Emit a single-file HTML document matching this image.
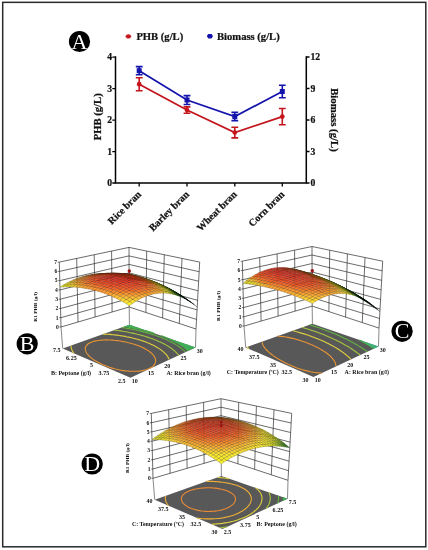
<!DOCTYPE html>
<html><head><meta charset="utf-8"><title>Figure</title>
<style>html,body{margin:0;padding:0;background:#fff}svg{display:block}
text{font-family:"Liberation Serif",serif;font-weight:bold;fill:#111}.a text{stroke:#111;stroke-width:.22px}</style></head>
<body><svg width="428" height="550" viewBox="0 0 428 550">
<rect x="0" y="0" width="428" height="550" fill="#fff"/>
<rect x="2.7" y="2.35" width="423.1" height="544.45" fill="none" stroke="#2a2a2a" stroke-width="1.5"/>
<g class="a"><g stroke="#000" stroke-width="1.5" fill="none" stroke-linecap="square">
<path d="M115.5,57 V183 H306.3 V57"/>
<path d="M115.5,183.0 h-3.2 M306.3,183.0 h3.2 M115.5,151.6 h-3.2 M306.3,151.5 h3.2 M115.5,120.1 h-3.2 M306.3,120.0 h3.2 M115.5,88.7 h-3.2 M306.3,88.5 h3.2 M115.5,57.2 h-3.2 M306.3,57.0 h3.2 M139.2,183 v3.4 M187.0,183 v3.4 M234.8,183 v3.4 M282.3,183 v3.4" stroke-width="1.3" stroke-linecap="butt"/>
</g>
<g stroke="#c4141c" fill="#c4141c" stroke-width="1.75">
<polyline points="139.2,84.2 187.0,110.0 234.8,132.5 282.3,116.6" fill="none"/>
<path d="M139.2,77.8 V90.7 M135.8,77.8 h6.8 M135.8,90.7 h6.8 M187.0,106.9 V113.2 M183.6,106.9 h6.8 M183.6,113.2 h6.8 M234.8,127.2 V137.9 M231.4,127.2 h6.8 M231.4,137.9 h6.8 M282.3,108.5 V124.8 M278.9,108.5 h6.8 M278.9,124.8 h6.8" stroke-width="1.6" fill="none"/>
<circle cx="139.2" cy="84.2" r="2.35" stroke="none"/>
<circle cx="187.0" cy="110.0" r="2.35" stroke="none"/>
<circle cx="234.8" cy="132.5" r="2.35" stroke="none"/>
<circle cx="282.3" cy="116.6" r="2.35" stroke="none"/>
</g>
<g stroke="#1414ac" fill="#1414ac" stroke-width="1.75">
<polyline points="139.2,70.7 187.0,100.0 234.8,116.5 282.3,91.5" fill="none"/>
<path d="M139.2,66.6 V74.7 M135.8,66.6 h6.8 M135.8,74.7 h6.8 M187.0,95.6 V104.5 M183.6,95.6 h6.8 M183.6,104.5 h6.8 M234.8,112.4 V120.6 M231.4,112.4 h6.8 M231.4,120.6 h6.8 M282.3,85.3 V97.7 M278.9,85.3 h6.8 M278.9,97.7 h6.8" stroke-width="1.6" fill="none"/>
<rect x="136.7" y="68.2" width="5" height="5" stroke="none"/>
<rect x="184.5" y="97.5" width="5" height="5" stroke="none"/>
<rect x="232.3" y="114.0" width="5" height="5" stroke="none"/>
<rect x="279.8" y="89.0" width="5" height="5" stroke="none"/>
</g>
<text x="112.2" y="186.2" font-size="9.7" text-anchor="end">0</text>
<text x="310.4" y="186.2" font-size="9.7" text-anchor="start">0</text>
<text x="112.2" y="154.8" font-size="9.7" text-anchor="end">1</text>
<text x="310.4" y="154.7" font-size="9.7" text-anchor="start">3</text>
<text x="112.2" y="123.3" font-size="9.7" text-anchor="end">2</text>
<text x="310.4" y="123.2" font-size="9.7" text-anchor="start">6</text>
<text x="112.2" y="91.9" font-size="9.7" text-anchor="end">3</text>
<text x="310.4" y="91.7" font-size="9.7" text-anchor="start">9</text>
<text x="112.2" y="60.4" font-size="9.7" text-anchor="end">4</text>
<text x="310.4" y="60.2" font-size="9.7" text-anchor="start">12</text>
<text transform="translate(141.8,195.0) rotate(-45)" font-size="10.1" text-anchor="end">Rice bran</text>
<text transform="translate(189.6,195.0) rotate(-45)" font-size="10.1" text-anchor="end">Barley bran</text>
<text transform="translate(237.4,195.0) rotate(-45)" font-size="10.1" text-anchor="end">Wheat bran</text>
<text transform="translate(284.9,195.0) rotate(-45)" font-size="10.1" text-anchor="end">Corn bran</text>
<text transform="translate(100.6,116.8) rotate(-90)" font-size="9.6" text-anchor="middle" textLength="47" lengthAdjust="spacingAndGlyphs">PHB (g/L)</text>
<text transform="translate(330.8,120) rotate(90)" font-size="9.6" text-anchor="middle" textLength="63.6" lengthAdjust="spacingAndGlyphs">Biomass (g/L)</text>
<ellipse cx="128.4" cy="36.4" rx="2.4" ry="2.2" fill="#c4141c"/><path d="M125.6,36.4 h5.6" stroke="#c4141c" stroke-width="1.6"/>
<text x="136.4" y="40.0" font-size="9.6" textLength="46.8" lengthAdjust="spacingAndGlyphs">PHB (g/L)</text>
<rect x="207.7" y="34.0" width="4.4" height="4.4" rx="0.8" fill="#1414ac"/><path d="M207.1,36.2 h5.6" stroke="#1414ac" stroke-width="1.8"/>
<text x="217" y="40.0" font-size="9.6" textLength="62.7" lengthAdjust="spacingAndGlyphs">Biomass (g/L)</text></g>
<g stroke="#2c2c2c" stroke-width="0.7" fill="none">
<path d="M61.0,327.0 L129.2,307.0 L196.0,329.0 M60.8,317.7 L129.2,298.5 L196.5,319.4 M60.5,308.5 L129.1,290.0 L197.1,309.9 M60.3,299.2 L129.1,281.5 L197.6,300.3 M60.0,289.9 L129.1,272.9 L198.1,290.8 M59.8,280.6 L129.1,264.4 L198.6,281.2 M59.5,271.4 L129.0,255.9 L199.2,271.7 M59.3,262.1 L129.0,247.4 L199.7,262.1 M61.0,327.0 L59.3,262.1 M196.0,329.0 L199.7,262.1 M78.0,322.0 L76.7,258.4 M179.3,323.5 L182.0,258.4 M95.1,317.0 L94.2,254.8 M162.6,318.0 L164.3,254.8 M112.1,312.0 L111.6,251.1 M145.9,312.5 L146.7,251.1 M129.2,307.0 L129.0,247.4"/>
<path d="M61.0,327.0 L62.7,348.4 M129.2,307.0 L129.4,324.7 M196.0,329.0 L195.5,347.4" stroke="#555"/>
</g>
<polygon points="130.5,377.8 195.5,347.4 129.4,324.7 62.7,348.4" fill="#585858"/>
<path d="M187.7,350.4 L187.2,349.9 L187.1,349.8 L186.7,349.5 L186.2,349.0 L185.7,348.6 L185.7,348.6 L185.2,348.2 L184.6,347.7 L184.2,347.4 L184.1,347.3 L183.5,346.9 L182.9,346.5 L182.4,346.1 L182.4,346.1 L181.8,345.7 L181.2,345.3 L180.6,344.9 L180.3,344.8 L180.0,344.5 L179.4,344.2 L178.7,343.8 L178.1,343.4 L177.9,343.3 L177.5,343.0 L176.8,342.7 L176.2,342.3 L175.5,342.0 L174.8,341.6 L174.7,341.5 L174.2,341.2 L173.5,340.9 L172.8,340.6 L172.1,340.2 L171.4,339.9 L170.7,339.5 L170.4,339.4 L170.0,339.2 L169.2,338.9 L168.5,338.6 L167.8,338.2 L167.0,337.9 L166.3,337.6 L165.5,337.3 L164.7,337.0 L164.0,336.7 L163.2,336.4 L162.4,336.1 L161.6,335.8 L161.2,335.6 L161.6,335.8 L162.4,336.0 L163.3,336.3 L164.1,336.6 L164.9,336.9 L165.8,337.2 L166.6,337.5 L167.4,337.8 L168.2,338.0 L169.1,338.3 L169.9,338.6 L170.7,338.9 L171.5,339.2 L172.4,339.5 L173.2,339.7 L174.0,340.0 L174.8,340.3 L175.7,340.6 L176.5,340.9 L177.3,341.2 L178.1,341.4 L179.0,341.7 L179.8,342.0 L180.6,342.3 L181.5,342.6 L182.3,342.9 L183.1,343.1 L183.9,343.4 L184.8,343.7 L185.6,344.0 L186.4,344.3 L187.2,344.6 L188.1,344.8 L188.9,345.1 L189.7,345.4 L190.5,345.7 L191.4,346.0 L192.2,346.3 L193.0,346.5 L193.8,346.8 L194.7,347.1 L195.5,347.4 L194.7,347.8 L193.9,348.2 L193.1,348.5 L192.2,348.9 L191.4,349.3 L190.6,349.7 L189.8,350.1 L189.0,350.4 L188.2,350.8 L187.7,350.4 Z" fill="#3fae58" stroke="none"/>
<path d="M126.8,326.8 L125.7,326.6 L124.6,326.4 L125.2,326.2 L126.1,325.9 L126.9,325.6 L127.7,325.3 L128.6,325.0 L129.4,324.7 L130.2,325.0 L131.1,325.3 L131.9,325.6 L132.7,325.8 L133.5,326.1 L134.4,326.4 L135.2,326.7 L136.0,327.0 L136.8,327.3 L137.7,327.5 L138.5,327.8 L139.3,328.1 L140.1,328.4 L141.0,328.7 L141.8,329.0 L142.6,329.2 L143.4,329.5 L144.3,329.8 L145.1,330.1 L145.9,330.4 L146.8,330.7 L147.6,330.9 L148.4,331.2 L149.2,331.5 L150.1,331.8 L150.9,332.1 L151.7,332.4 L152.5,332.6 L153.4,332.9 L154.2,333.2 L155.0,333.5 L155.3,333.6 L155.0,333.5 L154.1,333.2 L153.3,333.0 L152.4,332.7 L151.5,332.4 L150.6,332.2 L149.7,331.9 L148.8,331.7 L147.9,331.4 L147.0,331.2 L146.1,330.9 L145.2,330.7 L144.7,330.5 L144.2,330.4 L143.3,330.2 L142.3,330.0 L141.3,329.7 L140.4,329.5 L139.4,329.3 L139.0,329.2 L138.4,329.0 L137.4,328.8 L136.4,328.6 L135.4,328.4 L134.4,328.2 L134.3,328.2 L133.3,328.0 L132.2,327.8 L131.2,327.6 L130.5,327.4 L130.1,327.4 L129.0,327.2 L127.9,327.0 L127.1,326.8 L126.8,326.8 Z" fill="#3fae58" stroke="none"/>
<path d="M124.6,326.4 L126.8,326.8 L127.9,327.0 L130.1,327.4 L131.2,327.6 L133.3,328.0 L134.4,328.2 L136.4,328.6 L138.4,329.0 L139.4,329.3 L141.3,329.7 L143.3,330.2 L144.7,330.5 L146.1,330.9 L147.9,331.4 L149.7,331.9 L151.5,332.4 L153.3,333.0 L155.0,333.5" stroke="#46b04a" fill="none" stroke-width="1.1"/>
<path d="M161.2,335.6 L162.4,336.1 L164.0,336.7 L165.5,337.3 L167.0,337.9 L168.5,338.6 L170.0,339.2 L170.7,339.5 L172.1,340.2 L173.5,340.9 L174.7,341.5 L175.5,342.0 L176.8,342.7 L177.9,343.3 L178.7,343.8 L180.0,344.5 L180.6,344.9 L181.8,345.7 L182.4,346.1 L183.5,346.9 L184.2,347.4 L185.2,348.2 L185.7,348.6 L186.7,349.5 L187.2,349.9 L188.2,350.8" stroke="#46b04a" fill="none" stroke-width="1.1"/>
<path d="M121.7,327.4 L122.9,327.6 L125.1,328.0 L126.2,328.2 L128.4,328.6 L129.5,328.8 L131.7,329.2 L132.7,329.4 L134.8,329.8 L136.8,330.2 L137.8,330.5 L139.8,330.9 L141.7,331.4 L142.7,331.6 L144.5,332.1 L146.4,332.6 L148.2,333.1 L150.0,333.7 L151.3,334.1 L152.6,334.5 L154.3,335.0 L156.0,335.6 L157.6,336.2 L159.2,336.7 L160.8,337.3 L161.6,337.7 L163.1,338.3 L164.6,338.9 L166.1,339.6 L167.6,340.2 L168.5,340.7 L169.7,341.2 L171.1,341.9 L172.4,342.6 L173.1,343.0 L174.4,343.7 L175.5,344.4 L176.3,344.9 L177.5,345.6 L178.1,346.0 L179.3,346.8 L179.9,347.2 L181.0,348.1 L181.5,348.5 L182.6,349.4 L183.1,349.8 L184.1,350.7 L184.6,351.1 L185.3,351.8" stroke="#62b440" fill="none" stroke-width="1.1"/>
<path d="M114.2,330.1 L115.4,330.3 L117.3,330.5 L119.1,330.7 L120.3,330.9 L122.6,331.3 L123.8,331.5 L126.0,331.8 L127.1,332.0 L129.2,332.5 L130.3,332.7 L132.4,333.1 L133.9,333.4 L135.4,333.8 L137.4,334.3 L139.2,334.7 L140.3,335.0 L142.1,335.5 L144.0,336.0 L145.7,336.6 L147.5,337.1 L149.2,337.7 L150.9,338.3 L152.5,338.8 L154.2,339.5 L155.7,340.1 L157.3,340.7 L158.8,341.4 L160.3,342.0 L161.7,342.7 L162.4,343.1 L163.8,343.8 L165.2,344.5 L165.8,344.9 L167.1,345.6 L168.4,346.4 L169.0,346.8 L170.2,347.6 L170.8,348.0 L171.9,348.8 L172.5,349.2 L173.6,350.1 L174.1,350.5 L175.1,351.4 L175.6,351.9 L176.4,352.6 L177.0,353.3 L177.5,353.8 L178.2,354.6 L178.7,355.3" stroke="#a6c83e" fill="none" stroke-width="1.1"/>
<path d="M130.5,377.8 L130.4,377.8" stroke="#e2d23e" fill="none" stroke-width="1.1"/>
<path d="M73.9,353.3 L73.4,352.6 L73.1,352.1 L72.7,351.4 L72.2,350.5 L71.9,349.8 L71.6,349.2 L71.4,348.6 L71.3,348.0 L71.1,347.4 L71.1,346.7 L71.0,346.1 L71.0,345.4" stroke="#e2d23e" fill="none" stroke-width="1.1"/>
<path d="M103.0,334.1 L104.6,334.1 L106.1,334.2 L107.9,334.3 L109.9,334.4 L111.8,334.6 L113.2,334.7 L114.5,334.9 L116.6,335.1 L118.2,335.3 L119.4,335.5 L121.8,335.9 L122.9,336.0 L125.2,336.4 L126.3,336.7 L128.4,337.1 L129.4,337.3 L131.5,337.8 L133.5,338.3 L134.5,338.5 L136.4,339.0 L138.2,339.5 L140.0,340.1 L141.8,340.7 L142.7,340.9 L144.4,341.5 L146.0,342.1 L147.6,342.8 L148.4,343.1 L150.0,343.8 L151.5,344.4 L152.9,345.1 L154.4,345.8 L155.1,346.2 L156.4,346.9 L157.7,347.7 L158.3,348.1 L159.6,348.9 L160.3,349.4 L161.3,350.1 L162.0,350.7 L163.0,351.4 L163.5,351.9 L164.5,352.8 L165.0,353.3 L165.7,354.0 L166.3,354.7 L166.7,355.2 L167.3,356.0 L167.8,356.8 L168.1,357.4 L168.4,357.9 L168.8,358.6 L169.1,359.4" stroke="#e2d23e" fill="none" stroke-width="1.1"/>
<path d="M109.2,367.2 L107.4,366.5 L105.6,365.8 L103.8,365.1 L102.1,364.4 L100.5,363.6 L98.9,362.8 L97.8,362.2 L96.7,361.6 L95.3,360.8 L94.0,359.9 L93.3,359.5 L92.1,358.6 L91.5,358.1 L90.4,357.1 L89.8,356.7 L88.8,355.7 L88.3,355.2 L87.8,354.5 L87.1,353.6 L86.7,353.0 L86.4,352.5 L86.0,351.8 L85.7,351.0 L85.5,350.2 L85.4,349.5 L85.3,348.9 L85.3,348.2 L85.4,347.6 L85.6,347.0 L85.9,346.4 L86.2,345.9 L86.9,345.0 L87.4,344.5 L88.2,343.8 L89.1,343.2 L90.5,342.5 L92.1,341.9 L93.9,341.3 L95.9,340.9 L96.9,340.7 L99.3,340.3 L100.5,340.2 L102.0,340.1 L104.0,340.0 L105.8,339.9 L107.5,339.9 L109.1,340.0 L110.6,340.0 L112.1,340.1 L113.7,340.2 L115.9,340.5 L117.5,340.6 L118.7,340.8 L121.1,341.2 L122.2,341.4 L124.3,341.7 L125.5,342.0 L127.6,342.5 L128.6,342.7 L130.6,343.2 L132.5,343.8 L134.3,344.3 L135.5,344.7 L137.0,345.2 L138.6,345.8 L140.2,346.5 L141.0,346.8 L142.5,347.5 L144.0,348.2 L145.4,349.0 L146.1,349.4 L147.4,350.1 L148.6,351.0 L149.2,351.4 L150.3,352.2 L150.9,352.7 L151.8,353.5 L152.4,354.1 L152.8,354.6 L153.6,355.5 L154.0,356.1 L154.4,356.7 L154.7,357.3 L155.1,358.2 L155.4,358.9 L155.5,359.6 L155.6,360.3 L155.6,361.0 L155.5,361.8 L155.4,362.4 L155.2,363.0 L154.9,363.6 L154.5,364.4 L153.8,365.3 L153.4,365.8 L152.2,366.8 L151.6,367.2 L150.2,368.0 L148.6,368.8 L146.8,369.5 L145.8,369.8 L143.6,370.3 L142.5,370.6 L140.5,370.9 L138.6,371.1 L137.1,371.2 L135.6,371.3 L134.0,371.3 L132.3,371.3 L130.4,371.3 L128.6,371.1 L127.2,371.0 L125.9,370.9 L124.0,370.6 L122.1,370.4 L120.9,370.2 L118.6,369.7 L117.5,369.5 L115.3,369.0 L114.2,368.7 L112.2,368.1 L110.2,367.5 L109.2,367.2 Z" stroke="#ea9434" fill="none" stroke-width="1.1"/>
<path d="M61.0,327.0 h-1.6" stroke="#222" stroke-width="0.6"/>
<text x="57.4" y="328.8" font-size="5.6" text-anchor="middle" >0</text>
<path d="M60.8,317.7 h-1.6" stroke="#222" stroke-width="0.6"/>
<text x="57.2" y="319.5" font-size="5.6" text-anchor="middle" >1</text>
<path d="M60.5,308.5 h-1.6" stroke="#222" stroke-width="0.6"/>
<text x="56.9" y="310.3" font-size="5.6" text-anchor="middle" >2</text>
<path d="M60.3,299.2 h-1.6" stroke="#222" stroke-width="0.6"/>
<text x="56.7" y="301.0" font-size="5.6" text-anchor="middle" >3</text>
<path d="M60.0,289.9 h-1.6" stroke="#222" stroke-width="0.6"/>
<text x="56.4" y="291.7" font-size="5.6" text-anchor="middle" >4</text>
<path d="M59.8,280.6 h-1.6" stroke="#222" stroke-width="0.6"/>
<text x="56.2" y="282.4" font-size="5.6" text-anchor="middle" >5</text>
<path d="M59.5,271.4 h-1.6" stroke="#222" stroke-width="0.6"/>
<text x="55.9" y="273.2" font-size="5.6" text-anchor="middle" >6</text>
<path d="M59.3,262.1 h-1.6" stroke="#222" stroke-width="0.6"/>
<text x="55.7" y="263.9" font-size="5.6" text-anchor="middle" >7</text>
<g stroke-opacity="0.7" stroke-width="0.32" stroke-linejoin="round">
<polygon points="129.1,278.5 132.2,280.3 129.1,280.0 126.0,278.8" fill="#062a0d" stroke="#010a03"/>
<polygon points="126.0,277.4 129.1,278.5 126.0,278.8 122.8,277.7" fill="#114c16" stroke="#041205"/>
<polygon points="132.2,278.8 135.3,280.6 132.2,280.3 129.1,278.5" fill="#05260c" stroke="#010903"/>
<polygon points="122.8,276.5 126.0,277.4 122.8,277.7 119.7,276.8" fill="#23691b" stroke="#081907"/>
<polygon points="129.1,277.3 132.2,278.8 129.1,278.5 126.0,277.4" fill="#114b15" stroke="#041205"/>
<polygon points="135.4,279.2 138.5,281.0 135.3,280.6 132.2,278.8" fill="#05260c" stroke="#010903"/>
<polygon points="119.7,275.6 122.8,276.5 119.7,276.8 116.5,276.0" fill="#468c1f" stroke="#112207"/>
<polygon points="125.9,276.3 129.1,277.3 126.0,277.4 122.8,276.5" fill="#367b1d" stroke="#0d1e07"/>
<polygon points="132.2,277.6 135.4,279.2 132.2,278.8 129.1,277.3" fill="#0e3f12" stroke="#030f04"/>
<polygon points="138.5,279.7 141.6,281.5 138.5,281.0 135.4,279.2" fill="#05250c" stroke="#010903"/>
<polygon points="122.8,275.4 125.9,276.3 122.8,276.5 119.7,275.6" fill="#6aa221" stroke="#1a2708"/>
<polygon points="135.4,278.1 138.5,279.7 135.4,279.2 132.2,277.6" fill="#0e4013" stroke="#030f04"/>
<polygon points="116.5,275.0 119.7,275.6 116.5,276.0 113.4,275.3" fill="#85b023" stroke="#202a08"/>
<polygon points="129.1,276.2 132.2,277.6 129.1,277.3 125.9,276.3" fill="#36791c" stroke="#0d1d07"/>
<polygon points="141.6,280.3 144.7,282.1 141.6,281.5 138.5,279.7" fill="#05250c" stroke="#010903"/>
<polygon points="113.4,274.4 116.5,275.0 113.4,275.3 110.2,274.8" fill="#c1ce27" stroke="#2e3109"/>
<polygon points="119.7,274.7 122.8,275.4 119.7,275.6 116.5,275.0" fill="#b4c726" stroke="#2b3009"/>
<polygon points="126.0,275.3 129.1,276.2 125.9,276.3 122.8,275.4" fill="#92b523" stroke="#232b08"/>
<polygon points="132.2,276.6 135.4,278.1 132.2,277.6 129.1,276.2" fill="#29681a" stroke="#0a1906"/>
<polygon points="138.5,278.6 141.6,280.3 138.5,279.7 135.4,278.1" fill="#0f4113" stroke="#031004"/>
<polygon points="144.8,280.9 147.8,282.8 144.7,282.1 141.6,280.3" fill="#05240b" stroke="#010903"/>
<polygon points="110.2,274.0 113.4,274.4 110.2,274.8 107.1,274.4" fill="#e4de2a" stroke="#37350a"/>
<polygon points="116.5,274.2 119.7,274.7 116.5,275.0 113.4,274.4" fill="#e1dd29" stroke="#36350a"/>
<polygon points="129.1,275.4 132.2,276.6 129.1,276.2 126.0,275.3" fill="#90b122" stroke="#232a08"/>
<polygon points="141.6,279.2 144.8,280.9 141.6,280.3 138.5,278.6" fill="#0f4013" stroke="#030f04"/>
<polygon points="147.9,281.6 151.0,283.5 147.8,282.8 144.8,280.9" fill="#05240b" stroke="#010903"/>
<polygon points="122.8,274.6 126.0,275.3 122.8,275.4 119.7,274.7" fill="#cfd428" stroke="#323309"/>
<polygon points="135.4,277.1 138.5,278.6 135.4,278.1 132.2,276.6" fill="#2b691a" stroke="#0a1906"/>
<polygon points="113.4,273.8 116.5,274.2 113.4,274.4 110.2,274.0" fill="#ede02b" stroke="#39360a"/>
<polygon points="144.8,279.9 147.9,281.6 144.8,280.9 141.6,279.2" fill="#0e3f12" stroke="#030f04"/>
<polygon points="107.1,273.8 110.2,274.0 107.1,274.4 103.9,274.2" fill="#eee12b" stroke="#39360a"/>
<polygon points="119.7,274.1 122.8,274.6 119.7,274.7 116.5,274.2" fill="#e8de2a" stroke="#38350a"/>
<polygon points="126.0,274.6 129.1,275.4 126.0,275.3 122.8,274.6" fill="#e0db29" stroke="#36350a"/>
<polygon points="132.3,275.9 135.4,277.1 132.2,276.6 129.1,275.4" fill="#729d1f" stroke="#1b2608"/>
<polygon points="138.5,277.7 141.6,279.2 138.5,278.6 135.4,277.1" fill="#2b6919" stroke="#0a1906"/>
<polygon points="151.0,282.5 154.1,284.4 151.0,283.5 147.9,281.6" fill="#05230b" stroke="#010803"/>
<polygon points="103.9,273.7 107.1,273.8 103.9,274.2 100.8,274.1" fill="#f7e02e" stroke="#3b360b"/>
<polygon points="110.2,273.5 113.4,273.8 110.2,274.0 107.1,273.8" fill="#f7db2e" stroke="#3b350b"/>
<polygon points="116.5,273.6 119.7,274.1 116.5,274.2 113.4,273.8" fill="#f5df2d" stroke="#3b360b"/>
<polygon points="122.8,274.1 126.0,274.6 122.8,274.6 119.7,274.1" fill="#eedf2b" stroke="#39360a"/>
<polygon points="129.1,274.8 132.3,275.9 129.1,275.4 126.0,274.6" fill="#dbd528" stroke="#34330a"/>
<polygon points="135.4,276.4 138.5,277.7 135.4,277.1 132.3,275.9" fill="#749d1f" stroke="#1c2608"/>
<polygon points="141.7,278.4 144.8,279.9 141.6,279.2 138.5,277.7" fill="#2b6819" stroke="#0a1906"/>
<polygon points="147.9,280.8 151.0,282.5 147.9,281.6 144.8,279.9" fill="#0e3d12" stroke="#030f04"/>
<polygon points="154.1,283.4 157.2,285.3 154.1,284.4 151.0,282.5" fill="#05230b" stroke="#010803"/>
<polygon points="100.7,273.8 103.9,273.7 100.8,274.1 97.6,274.1" fill="#fecb34" stroke="#3d310d"/>
<polygon points="107.1,273.4 110.2,273.5 107.1,273.8 103.9,273.7" fill="#ffc336" stroke="#3d2f0d"/>
<polygon points="113.4,273.4 116.5,273.6 113.4,273.8 110.2,273.5" fill="#ffc135" stroke="#3d2e0d"/>
<polygon points="119.7,273.6 122.8,274.1 119.7,274.1 116.5,273.6" fill="#fbca33" stroke="#3c300c"/>
<polygon points="126.0,274.2 129.1,274.8 126.0,274.6 122.8,274.1" fill="#f3da2d" stroke="#3a340b"/>
<polygon points="132.3,275.3 135.4,276.4 132.3,275.9 129.1,274.8" fill="#c9c925" stroke="#303009"/>
<polygon points="138.6,277.1 141.7,278.4 138.5,277.7 135.4,276.4" fill="#739c1f" stroke="#1c2507"/>
<polygon points="144.8,279.2 147.9,280.8 144.8,279.9 141.7,278.4" fill="#296519" stroke="#0a1806"/>
<polygon points="151.1,281.7 154.1,283.4 151.0,282.5 147.9,280.8" fill="#0d3a11" stroke="#030e04"/>
<polygon points="157.3,284.4 160.3,286.4 157.2,285.3 154.1,283.4" fill="#05220b" stroke="#010803"/>
<polygon points="97.6,274.0 100.7,273.8 97.6,274.1 94.4,274.4" fill="#ffbe35" stroke="#3d2e0d"/>
<polygon points="103.9,273.5 107.1,273.4 103.9,273.7 100.7,273.8" fill="#ffb232" stroke="#3d2b0c"/>
<polygon points="110.2,273.3 113.4,273.4 110.2,273.5 107.1,273.4" fill="#ffad31" stroke="#3d290c"/>
<polygon points="116.5,273.3 119.7,273.6 116.5,273.6 113.4,273.4" fill="#ffad31" stroke="#3d2a0c"/>
<polygon points="122.8,273.7 126.0,274.2 122.8,274.1 119.7,273.6" fill="#ffb533" stroke="#3d2b0c"/>
<polygon points="129.2,274.4 132.3,275.3 129.1,274.8 126.0,274.2" fill="#eed62c" stroke="#39330b"/>
<polygon points="135.4,276.0 138.6,277.1 135.4,276.4 132.3,275.3" fill="#c8c825" stroke="#303009"/>
<polygon points="141.7,277.9 144.8,279.2 141.7,278.4 138.6,277.1" fill="#6f991f" stroke="#1b2507"/>
<polygon points="148.0,280.1 151.1,281.7 147.9,280.8 144.8,279.2" fill="#256118" stroke="#091706"/>
<polygon points="154.2,282.7 157.3,284.4 154.1,283.4 151.1,281.7" fill="#0c3710" stroke="#030d04"/>
<polygon points="160.4,285.6 163.4,287.5 160.3,286.4 157.3,284.4" fill="#05210a" stroke="#010802"/>
<polygon points="94.4,274.4 97.6,274.0 94.4,274.4 91.3,274.7" fill="#ffb433" stroke="#3d2b0c"/>
<polygon points="100.7,273.7 103.9,273.5 100.7,273.8 97.6,274.0" fill="#ffa530" stroke="#3d280b"/>
<polygon points="107.1,273.3 110.2,273.3 107.1,273.4 103.9,273.5" fill="#ff9c2e" stroke="#3d250b"/>
<polygon points="113.4,273.2 116.5,273.3 113.4,273.4 110.2,273.3" fill="#ff992d" stroke="#3d250b"/>
<polygon points="119.7,273.4 122.8,273.7 119.7,273.6 116.5,273.3" fill="#ff9d2e" stroke="#3d260b"/>
<polygon points="126.0,273.9 129.2,274.4 126.0,274.2 122.8,273.7" fill="#ffa730" stroke="#3d280c"/>
<polygon points="132.3,275.0 135.4,276.0 132.3,275.3 129.2,274.4" fill="#e2d329" stroke="#36330a"/>
<polygon points="138.6,276.7 141.7,277.9 138.6,277.1 135.4,276.0" fill="#c5c625" stroke="#2f2f09"/>
<polygon points="144.9,278.7 148.0,280.1 144.8,279.2 141.7,277.9" fill="#68941e" stroke="#192407"/>
<polygon points="151.1,281.1 154.2,282.7 151.1,281.7 148.0,280.1" fill="#215c18" stroke="#081606"/>
<polygon points="157.3,283.7 160.4,285.6 157.3,284.4 154.2,282.7" fill="#0a330f" stroke="#020c04"/>
<polygon points="163.5,286.8 166.6,288.8 163.4,287.5 160.4,285.6" fill="#05200a" stroke="#010802"/>
<polygon points="91.3,274.9 94.4,274.4 91.3,274.7 88.1,275.2" fill="#ffae31" stroke="#3d2a0c"/>
<polygon points="97.6,274.1 100.7,273.7 97.6,274.0 94.4,274.4" fill="#ff9b2e" stroke="#3d250b"/>
<polygon points="103.9,273.5 107.1,273.3 103.9,273.5 100.7,273.7" fill="#ff8e2b" stroke="#3d220a"/>
<polygon points="110.2,273.3 113.4,273.2 110.2,273.3 107.1,273.3" fill="#fe872b" stroke="#3d200a"/>
<polygon points="116.5,273.3 119.7,273.4 116.5,273.3 113.4,273.2" fill="#fe872b" stroke="#3d200a"/>
<polygon points="122.9,273.6 126.0,273.9 122.8,273.7 119.7,273.4" fill="#ff8e2b" stroke="#3d220a"/>
<polygon points="129.2,274.3 132.3,275.0 129.2,274.4 126.0,273.9" fill="#fe9f2e" stroke="#3d260b"/>
<polygon points="135.5,275.7 138.6,276.7 135.4,276.0 132.3,275.0" fill="#e0d128" stroke="#36320a"/>
<polygon points="141.8,277.5 144.9,278.7 141.7,277.9 138.6,276.7" fill="#c0c224" stroke="#2e2f09"/>
<polygon points="148.0,279.7 151.1,281.1 148.0,280.1 144.9,278.7" fill="#5e8e1d" stroke="#172207"/>
<polygon points="154.3,282.1 157.3,283.7 154.2,282.7 151.1,281.1" fill="#1b5617" stroke="#061505"/>
<polygon points="160.5,284.9 163.5,286.8 160.4,285.6 157.3,283.7" fill="#092e0e" stroke="#020b03"/>
<polygon points="166.6,288.1 169.7,290.1 166.6,288.8 163.5,286.8" fill="#041f0a" stroke="#010702"/>
<polygon points="88.1,275.6 91.3,274.9 88.1,275.2 85.0,275.9" fill="#ffab31" stroke="#3d290c"/>
<polygon points="94.4,274.6 97.6,274.1 94.4,274.4 91.3,274.9" fill="#ff952c" stroke="#3d240b"/>
<polygon points="100.7,273.9 103.9,273.5 100.7,273.7 97.6,274.1" fill="#fe832a" stroke="#3d200a"/>
<polygon points="107.1,273.5 110.2,273.3 107.1,273.3 103.9,273.5" fill="#fd7829" stroke="#3d1d0a"/>
<polygon points="119.7,273.5 122.9,273.6 119.7,273.4 116.5,273.3" fill="#fd7729" stroke="#3d1d0a"/>
<polygon points="126.0,273.9 129.2,274.3 126.0,273.9 122.9,273.6" fill="#fe822a" stroke="#3d1f0a"/>
<polygon points="132.3,275.0 135.5,275.7 132.3,275.0 129.2,274.3" fill="#f3ac30" stroke="#3a290c"/>
<polygon points="138.6,276.5 141.8,277.5 138.6,276.7 135.5,275.7" fill="#ded028" stroke="#35320a"/>
<polygon points="151.2,280.7 154.3,282.1 151.1,281.1 148.0,279.7" fill="#51871c" stroke="#132007"/>
<polygon points="157.4,283.3 160.5,284.9 157.3,283.7 154.3,282.1" fill="#144e16" stroke="#051305"/>
<polygon points="163.6,286.2 166.6,288.1 163.5,286.8 160.5,284.9" fill="#07290c" stroke="#020a03"/>
<polygon points="169.7,289.5 172.8,291.6 169.7,290.1 166.6,288.1" fill="#041e09" stroke="#010702"/>
<polygon points="113.4,273.3 116.5,273.3 113.4,273.2 110.2,273.3" fill="#fd7428" stroke="#3d1c0a"/>
<polygon points="144.9,278.5 148.0,279.7 144.9,278.7 141.8,277.5" fill="#b8be24" stroke="#2c2e09"/>
<polygon points="91.3,275.3 94.4,274.6 91.3,274.9 88.1,275.6" fill="#ff922c" stroke="#3d230b"/>
<polygon points="103.9,273.9 107.1,273.5 103.9,273.5 100.7,273.9" fill="#fd6d28" stroke="#3d1a0a"/>
<polygon points="122.9,273.8 126.0,273.9 122.9,273.6 119.7,273.5" fill="#fd6a27" stroke="#3d1909"/>
<polygon points="135.5,275.7 138.6,276.5 135.5,275.7 132.3,275.0" fill="#f1ad31" stroke="#3a2a0c"/>
<polygon points="154.3,281.9 157.4,283.3 154.3,282.1 151.2,280.7" fill="#427f1b" stroke="#101e07"/>
<polygon points="166.7,287.6 169.7,289.5 166.6,288.1 163.6,286.2" fill="#05230b" stroke="#010803"/>
<polygon points="85.0,276.4 88.1,275.6 85.0,275.9 81.9,276.7" fill="#ffab31" stroke="#3d290c"/>
<polygon points="97.6,274.5 100.7,273.9 97.6,274.1 94.4,274.6" fill="#fe7c29" stroke="#3d1e0a"/>
<polygon points="110.2,273.5 113.4,273.3 110.2,273.3 107.1,273.5" fill="#fc6527" stroke="#3d1809"/>
<polygon points="116.6,273.5 119.7,273.5 116.5,273.3 113.4,273.3" fill="#fc6427" stroke="#3d1809"/>
<polygon points="129.2,274.4 132.3,275.0 129.2,274.3 126.0,273.9" fill="#fe7929" stroke="#3d1d0a"/>
<polygon points="141.8,277.4 144.9,278.5 141.8,277.5 138.6,276.5" fill="#dbce28" stroke="#35320a"/>
<polygon points="148.1,279.5 151.2,280.7 148.0,279.7 144.9,278.5" fill="#afb923" stroke="#2a2c08"/>
<polygon points="160.5,284.6 163.6,286.2 160.5,284.9 157.4,283.3" fill="#114814" stroke="#041105"/>
<polygon points="172.8,291.0 175.8,293.1 172.8,291.6 169.7,289.5" fill="#041d09" stroke="#010702"/>
<polygon points="81.8,277.4 85.0,276.4 81.9,276.7 78.7,277.7" fill="#ffaf32" stroke="#3d2a0c"/>
<polygon points="88.1,276.2 91.3,275.3 88.1,275.6 85.0,276.4" fill="#ff932c" stroke="#3d230b"/>
<polygon points="94.4,275.2 97.6,274.5 94.4,274.6 91.3,275.3" fill="#fe7929" stroke="#3d1d0a"/>
<polygon points="100.8,274.4 103.9,273.9 100.7,273.9 97.6,274.5" fill="#fc6727" stroke="#3d1909"/>
<polygon points="107.1,273.9 110.2,273.5 107.1,273.5 103.9,273.9" fill="#fb5c26" stroke="#3c1609"/>
<polygon points="113.4,273.7 116.6,273.5 113.4,273.3 110.2,273.5" fill="#fb5826" stroke="#3c1509"/>
<polygon points="119.7,273.8 122.9,273.8 119.7,273.5 116.6,273.5" fill="#fb5926" stroke="#3c1509"/>
<polygon points="126.1,274.2 129.2,274.4 126.0,273.9 122.9,273.8" fill="#fc6026" stroke="#3d1709"/>
<polygon points="132.4,275.1 135.5,275.7 132.3,275.0 129.2,274.4" fill="#fd7729" stroke="#3d1c0a"/>
<polygon points="138.7,276.6 141.8,277.4 138.6,276.5 135.5,275.7" fill="#efb231" stroke="#392b0c"/>
<polygon points="145.0,278.4 148.1,279.5 144.9,278.5 141.8,277.4" fill="#d8cd27" stroke="#343109"/>
<polygon points="151.2,280.6 154.3,281.9 151.2,280.7 148.1,279.5" fill="#a3b322" stroke="#272b08"/>
<polygon points="157.5,283.1 160.5,284.6 157.4,283.3 154.3,281.9" fill="#39751a" stroke="#0e1c06"/>
<polygon points="163.7,285.9 166.7,287.6 163.6,286.2 160.5,284.6" fill="#0f4113" stroke="#041004"/>
<polygon points="169.8,289.1 172.8,291.0 169.7,289.5 166.7,287.6" fill="#05220b" stroke="#010803"/>
<polygon points="175.9,292.7 178.9,294.8 175.8,293.1 172.8,291.0" fill="#041b09" stroke="#010702"/>
<polygon points="78.7,278.6 81.8,277.4 78.7,277.7 75.6,278.9" fill="#ffb633" stroke="#3d2c0c"/>
<polygon points="85.0,277.2 88.1,276.2 85.0,276.4 81.8,277.4" fill="#ff972d" stroke="#3d240b"/>
<polygon points="91.3,276.0 94.4,275.2 91.3,275.3 88.1,276.2" fill="#fe7a29" stroke="#3d1d0a"/>
<polygon points="97.6,275.1 100.8,274.4 97.6,274.5 94.4,275.2" fill="#fc6427" stroke="#3d1809"/>
<polygon points="103.9,274.5 107.1,273.9 103.9,273.9 100.8,274.4" fill="#fa5726" stroke="#3c1509"/>
<polygon points="110.2,274.1 113.4,273.7 110.2,273.5 107.1,273.9" fill="#f95225" stroke="#3c1409"/>
<polygon points="116.6,274.0 119.7,273.8 116.6,273.5 113.4,273.7" fill="#f95025" stroke="#3c1309"/>
<polygon points="129.2,274.8 132.4,275.1 129.2,274.4 126.1,274.2" fill="#fb5c26" stroke="#3c1609"/>
<polygon points="141.9,277.6 145.0,278.4 141.8,277.4 138.7,276.6" fill="#ecb831" stroke="#392c0c"/>
<polygon points="148.1,279.5 151.2,280.6 148.1,279.5 145.0,278.4" fill="#d4cb26" stroke="#333109"/>
<polygon points="154.4,281.8 157.5,283.1 154.3,281.9 151.2,280.6" fill="#93aa21" stroke="#232908"/>
<polygon points="160.6,284.4 163.7,285.9 160.5,284.6 157.5,283.1" fill="#2f6a19" stroke="#0b1a06"/>
<polygon points="166.8,287.4 169.8,289.1 166.7,287.6 163.7,285.9" fill="#0d3a11" stroke="#030e04"/>
<polygon points="172.9,290.7 175.9,292.7 172.8,291.0 169.8,289.1" fill="#05210a" stroke="#010802"/>
<polygon points="179.0,294.4 182.0,296.6 178.9,294.8 175.9,292.7" fill="#041a08" stroke="#010602"/>
<polygon points="122.9,274.2 126.1,274.2 122.9,273.8 119.7,273.8" fill="#f95325" stroke="#3c1409"/>
<polygon points="135.6,276.0 138.7,276.6 135.5,275.7 132.4,275.1" fill="#fd7829" stroke="#3d1d0a"/>
<polygon points="75.6,279.9 78.7,278.6 75.6,278.9 72.4,280.2" fill="#ffc035" stroke="#3d2e0d"/>
<polygon points="81.9,278.4 85.0,277.2 81.8,277.4 78.7,278.6" fill="#ff9e2e" stroke="#3d260b"/>
<polygon points="94.5,276.0 97.6,275.1 94.4,275.2 91.3,276.0" fill="#fc6527" stroke="#3d1809"/>
<polygon points="107.1,274.6 110.2,274.1 107.1,273.9 103.9,274.5" fill="#f84d25" stroke="#3b1309"/>
<polygon points="113.4,274.4 116.6,274.0 113.4,273.7 110.2,274.1" fill="#f74925" stroke="#3b1209"/>
<polygon points="145.0,278.7 148.1,279.5 145.0,278.4 141.9,277.6" fill="#e9bf2f" stroke="#382e0b"/>
<polygon points="151.3,280.7 154.4,281.8 151.2,280.6 148.1,279.5" fill="#cfc926" stroke="#323009"/>
<polygon points="163.7,285.9 166.8,287.4 163.7,285.9 160.6,284.4" fill="#245f18" stroke="#091706"/>
<polygon points="176.0,292.4 179.0,294.4 175.9,292.7 172.9,290.7" fill="#041f0a" stroke="#010802"/>
<polygon points="182.1,296.3 185.1,298.4 182.0,296.6 179.0,294.4" fill="#041908" stroke="#010602"/>
<polygon points="88.1,277.1 91.3,276.0 88.1,276.2 85.0,277.2" fill="#fe7f2a" stroke="#3d1f0a"/>
<polygon points="100.8,275.2 103.9,274.5 100.8,274.4 97.6,275.1" fill="#fa5626" stroke="#3c1509"/>
<polygon points="119.8,274.4 122.9,274.2 119.7,273.8 116.6,274.0" fill="#f74a25" stroke="#3b1209"/>
<polygon points="126.1,274.7 129.2,274.8 126.1,274.2 122.9,274.2" fill="#f84f25" stroke="#3c1309"/>
<polygon points="132.4,275.6 135.6,276.0 132.4,275.1 129.2,274.8" fill="#fb5b26" stroke="#3c1609"/>
<polygon points="138.7,277.0 141.9,277.6 138.7,276.6 135.6,276.0" fill="#fe7b29" stroke="#3d1d0a"/>
<polygon points="157.5,283.1 160.6,284.4 157.5,283.1 154.4,281.8" fill="#7c9e1f" stroke="#1e2607"/>
<polygon points="169.9,289.0 172.9,290.7 169.8,289.1 166.8,287.4" fill="#0a320f" stroke="#020c04"/>
<polygon points="78.7,279.7 81.9,278.4 78.7,278.6 75.6,279.9" fill="#ffa930" stroke="#3d290c"/>
<polygon points="110.3,274.9 113.4,274.4 110.2,274.1 107.1,274.6" fill="#f64525" stroke="#3b1109"/>
<polygon points="148.2,279.9 151.3,280.7 148.1,279.5 145.0,278.7" fill="#e5c82c" stroke="#37300a"/>
<polygon points="179.1,294.3 182.1,296.3 179.0,294.4 176.0,292.4" fill="#041e09" stroke="#010702"/>
<polygon points="72.4,281.4 75.6,279.9 72.4,280.2 69.3,281.7" fill="#ffcd34" stroke="#3d310d"/>
<polygon points="85.0,278.3 88.1,277.1 85.0,277.2 81.9,278.4" fill="#fe882b" stroke="#3d210a"/>
<polygon points="91.3,277.0 94.5,276.0 91.3,276.0 88.1,277.1" fill="#fd6a27" stroke="#3d1909"/>
<polygon points="97.6,276.0 100.8,275.2 97.6,275.1 94.5,276.0" fill="#fa5626" stroke="#3c1509"/>
<polygon points="103.9,275.3 107.1,274.6 103.9,274.5 100.8,275.2" fill="#f74b25" stroke="#3b1209"/>
<polygon points="116.6,274.7 119.8,274.4 116.6,274.0 113.4,274.4" fill="#f54325" stroke="#3b1009"/>
<polygon points="122.9,274.9 126.1,274.7 122.9,274.2 119.8,274.4" fill="#f64525" stroke="#3b1109"/>
<polygon points="129.3,275.4 132.4,275.6 129.2,274.8 126.1,274.7" fill="#f84d25" stroke="#3b1209"/>
<polygon points="135.6,276.5 138.7,277.0 135.6,276.0 132.4,275.6" fill="#fc5d26" stroke="#3c1609"/>
<polygon points="141.9,278.0 145.0,278.7 141.9,277.6 138.7,277.0" fill="#fb862a" stroke="#3c200a"/>
<polygon points="154.4,282.0 157.5,283.1 154.4,281.8 151.3,280.7" fill="#cbc725" stroke="#313009"/>
<polygon points="160.7,284.6 163.7,285.9 160.6,284.4 157.5,283.1" fill="#63911e" stroke="#182307"/>
<polygon points="166.9,287.5 169.9,289.0 166.8,287.4 163.7,285.9" fill="#185316" stroke="#061405"/>
<polygon points="173.0,290.7 176.0,292.4 172.9,290.7 169.9,289.0" fill="#072a0d" stroke="#020a03"/>
<polygon points="185.2,298.2 188.1,300.4 185.1,298.4 182.1,296.3" fill="#041808" stroke="#010602"/>
<polygon points="69.3,283.1 72.4,281.4 69.3,281.7 66.2,283.3" fill="#f8e22e" stroke="#3c360b"/>
<polygon points="75.6,281.3 78.7,279.7 75.6,279.9 72.4,281.4" fill="#ffb833" stroke="#3d2c0c"/>
<polygon points="81.9,279.6 85.0,278.3 81.9,278.4 78.7,279.7" fill="#ff942c" stroke="#3d240b"/>
<polygon points="88.2,278.3 91.3,277.0 88.1,277.1 85.0,278.3" fill="#fd7328" stroke="#3d1c0a"/>
<polygon points="94.5,277.1 97.6,276.0 94.5,276.0 91.3,277.0" fill="#fb5a26" stroke="#3c1509"/>
<polygon points="100.8,276.2 103.9,275.3 100.8,275.2 97.6,276.0" fill="#f84c25" stroke="#3b1209"/>
<polygon points="107.1,275.6 110.3,274.9 107.1,274.6 103.9,275.3" fill="#f54325" stroke="#3b1009"/>
<polygon points="113.4,275.3 116.6,274.7 113.4,274.4 110.3,274.9" fill="#f43e24" stroke="#3b0f09"/>
<polygon points="119.8,275.2 122.9,274.9 119.8,274.4 116.6,274.7" fill="#f43e24" stroke="#3b0f09"/>
<polygon points="126.1,275.5 129.3,275.4 126.1,274.7 122.9,274.9" fill="#f54225" stroke="#3b1009"/>
<polygon points="132.4,276.3 135.6,276.5 132.4,275.6 129.3,275.4" fill="#f84d25" stroke="#3b1309"/>
<polygon points="138.8,277.6 141.9,278.0 138.7,277.0 135.6,276.5" fill="#fc6126" stroke="#3d1709"/>
<polygon points="145.1,279.2 148.2,279.9 145.0,278.7 141.9,278.0" fill="#f8952c" stroke="#3c240b"/>
<polygon points="151.3,281.2 154.4,282.0 151.3,280.7 148.2,279.9" fill="#e0d028" stroke="#36320a"/>
<polygon points="157.6,283.5 160.7,284.6 157.5,283.1 154.4,282.0" fill="#babf24" stroke="#2d2e09"/>
<polygon points="163.8,286.1 166.9,287.5 163.7,285.9 160.7,284.6" fill="#49831c" stroke="#111f07"/>
<polygon points="170.0,289.1 173.0,290.7 169.9,289.0 166.9,287.5" fill="#124814" stroke="#041105"/>
<polygon points="176.1,292.5 179.1,294.3 176.0,292.4 173.0,290.7" fill="#05230b" stroke="#010803"/>
<polygon points="182.2,296.2 185.2,298.2 182.1,296.3 179.1,294.3" fill="#041c09" stroke="#010702"/>
<polygon points="188.2,300.3 191.2,302.5 188.1,300.4 185.2,298.2" fill="#041808" stroke="#010602"/>
<polygon points="66.2,285.0 69.3,283.1 66.2,283.3 63.1,285.1" fill="#efe32b" stroke="#39360a"/>
<polygon points="72.5,283.0 75.6,281.3 72.4,281.4 69.3,283.1" fill="#ffc935" stroke="#3d300d"/>
<polygon points="78.7,281.2 81.9,279.6 78.7,279.7 75.6,281.3" fill="#ffa32f" stroke="#3d270b"/>
<polygon points="85.0,279.7 88.2,278.3 85.0,278.3 81.9,279.6" fill="#fe802a" stroke="#3d1f0a"/>
<polygon points="91.3,278.3 94.5,277.1 91.3,277.0 88.2,278.3" fill="#fc6026" stroke="#3d1709"/>
<polygon points="97.6,277.3 100.8,276.2 97.6,276.0 94.5,277.1" fill="#f84f25" stroke="#3c1309"/>
<polygon points="104.0,276.5 107.1,275.6 103.9,275.3 100.8,276.2" fill="#f54425" stroke="#3b1009"/>
<polygon points="110.3,276.0 113.4,275.3 110.3,274.9 107.1,275.6" fill="#f43c24" stroke="#3a0e09"/>
<polygon points="116.6,275.8 119.8,275.2 116.6,274.7 113.4,275.3" fill="#f33924" stroke="#3a0e09"/>
<polygon points="123.0,275.9 126.1,275.5 122.9,274.9 119.8,275.2" fill="#f33a24" stroke="#3a0e09"/>
<polygon points="129.3,276.3 132.4,276.3 129.3,275.4 126.1,275.5" fill="#f54125" stroke="#3b1009"/>
<polygon points="135.6,277.3 138.8,277.6 135.6,276.5 132.4,276.3" fill="#f95025" stroke="#3c1309"/>
<polygon points="141.9,278.7 145.1,279.2 141.9,278.0 138.8,277.6" fill="#fd6927" stroke="#3d1909"/>
<polygon points="148.2,280.5 151.3,281.2 148.2,279.9 145.1,279.2" fill="#f4a42f" stroke="#3a270b"/>
<polygon points="154.5,282.5 157.6,283.5 154.4,282.0 151.3,281.2" fill="#dbce28" stroke="#35320a"/>
<polygon points="160.7,285.0 163.8,286.1 160.7,284.6 157.6,283.5" fill="#a6b522" stroke="#282b08"/>
<polygon points="166.9,287.7 170.0,289.1 166.9,287.5 163.8,286.1" fill="#37741a" stroke="#0d1c06"/>
<polygon points="173.1,290.9 176.1,292.5 173.0,290.7 170.0,289.1" fill="#0e3e12" stroke="#030f04"/>
<polygon points="179.2,294.4 182.2,296.2 179.1,294.3 176.1,292.5" fill="#05220b" stroke="#010803"/>
<polygon points="185.3,298.2 188.2,300.3 185.2,298.2 182.2,296.2" fill="#041b08" stroke="#010602"/>
<polygon points="191.3,302.4 194.2,304.7 191.2,302.5 188.2,300.3" fill="#041808" stroke="#010602"/>
<polygon points="63.1,287.0 66.2,285.0 63.1,285.1 60.0,287.1" fill="#e5e02a" stroke="#37360a"/>
<polygon points="69.3,284.9 72.5,283.0 69.3,283.1 66.2,285.0" fill="#f6e32d" stroke="#3b360b"/>
<polygon points="75.6,282.9 78.7,281.2 75.6,281.3 72.5,283.0" fill="#ffb533" stroke="#3d2c0c"/>
<polygon points="81.9,281.2 85.0,279.7 81.9,279.6 78.7,281.2" fill="#ff902c" stroke="#3d230a"/>
<polygon points="88.2,279.8 91.3,278.3 88.2,278.3 85.0,279.7" fill="#fd6d28" stroke="#3d1a0a"/>
<polygon points="94.5,278.5 97.6,277.3 94.5,277.1 91.3,278.3" fill="#fa5526" stroke="#3c1409"/>
<polygon points="100.8,277.6 104.0,276.5 100.8,276.2 97.6,277.3" fill="#f64725" stroke="#3b1109"/>
<polygon points="107.1,276.9 110.3,276.0 107.1,275.6 104.0,276.5" fill="#f43d24" stroke="#3a0f09"/>
<polygon points="113.5,276.5 116.6,275.8 113.4,275.3 110.3,276.0" fill="#f23724" stroke="#3a0d09"/>
<polygon points="119.8,276.4 123.0,275.9 119.8,275.2 116.6,275.8" fill="#f23624" stroke="#3a0d09"/>
<polygon points="126.1,276.6 129.3,276.3 126.1,275.5 123.0,275.9" fill="#f33924" stroke="#3a0e09"/>
<polygon points="132.5,277.3 135.6,277.3 132.4,276.3 129.3,276.3" fill="#f54325" stroke="#3b1009"/>
<polygon points="138.8,278.5 141.9,278.7 138.8,277.6 135.6,277.3" fill="#fa5426" stroke="#3c1409"/>
<polygon points="145.1,280.0 148.2,280.5 145.1,279.2 141.9,278.7" fill="#fd7228" stroke="#3d1b0a"/>
<polygon points="151.4,281.8 154.5,282.5 151.3,281.2 148.2,280.5" fill="#efb532" stroke="#392b0c"/>
<polygon points="157.6,284.0 160.7,285.0 157.6,283.5 154.5,282.5" fill="#d5cd27" stroke="#333109"/>
<polygon points="163.9,286.6 166.9,287.7 163.8,286.1 160.7,285.0" fill="#8ba720" stroke="#212808"/>
<polygon points="170.1,289.5 173.1,290.9 170.0,289.1 166.9,287.7" fill="#286419" stroke="#0a1806"/>
<polygon points="176.2,292.8 179.2,294.4 176.1,292.5 173.1,290.9" fill="#0b340f" stroke="#030d04"/>
<polygon points="182.3,296.4 185.3,298.2 182.2,296.2 179.2,294.4" fill="#05200a" stroke="#010802"/>
<polygon points="188.3,300.4 191.3,302.4 188.2,300.3 185.3,298.2" fill="#041908" stroke="#010602"/>
<polygon points="194.3,304.7 197.2,307.0 194.2,304.7 191.3,302.4" fill="#041808" stroke="#010602"/>
<polygon points="66.2,286.9 69.3,284.9 66.2,285.0 63.1,287.0" fill="#ebe12b" stroke="#38360a"/>
<polygon points="78.7,283.0 81.9,281.2 78.7,281.2 75.6,282.9" fill="#ffa32f" stroke="#3d270b"/>
<polygon points="91.3,280.0 94.5,278.5 91.3,278.3 88.2,279.8" fill="#fc5e26" stroke="#3c1609"/>
<polygon points="97.6,278.8 100.8,277.6 97.6,277.3 94.5,278.5" fill="#f84d25" stroke="#3b1209"/>
<polygon points="110.3,277.4 113.5,276.5 110.3,276.0 107.1,276.9" fill="#f23824" stroke="#3a0d09"/>
<polygon points="123.0,277.1 126.1,276.6 123.0,275.9 119.8,276.4" fill="#f23624" stroke="#3a0d09"/>
<polygon points="129.3,277.5 132.5,277.3 129.3,276.3 126.1,276.6" fill="#f33a24" stroke="#3a0e09"/>
<polygon points="135.6,278.4 138.8,278.5 135.6,277.3 132.5,277.3" fill="#f64725" stroke="#3b1109"/>
<polygon points="148.3,281.3 151.4,281.8 148.2,280.5 145.1,280.0" fill="#fe7e2a" stroke="#3d1e0a"/>
<polygon points="160.8,285.6 163.9,286.6 160.7,285.0 157.6,284.0" fill="#cfcb26" stroke="#323109"/>
<polygon points="167.0,288.3 170.1,289.5 166.9,287.7 163.9,286.6" fill="#69951e" stroke="#192407"/>
<polygon points="179.3,294.8 182.3,296.4 179.2,294.4 176.2,292.8" fill="#072a0d" stroke="#020a03"/>
<polygon points="191.4,302.6 194.3,304.7 191.3,302.4 188.3,300.4" fill="#041808" stroke="#010602"/>
<polygon points="72.5,284.8 75.6,282.9 72.5,283.0 69.3,284.9" fill="#fccd33" stroke="#3c310c"/>
<polygon points="85.0,281.3 88.2,279.8 85.0,279.7 81.9,281.2" fill="#fe7e2a" stroke="#3d1e0a"/>
<polygon points="104.0,278.0 107.1,276.9 104.0,276.5 100.8,277.6" fill="#f54025" stroke="#3b0f09"/>
<polygon points="116.6,277.1 119.8,276.4 116.6,275.8 113.5,276.5" fill="#f23624" stroke="#3a0d09"/>
<polygon points="142.0,279.7 145.1,280.0 141.9,278.7 138.8,278.5" fill="#fb5a26" stroke="#3c1609"/>
<polygon points="154.5,283.3 157.6,284.0 154.5,282.5 151.4,281.8" fill="#eac42e" stroke="#382f0b"/>
<polygon points="173.2,291.3 176.2,292.8 173.1,290.9 170.1,289.5" fill="#195517" stroke="#061406"/>
<polygon points="185.4,298.5 188.3,300.4 185.3,298.2 182.3,296.4" fill="#041f0a" stroke="#010702"/>
<polygon points="94.5,280.3 97.6,278.8 94.5,278.5 91.3,280.0" fill="#fa5526" stroke="#3c1409"/>
<polygon points="126.2,278.0 129.3,277.5 126.1,276.6 123.0,277.1" fill="#f23624" stroke="#3a0d09"/>
<polygon points="132.5,278.6 135.6,278.4 132.5,277.3 129.3,277.5" fill="#f43d24" stroke="#3b0f09"/>
<polygon points="163.9,287.3 167.0,288.3 163.9,286.6 160.8,285.6" fill="#bcc124" stroke="#2d2e09"/>
<polygon points="69.4,286.9 72.5,284.8 69.3,284.9 66.2,286.9" fill="#f1e12c" stroke="#3a360a"/>
<polygon points="75.6,284.9 78.7,283.0 75.6,282.9 72.5,284.8" fill="#ffba34" stroke="#3d2d0c"/>
<polygon points="81.9,283.1 85.0,281.3 81.9,281.2 78.7,283.0" fill="#ff942c" stroke="#3d230b"/>
<polygon points="88.2,281.6 91.3,280.0 88.2,279.8 85.0,281.3" fill="#fd6f28" stroke="#3d1b0a"/>
<polygon points="100.8,279.2 104.0,278.0 100.8,277.6 97.6,278.8" fill="#f64625" stroke="#3b1109"/>
<polygon points="107.1,278.4 110.3,277.4 107.1,276.9 104.0,278.0" fill="#f33b24" stroke="#3a0e09"/>
<polygon points="119.8,277.8 123.0,277.1 119.8,276.4 116.6,277.1" fill="#f23624" stroke="#3a0d09"/>
<polygon points="138.8,279.6 142.0,279.7 138.8,278.5 135.6,278.4" fill="#f84d25" stroke="#3b1209"/>
<polygon points="151.4,282.8 154.5,283.3 151.4,281.8 148.3,281.3" fill="#fc912b" stroke="#3d230a"/>
<polygon points="157.7,284.9 160.8,285.6 157.6,284.0 154.5,283.3" fill="#e4d329" stroke="#37330a"/>
<polygon points="170.1,290.1 173.2,291.3 170.1,289.5 167.0,288.3" fill="#45831c" stroke="#111f07"/>
<polygon points="176.3,293.3 179.3,294.8 176.2,292.8 173.2,291.3" fill="#114714" stroke="#041105"/>
<polygon points="182.4,296.9 185.4,298.5 182.3,296.4 179.3,294.8" fill="#05240b" stroke="#010903"/>
<polygon points="188.4,300.8 191.4,302.6 188.3,300.4 185.4,298.5" fill="#041d09" stroke="#010702"/>
<polygon points="113.5,278.0 116.6,277.1 113.5,276.5 110.3,277.4" fill="#f23624" stroke="#3a0d09"/>
<polygon points="145.1,281.0 148.3,281.3 145.1,280.0 142.0,279.7" fill="#fc6327" stroke="#3d1809"/>
<polygon points="72.5,287.0 75.6,284.9 72.5,284.8 69.4,286.9" fill="#f6da2e" stroke="#3b340b"/>
<polygon points="85.1,283.4 88.2,281.6 85.0,281.3 81.9,283.1" fill="#fe842a" stroke="#3d200a"/>
<polygon points="91.4,281.9 94.5,280.3 91.3,280.0 88.2,281.6" fill="#fc6226" stroke="#3d1709"/>
<polygon points="104.0,279.7 107.1,278.4 104.0,278.0 100.8,279.2" fill="#f54125" stroke="#3b1009"/>
<polygon points="123.0,278.6 126.2,278.0 123.0,277.1 119.8,277.8" fill="#f23624" stroke="#3a0d09"/>
<polygon points="129.3,278.9 132.5,278.6 129.3,277.5 126.2,278.0" fill="#f23624" stroke="#3a0d09"/>
<polygon points="135.7,279.8 138.8,279.6 135.6,278.4 132.5,278.6" fill="#f54225" stroke="#3b1009"/>
<polygon points="154.6,284.3 157.7,284.9 154.5,283.3 151.4,282.8" fill="#f7a830" stroke="#3b280b"/>
<polygon points="167.1,289.1 170.1,290.1 167.0,288.3 163.9,287.3" fill="#a2b522" stroke="#272b08"/>
<polygon points="173.2,292.1 176.3,293.3 173.2,291.3 170.1,290.1" fill="#32701a" stroke="#0c1b06"/>
<polygon points="185.5,299.1 188.4,300.8 185.4,298.5 182.4,296.9" fill="#05220b" stroke="#010803"/>
<polygon points="78.8,285.1 81.9,283.1 78.7,283.0 75.6,284.9" fill="#ffaa31" stroke="#3d290c"/>
<polygon points="97.7,280.7 100.8,279.2 97.6,278.8 94.5,280.3" fill="#f84f25" stroke="#3c1309"/>
<polygon points="110.3,279.1 113.5,278.0 110.3,277.4 107.1,278.4" fill="#f23724" stroke="#3a0d09"/>
<polygon points="116.7,278.7 119.8,277.8 116.6,277.1 113.5,278.0" fill="#f23624" stroke="#3a0d09"/>
<polygon points="142.0,280.9 145.1,281.0 142.0,279.7 138.8,279.6" fill="#f95325" stroke="#3c1409"/>
<polygon points="148.3,282.4 151.4,282.8 148.3,281.3 145.1,281.0" fill="#fd7028" stroke="#3d1b0a"/>
<polygon points="160.8,286.6 163.9,287.3 160.8,285.6 157.7,284.9" fill="#ddd228" stroke="#35320a"/>
<polygon points="179.4,295.4 182.4,296.9 179.3,294.8 176.3,293.3" fill="#0d3b11" stroke="#030e04"/>
<polygon points="88.2,283.7 91.4,281.9 88.2,281.6 85.1,283.4" fill="#fd7729" stroke="#3d1d0a"/>
<polygon points="170.2,291.1 173.2,292.1 170.1,290.1 167.1,289.1" fill="#7aa020" stroke="#1d2608"/>
<polygon points="75.7,287.2 78.8,285.1 75.6,284.9 72.5,287.0" fill="#fac933" stroke="#3c300c"/>
<polygon points="81.9,285.3 85.1,283.4 81.9,283.1 78.8,285.1" fill="#ff9d2e" stroke="#3d260b"/>
<polygon points="94.5,282.3 97.7,280.7 94.5,280.3 91.4,281.9" fill="#fb5a26" stroke="#3c1609"/>
<polygon points="100.8,281.2 104.0,279.7 100.8,279.2 97.7,280.7" fill="#f74925" stroke="#3b1209"/>
<polygon points="107.2,280.3 110.3,279.1 107.1,278.4 104.0,279.7" fill="#f43d24" stroke="#3b0f09"/>
<polygon points="113.5,279.8 116.7,278.7 113.5,278.0 110.3,279.1" fill="#f23624" stroke="#3a0d09"/>
<polygon points="119.8,279.5 123.0,278.6 119.8,277.8 116.7,278.7" fill="#f23624" stroke="#3a0d09"/>
<polygon points="126.2,279.6 129.3,278.9 126.2,278.0 123.0,278.6" fill="#f23624" stroke="#3a0d09"/>
<polygon points="132.5,280.1 135.7,279.8 132.5,278.6 129.3,278.9" fill="#f33b24" stroke="#3a0e09"/>
<polygon points="138.8,281.0 142.0,280.9 138.8,279.6 135.7,279.8" fill="#f74925" stroke="#3b1109"/>
<polygon points="145.2,282.3 148.3,282.4 145.1,281.0 142.0,280.9" fill="#fb5b26" stroke="#3c1609"/>
<polygon points="151.5,284.0 154.6,284.3 151.4,282.8 148.3,282.4" fill="#fe802a" stroke="#3d1f0a"/>
<polygon points="157.7,286.0 160.8,286.6 157.7,284.9 154.6,284.3" fill="#f1bf32" stroke="#3a2e0c"/>
<polygon points="164.0,288.3 167.1,289.1 163.9,287.3 160.8,286.6" fill="#d6d027" stroke="#333209"/>
<polygon points="176.3,294.1 179.4,295.4 176.3,293.3 173.2,292.1" fill="#205d18" stroke="#081606"/>
<polygon points="182.5,297.6 185.5,299.1 182.4,296.9 179.4,295.4" fill="#092f0e" stroke="#020b03"/>
<polygon points="78.8,287.5 81.9,285.3 78.8,285.1 75.7,287.2" fill="#feb834" stroke="#3d2c0c"/>
<polygon points="85.1,285.7 88.2,283.7 85.1,283.4 81.9,285.3" fill="#ff912c" stroke="#3d230a"/>
<polygon points="91.4,284.1 94.5,282.3 91.4,281.9 88.2,283.7" fill="#fd6d28" stroke="#3d1a0a"/>
<polygon points="97.7,282.8 100.8,281.2 97.7,280.7 94.5,282.3" fill="#fa5426" stroke="#3c1409"/>
<polygon points="104.0,281.8 107.2,280.3 104.0,279.7 100.8,281.2" fill="#f64625" stroke="#3b1109"/>
<polygon points="110.3,281.0 113.5,279.8 110.3,279.1 107.2,280.3" fill="#f33b24" stroke="#3a0e09"/>
<polygon points="116.7,280.6 119.8,279.5 116.7,278.7 113.5,279.8" fill="#f23624" stroke="#3a0d09"/>
<polygon points="123.0,280.5 126.2,279.6 123.0,278.6 119.8,279.5" fill="#f23624" stroke="#3a0d09"/>
<polygon points="129.4,280.7 132.5,280.1 129.3,278.9 126.2,279.6" fill="#f23724" stroke="#3a0d09"/>
<polygon points="135.7,281.4 138.8,281.0 135.7,279.8 132.5,280.1" fill="#f54125" stroke="#3b1009"/>
<polygon points="142.0,282.4 145.2,282.3 142.0,280.9 138.8,281.0" fill="#f95125" stroke="#3c1309"/>
<polygon points="148.3,283.9 151.5,284.0 148.3,282.4 145.2,282.3" fill="#fd6927" stroke="#3d1909"/>
<polygon points="154.6,285.6 157.7,286.0 154.6,284.3 151.5,284.0" fill="#ff922c" stroke="#3d230b"/>
<polygon points="160.9,287.8 164.0,288.3 160.8,286.6 157.7,286.0" fill="#ead42b" stroke="#38330a"/>
<polygon points="167.1,290.2 170.2,291.1 167.1,289.1 164.0,288.3" fill="#c7c925" stroke="#303009"/>
<polygon points="173.3,293.1 176.3,294.1 173.2,292.1 170.2,291.1" fill="#4f8b1d" stroke="#132107"/>
<polygon points="179.4,296.3 182.5,297.6 179.4,295.4 176.3,294.1" fill="#124c16" stroke="#041205"/>
<polygon points="82.0,287.9 85.1,285.7 81.9,285.3 78.8,287.5" fill="#ffac31" stroke="#3d290c"/>
<polygon points="94.6,284.7 97.7,282.8 94.5,282.3 91.4,284.1" fill="#fc6527" stroke="#3d1809"/>
<polygon points="107.2,282.5 110.3,281.0 107.2,280.3 104.0,281.8" fill="#f54425" stroke="#3b1009"/>
<polygon points="113.5,281.9 116.7,280.6 113.5,279.8 110.3,281.0" fill="#f33b24" stroke="#3a0e09"/>
<polygon points="119.9,281.5 123.0,280.5 119.8,279.5 116.7,280.6" fill="#f23624" stroke="#3a0d09"/>
<polygon points="126.2,281.5 129.4,280.7 126.2,279.6 123.0,280.5" fill="#f23724" stroke="#3a0d09"/>
<polygon points="132.5,281.9 135.7,281.4 132.5,280.1 129.4,280.7" fill="#f43d24" stroke="#3a0f09"/>
<polygon points="138.9,282.8 142.0,282.4 138.8,281.0 135.7,281.4" fill="#f74925" stroke="#3b1109"/>
<polygon points="145.2,284.0 148.3,283.9 145.2,282.3 142.0,282.4" fill="#fb5a26" stroke="#3c1609"/>
<polygon points="151.5,285.5 154.6,285.6 151.5,284.0 148.3,283.9" fill="#fe7b29" stroke="#3d1e0a"/>
<polygon points="164.0,289.6 167.1,290.2 164.0,288.3 160.9,287.8" fill="#e3d629" stroke="#36330a"/>
<polygon points="176.4,295.2 179.4,296.3 176.3,294.1 173.3,293.1" fill="#35751b" stroke="#0d1c07"/>
<polygon points="88.2,286.2 91.4,284.1 88.2,283.7 85.1,285.7" fill="#fe872b" stroke="#3d200a"/>
<polygon points="100.9,283.4 104.0,281.8 100.8,281.2 97.7,282.8" fill="#f95125" stroke="#3c1309"/>
<polygon points="157.8,287.4 160.9,287.8 157.7,286.0 154.6,285.6" fill="#fca930" stroke="#3d290c"/>
<polygon points="170.2,292.3 173.3,293.1 170.2,291.1 167.1,290.2" fill="#a8ba23" stroke="#282d08"/>
<polygon points="110.4,283.3 113.5,281.9 110.3,281.0 107.2,282.5" fill="#f54325" stroke="#3b1009"/>
<polygon points="116.7,282.8 119.9,281.5 116.7,280.6 113.5,281.9" fill="#f33c24" stroke="#3a0e09"/>
<polygon points="142.0,284.3 145.2,284.0 142.0,282.4 138.9,282.8" fill="#f95225" stroke="#3c1409"/>
<polygon points="148.3,285.6 151.5,285.5 148.3,283.9 145.2,284.0" fill="#fd6927" stroke="#3d1909"/>
<polygon points="85.1,288.4 88.2,286.2 85.1,285.7 82.0,287.9" fill="#ffa42f" stroke="#3d270b"/>
<polygon points="91.4,286.7 94.6,284.7 91.4,284.1 88.2,286.2" fill="#fe7f2a" stroke="#3d1f0a"/>
<polygon points="97.7,285.3 100.9,283.4 97.7,282.8 94.6,284.7" fill="#fc5f26" stroke="#3c1709"/>
<polygon points="104.0,284.2 107.2,282.5 104.0,281.8 100.9,283.4" fill="#f84f25" stroke="#3c1309"/>
<polygon points="123.0,282.6 126.2,281.5 123.0,280.5 119.9,281.5" fill="#f33924" stroke="#3a0e09"/>
<polygon points="129.4,282.7 132.5,281.9 129.4,280.7 126.2,281.5" fill="#f33b24" stroke="#3a0e09"/>
<polygon points="135.7,283.3 138.9,282.8 135.7,281.4 132.5,281.9" fill="#f64425" stroke="#3b1009"/>
<polygon points="154.6,287.2 157.8,287.4 154.6,285.6 151.5,285.5" fill="#ff8f2b" stroke="#3d220a"/>
<polygon points="160.9,289.3 164.0,289.6 160.9,287.8 157.8,287.4" fill="#f5c532" stroke="#3b2f0c"/>
<polygon points="167.1,291.6 170.2,292.3 167.1,290.2 164.0,289.6" fill="#dbd428" stroke="#35330a"/>
<polygon points="173.3,294.4 176.4,295.2 173.3,293.1 170.2,292.3" fill="#7aa321" stroke="#1d2708"/>
<polygon points="88.3,289.0 91.4,286.7 88.2,286.2 85.1,288.4" fill="#ff9d2e" stroke="#3d260b"/>
<polygon points="100.9,286.0 104.0,284.2 100.9,283.4 97.7,285.3" fill="#fc5d26" stroke="#3c1609"/>
<polygon points="107.2,285.0 110.4,283.3 107.2,282.5 104.0,284.2" fill="#f84e25" stroke="#3c1309"/>
<polygon points="113.5,284.3 116.7,282.8 113.5,281.9 110.4,283.3" fill="#f64425" stroke="#3b1009"/>
<polygon points="119.9,283.9 123.0,282.6 119.9,281.5 116.7,282.8" fill="#f43f24" stroke="#3b0f09"/>
<polygon points="138.9,284.8 142.0,284.3 138.9,282.8 135.7,283.3" fill="#f84d25" stroke="#3b1209"/>
<polygon points="145.2,285.9 148.3,285.6 145.2,284.0 142.0,284.3" fill="#fc5c26" stroke="#3c1609"/>
<polygon points="151.5,287.3 154.6,287.2 151.5,285.5 148.3,285.6" fill="#fe7c29" stroke="#3d1e0a"/>
<polygon points="157.8,289.1 160.9,289.3 157.8,287.4 154.6,287.2" fill="#ffa32f" stroke="#3d270b"/>
<polygon points="170.3,293.8 173.3,294.4 170.2,292.3 167.1,291.6" fill="#c5cb26" stroke="#2f3109"/>
<polygon points="94.6,287.4 97.7,285.3 94.6,284.7 91.4,286.7" fill="#fe7a29" stroke="#3d1d0a"/>
<polygon points="126.2,283.8 129.4,282.7 126.2,281.5 123.0,282.6" fill="#f43e24" stroke="#3b0f09"/>
<polygon points="132.6,284.1 135.7,283.3 132.5,281.9 129.4,282.7" fill="#f54225" stroke="#3b1009"/>
<polygon points="164.0,291.2 167.1,291.6 164.0,289.6 160.9,289.3" fill="#eedc2b" stroke="#39350a"/>
<polygon points="104.1,286.9 107.2,285.0 104.0,284.2 100.9,286.0" fill="#fc5c26" stroke="#3c1609"/>
<polygon points="154.7,289.1 157.8,289.1 154.6,287.2 151.5,287.3" fill="#ff922c" stroke="#3d230b"/>
<polygon points="91.4,289.6 94.6,287.4 91.4,286.7 88.3,289.0" fill="#ff982d" stroke="#3d250b"/>
<polygon points="97.8,288.1 100.9,286.0 97.7,285.3 94.6,287.4" fill="#fd7729" stroke="#3d1c0a"/>
<polygon points="110.4,286.0 113.5,284.3 110.4,283.3 107.2,285.0" fill="#f84f25" stroke="#3c1309"/>
<polygon points="116.7,285.3 119.9,283.9 116.7,282.8 113.5,284.3" fill="#f64725" stroke="#3b1109"/>
<polygon points="123.1,285.0 126.2,283.8 123.0,282.6 119.9,283.9" fill="#f54325" stroke="#3b1009"/>
<polygon points="129.4,285.1 132.6,284.1 129.4,282.7 126.2,283.8" fill="#f54425" stroke="#3b1009"/>
<polygon points="135.7,285.5 138.9,284.8 135.7,283.3 132.6,284.1" fill="#f74b25" stroke="#3b1209"/>
<polygon points="142.1,286.4 145.2,285.9 142.0,284.3 138.9,284.8" fill="#fa5726" stroke="#3c1509"/>
<polygon points="148.4,287.6 151.5,287.3 148.3,285.6 145.2,285.9" fill="#fd6e28" stroke="#3d1a0a"/>
<polygon points="160.9,291.0 164.0,291.2 160.9,289.3 157.8,289.1" fill="#feba34" stroke="#3d2d0c"/>
<polygon points="167.2,293.3 170.3,293.8 167.1,291.6 164.0,291.2" fill="#e5db2a" stroke="#37340a"/>
<polygon points="94.6,290.4 97.8,288.1 94.6,287.4 91.4,289.6" fill="#ff952c" stroke="#3d240b"/>
<polygon points="100.9,289.0 104.1,286.9 100.9,286.0 97.8,288.1" fill="#fd7629" stroke="#3d1c0a"/>
<polygon points="107.2,287.8 110.4,286.0 107.2,285.0 104.1,286.9" fill="#fc5d26" stroke="#3c1609"/>
<polygon points="113.6,287.0 116.7,285.3 113.5,284.3 110.4,286.0" fill="#f95225" stroke="#3c1409"/>
<polygon points="119.9,286.5 123.1,285.0 119.9,283.9 116.7,285.3" fill="#f74b25" stroke="#3b1209"/>
<polygon points="126.2,286.3 129.4,285.1 126.2,283.8 123.1,285.0" fill="#f74925" stroke="#3b1109"/>
<polygon points="132.6,286.5 135.7,285.5 132.6,284.1 129.4,285.1" fill="#f74c25" stroke="#3b1209"/>
<polygon points="138.9,287.1 142.1,286.4 138.9,284.8 135.7,285.5" fill="#fa5526" stroke="#3c1409"/>
<polygon points="145.2,288.1 148.4,287.6 145.2,285.9 142.1,286.4" fill="#fc6527" stroke="#3d1809"/>
<polygon points="151.5,289.4 154.7,289.1 151.5,287.3 148.4,287.6" fill="#fe842a" stroke="#3d200a"/>
<polygon points="157.8,291.1 160.9,291.0 157.8,289.1 154.7,289.1" fill="#ffa830" stroke="#3d280c"/>
<polygon points="164.1,293.1 167.2,293.3 164.0,291.2 160.9,291.0" fill="#f7d72f" stroke="#3b340b"/>
<polygon points="97.8,291.3 100.9,289.0 97.8,288.1 94.6,290.4" fill="#ff952c" stroke="#3d240b"/>
<polygon points="104.1,289.9 107.2,287.8 104.1,286.9 100.9,289.0" fill="#fd7729" stroke="#3d1d0a"/>
<polygon points="110.4,288.9 113.6,287.0 110.4,286.0 107.2,287.8" fill="#fc6026" stroke="#3d1709"/>
<polygon points="129.4,287.7 132.6,286.5 129.4,285.1 126.2,286.3" fill="#f95025" stroke="#3c1309"/>
<polygon points="148.4,289.9 151.5,289.4 148.4,287.6 145.2,288.1" fill="#fe7a29" stroke="#3d1d0a"/>
<polygon points="154.7,291.3 157.8,291.1 154.7,289.1 151.5,289.4" fill="#ff9b2d" stroke="#3d250b"/>
<polygon points="160.9,293.1 164.1,293.1 160.9,291.0 157.8,291.1" fill="#ffbf35" stroke="#3d2e0d"/>
<polygon points="116.7,288.2 119.9,286.5 116.7,285.3 113.6,287.0" fill="#fa5626" stroke="#3c1509"/>
<polygon points="123.1,287.8 126.2,286.3 123.1,285.0 119.9,286.5" fill="#f95025" stroke="#3c1309"/>
<polygon points="135.7,288.1 138.9,287.1 135.7,285.5 132.6,286.5" fill="#fa5626" stroke="#3c1509"/>
<polygon points="142.1,288.8 145.2,288.1 142.1,286.4 138.9,287.1" fill="#fc6126" stroke="#3d1709"/>
<polygon points="101.0,292.2 104.1,289.9 100.9,289.0 97.8,291.3" fill="#ff962c" stroke="#3d240b"/>
<polygon points="107.3,291.0 110.4,288.9 107.2,287.8 104.1,289.9" fill="#fe7b29" stroke="#3d1e0a"/>
<polygon points="126.2,289.2 129.4,287.7 126.2,286.3 123.1,287.8" fill="#fa5826" stroke="#3c1509"/>
<polygon points="132.6,289.3 135.7,288.1 132.6,286.5 129.4,287.7" fill="#fb5926" stroke="#3c1509"/>
<polygon points="151.5,291.8 154.7,291.3 151.5,289.4 148.4,289.9" fill="#ff922c" stroke="#3d230a"/>
<polygon points="157.8,293.4 160.9,293.1 157.8,291.1 154.7,291.3" fill="#ffb232" stroke="#3d2b0c"/>
<polygon points="113.6,290.1 116.7,288.2 113.6,287.0 110.4,288.9" fill="#fc6727" stroke="#3d1909"/>
<polygon points="119.9,289.4 123.1,287.8 119.9,286.5 116.7,288.2" fill="#fb5b26" stroke="#3c1609"/>
<polygon points="138.9,289.7 142.1,288.8 138.9,287.1 135.7,288.1" fill="#fc6226" stroke="#3d1809"/>
<polygon points="145.2,290.6 148.4,289.9 145.2,288.1 142.1,288.8" fill="#fd7629" stroke="#3d1c0a"/>
<polygon points="104.1,293.3 107.3,291.0 104.1,289.9 101.0,292.2" fill="#ff9a2d" stroke="#3d250b"/>
<polygon points="110.4,292.2 113.6,290.1 110.4,288.9 107.3,291.0" fill="#fe812a" stroke="#3d1f0a"/>
<polygon points="116.8,291.3 119.9,289.4 116.7,288.2 113.6,290.1" fill="#fd6f28" stroke="#3d1b0a"/>
<polygon points="123.1,290.8 126.2,289.2 123.1,287.8 119.9,289.4" fill="#fc6527" stroke="#3d1809"/>
<polygon points="129.4,290.7 132.6,289.3 129.4,287.7 126.2,289.2" fill="#fc6226" stroke="#3d1809"/>
<polygon points="135.8,290.9 138.9,289.7 135.7,288.1 132.6,289.3" fill="#fd6827" stroke="#3d1909"/>
<polygon points="142.1,291.5 145.2,290.6 142.1,288.8 138.9,289.7" fill="#fd7629" stroke="#3d1c0a"/>
<polygon points="148.4,292.5 151.5,291.8 148.4,289.9 145.2,290.6" fill="#ff8d2b" stroke="#3d220a"/>
<polygon points="154.7,293.8 157.8,293.4 154.7,291.3 151.5,291.8" fill="#ffa930" stroke="#3d280c"/>
<polygon points="119.9,292.7 123.1,290.8 119.9,289.4 116.8,291.3" fill="#fe7a29" stroke="#3d1d0a"/>
<polygon points="138.9,292.7 142.1,291.5 138.9,289.7 135.8,290.9" fill="#fe7c29" stroke="#3d1e0a"/>
<polygon points="107.3,294.5 110.4,292.2 107.3,291.0 104.1,293.3" fill="#ff9f2e" stroke="#3d260b"/>
<polygon points="113.6,293.4 116.8,291.3 113.6,290.1 110.4,292.2" fill="#fe8a2b" stroke="#3d210a"/>
<polygon points="126.3,292.3 129.4,290.7 126.2,289.2 123.1,290.8" fill="#fd7228" stroke="#3d1b0a"/>
<polygon points="132.6,292.3 135.8,290.9 132.6,289.3 129.4,290.7" fill="#fd7328" stroke="#3d1c0a"/>
<polygon points="145.2,293.4 148.4,292.5 145.2,290.6 142.1,291.5" fill="#ff8d2b" stroke="#3d220a"/>
<polygon points="151.5,294.5 154.7,293.8 151.5,291.8 148.4,292.5" fill="#ffa42f" stroke="#3d270b"/>
<polygon points="116.8,294.8 119.9,292.7 116.8,291.3 113.6,293.4" fill="#ff942c" stroke="#3d240b"/>
<polygon points="142.1,294.6 145.2,293.4 142.1,291.5 138.9,292.7" fill="#ff922c" stroke="#3d230b"/>
<polygon points="110.5,295.8 113.6,293.4 110.4,292.2 107.3,294.5" fill="#ffa630" stroke="#3d280b"/>
<polygon points="123.1,294.2 126.3,292.3 123.1,290.8 119.9,292.7" fill="#fe882b" stroke="#3d210a"/>
<polygon points="129.4,294.0 132.6,292.3 129.4,290.7 126.3,292.3" fill="#fe832a" stroke="#3d1f0a"/>
<polygon points="135.8,294.1 138.9,292.7 135.8,290.9 132.6,292.3" fill="#fe862a" stroke="#3d200a"/>
<polygon points="148.4,295.4 151.5,294.5 148.4,292.5 145.2,293.4" fill="#ffa42f" stroke="#3d270b"/>
<polygon points="113.6,297.2 116.8,294.8 113.6,293.4 110.5,295.8" fill="#ffb032" stroke="#3d2a0c"/>
<polygon points="120.0,296.3 123.1,294.2 119.9,292.7 116.8,294.8" fill="#ffa02f" stroke="#3d260b"/>
<polygon points="138.9,295.9 142.1,294.6 138.9,292.7 135.8,294.1" fill="#ff9b2d" stroke="#3d250b"/>
<polygon points="145.2,296.5 148.4,295.4 145.2,293.4 142.1,294.6" fill="#ffa830" stroke="#3d280c"/>
<polygon points="126.3,295.8 129.4,294.0 126.3,292.3 123.1,294.2" fill="#ff972d" stroke="#3d240b"/>
<polygon points="132.6,295.7 135.8,294.1 132.6,292.3 129.4,294.0" fill="#ff952c" stroke="#3d240b"/>
<polygon points="116.8,298.7 120.0,296.3 116.8,294.8 113.6,297.2" fill="#ffbc34" stroke="#3d2d0d"/>
<polygon points="123.1,297.9 126.3,295.8 123.1,294.2 120.0,296.3" fill="#ffae31" stroke="#3d2a0c"/>
<polygon points="129.5,297.6 132.6,295.7 129.4,294.0 126.3,295.8" fill="#ffa730" stroke="#3d280c"/>
<polygon points="135.8,297.6 138.9,295.9 135.8,294.1 132.6,295.7" fill="#ffa830" stroke="#3d280c"/>
<polygon points="142.1,297.9 145.2,296.5 142.1,294.6 138.9,295.9" fill="#ffb032" stroke="#3d2a0c"/>
<polygon points="120.0,300.3 123.1,297.9 120.0,296.3 116.8,298.7" fill="#ffc835" stroke="#3d300d"/>
<polygon points="126.3,299.7 129.5,297.6 126.3,295.8 123.1,297.9" fill="#ffbe35" stroke="#3d2e0d"/>
<polygon points="132.6,299.4 135.8,297.6 132.6,295.7 129.5,297.6" fill="#ffba34" stroke="#3d2d0c"/>
<polygon points="138.9,299.5 142.1,297.9 138.9,295.9 135.8,297.6" fill="#ffbd35" stroke="#3d2d0d"/>
<polygon points="123.2,302.0 126.3,299.7 123.1,297.9 120.0,300.3" fill="#ffd533" stroke="#3d330c"/>
<polygon points="129.5,301.5 132.6,299.4 129.5,297.6 126.3,299.7" fill="#ffce34" stroke="#3d310c"/>
<polygon points="135.8,301.4 138.9,299.5 135.8,297.6 132.6,299.4" fill="#ffcd34" stroke="#3d310d"/>
<polygon points="126.3,303.8 129.5,301.5 126.3,299.7 123.2,302.0" fill="#ffe430" stroke="#3d370b"/>
<polygon points="132.6,303.4 135.8,301.4 132.6,299.4 129.5,301.5" fill="#ffdf31" stroke="#3d350c"/>
<polygon points="129.5,305.8 132.6,303.4 129.5,301.5 126.3,303.8" fill="#ffed2e" stroke="#3d390b"/>
</g>
<path d="M129.3,271.0 V274.2" stroke="#8c1010" stroke-width="0.9"/>
<circle cx="129.3" cy="271.0" r="1.70" fill="#9a1212"/>
<text x="60.4" y="351.9" font-size="5.2" text-anchor="end" textLength="7.5" lengthAdjust="spacingAndGlyphs">7.5</text>
<text x="76.7" y="359.6" font-size="5.2" text-anchor="end" textLength="10.6" lengthAdjust="spacingAndGlyphs">6.25</text>
<text x="92.9" y="367.4" font-size="5.2" text-anchor="end" textLength="3.0" lengthAdjust="spacingAndGlyphs">5</text>
<text x="109.2" y="375.1" font-size="5.2" text-anchor="end" textLength="10.6" lengthAdjust="spacingAndGlyphs">3.75</text>
<text x="125.4" y="382.8" font-size="5.2" text-anchor="end" textLength="7.5" lengthAdjust="spacingAndGlyphs">2.5</text>
<text x="131.8" y="382.8" font-size="5.2" text-anchor="start" textLength="6.0" lengthAdjust="spacingAndGlyphs">10</text>
<text x="148.1" y="375.3" font-size="5.2" text-anchor="start" textLength="6.0" lengthAdjust="spacingAndGlyphs">15</text>
<text x="164.3" y="367.8" font-size="5.2" text-anchor="start" textLength="6.0" lengthAdjust="spacingAndGlyphs">20</text>
<text x="180.6" y="360.2" font-size="5.2" text-anchor="start" textLength="6.0" lengthAdjust="spacingAndGlyphs">25</text>
<text x="196.8" y="352.7" font-size="5.2" text-anchor="start" textLength="6.0" lengthAdjust="spacingAndGlyphs">30</text>
<text x="71.0" y="374.8" font-size="5.2" text-anchor="middle" textLength="40.2" lengthAdjust="spacingAndGlyphs">B: Peptone (g/l)</text>
<text x="188.6" y="374.8" font-size="5.2" text-anchor="middle" textLength="44.4" lengthAdjust="spacingAndGlyphs">A: Rice bran (g/l)</text>
<text transform="translate(37.0,306.8) rotate(-90)" font-size="4.9" text-anchor="middle" textLength="30" lengthAdjust="spacingAndGlyphs">R1 PHB (g/l)</text>
<g stroke="#2c2c2c" stroke-width="0.7" fill="none">
<path d="M244.0,326.1 L312.2,306.1 L379.0,328.1 M243.8,316.8 L312.2,297.6 L379.5,318.5 M243.5,307.6 L312.1,289.1 L380.1,309.0 M243.3,298.3 L312.1,280.6 L380.6,299.4 M243.0,289.0 L312.1,272.0 L381.1,289.9 M242.8,279.7 L312.1,263.5 L381.6,280.3 M242.5,270.5 L312.0,255.0 L382.2,270.8 M242.3,261.2 L312.0,246.5 L382.7,261.2 M244.0,326.1 L242.3,261.2 M379.0,328.1 L382.7,261.2 M261.1,321.1 L259.7,257.5 M362.3,322.6 L365.0,257.5 M278.1,316.1 L277.1,253.9 M345.6,317.1 L347.4,253.9 M295.1,311.1 L294.6,250.2 M328.9,311.6 L329.7,250.2 M312.2,306.1 L312.0,246.5"/>
<path d="M244.0,326.1 L245.7,347.5 M312.2,306.1 L312.4,323.8 M379.0,328.1 L378.5,346.5" stroke="#555"/>
</g>
<polygon points="313.5,376.9 378.5,346.5 312.4,323.8 245.7,347.5" fill="#585858"/>
<path d="M373.3,348.3 L372.7,347.9 L372.5,347.7 L372.1,347.5 L371.5,347.1 L370.9,346.7 L370.3,346.3 L370.3,346.3 L369.7,345.9 L369.1,345.5 L368.4,345.1 L367.9,344.8 L367.8,344.8 L367.2,344.4 L366.6,344.0 L365.9,343.6 L365.3,343.3 L365.3,343.3 L364.7,342.9 L364.0,342.5 L363.4,342.2 L362.7,341.8 L362.4,341.6 L362.1,341.4 L361.4,341.1 L360.8,340.7 L360.1,340.4 L359.4,340.0 L359.2,339.9 L359.5,340.0 L360.3,340.3 L361.1,340.5 L362.0,340.8 L362.8,341.1 L363.6,341.4 L364.5,341.7 L365.3,342.0 L366.1,342.2 L366.9,342.5 L367.8,342.8 L368.6,343.1 L369.4,343.4 L370.2,343.7 L371.1,343.9 L371.9,344.2 L372.7,344.5 L373.5,344.8 L374.4,345.1 L375.2,345.4 L376.0,345.6 L376.8,345.9 L377.7,346.2 L378.5,346.5 L377.7,346.9 L376.9,347.3 L376.1,347.6 L375.2,348.0 L374.4,348.4 L373.9,348.7 L373.3,348.3 Z" fill="#3db37c" stroke="none"/>
<path d="M359.2,339.9 L360.1,340.4 L361.4,341.1 L362.4,341.6 L363.4,342.2 L364.7,342.9 L365.3,343.3 L366.6,344.0 L367.8,344.8 L368.4,345.1 L369.7,345.9 L370.3,346.3 L371.5,347.1 L372.5,347.7 L373.3,348.3" stroke="#46b04a" fill="none" stroke-width="1.1"/>
<path d="M309.6,324.8 L311.4,325.3 L313.1,325.9 L314.8,326.4 L316.5,327.0 L318.2,327.6 L319.8,328.1 L321.5,328.7 L323.1,329.3 L324.7,329.9 L326.3,330.5 L327.9,331.1 L329.4,331.7 L331.0,332.3 L332.5,332.9 L334.0,333.6 L335.4,334.1 L336.3,334.5 L337.8,335.2 L339.2,335.8 L340.7,336.5 L341.8,337.0 L342.8,337.5 L344.2,338.2 L345.7,338.8 L346.6,339.3 L347.7,339.9 L349.1,340.6 L350.5,341.3 L351.1,341.7 L352.5,342.4 L353.8,343.1 L354.4,343.5 L355.7,344.2 L356.8,344.8 L357.7,345.4 L358.9,346.1 L359.5,346.5 L360.8,347.3 L361.7,347.9 L362.6,348.5 L363.8,349.3 L364.4,349.7 L365.6,350.5 L366.2,350.9 L367.3,351.7" stroke="#62b440" fill="none" stroke-width="1.1"/>
<path d="M302.3,327.4 L303.4,327.7 L305.0,328.2 L306.8,328.7 L308.5,329.3 L310.3,329.9 L312.0,330.4 L313.7,331.0 L315.4,331.6 L317.0,332.2 L318.7,332.8 L320.3,333.4 L321.9,334.0 L323.5,334.6 L325.0,335.3 L326.6,335.9 L328.0,336.5 L328.9,336.9 L330.4,337.5 L331.8,338.2 L333.3,338.9 L334.8,339.5 L335.5,339.9 L336.9,340.6 L338.3,341.3 L339.7,341.9 L340.4,342.3 L341.8,343.1 L343.1,343.8 L343.8,344.2 L345.1,344.9 L346.4,345.7 L347.1,346.0 L348.4,346.8 L349.3,347.4 L350.3,348.0 L351.5,348.8 L352.1,349.2 L353.3,350.0 L353.9,350.4 L355.1,351.2 L355.8,351.7 L356.8,352.5 L357.6,353.1 L358.5,353.8 L359.2,354.3 L360.1,355.1" stroke="#a6c83e" fill="none" stroke-width="1.1"/>
<path d="M248.9,348.9 L248.5,348.5 L248.0,348.0 L247.8,347.7 L247.5,347.5 L247.1,347.0" stroke="#e2d23e" fill="none" stroke-width="1.1"/>
<path d="M292.9,330.7 L294.9,331.2 L295.8,331.5 L297.7,332.0 L299.6,332.6 L301.5,333.1 L302.4,333.4 L304.2,333.9 L306.0,334.5 L307.7,335.1 L309.4,335.7 L311.1,336.3 L312.8,336.9 L314.4,337.5 L316.0,338.2 L317.6,338.8 L319.2,339.5 L320.7,340.1 L321.5,340.4 L323.0,341.1 L324.5,341.8 L326.0,342.5 L327.4,343.2 L328.2,343.6 L329.6,344.3 L331.0,345.0 L332.2,345.7 L333.0,346.1 L334.3,346.9 L335.5,347.6 L336.3,348.0 L337.6,348.8 L338.3,349.3 L339.5,350.0 L340.6,350.8 L341.3,351.3 L342.5,352.1 L343.1,352.5 L344.2,353.4 L344.8,353.8 L345.9,354.7 L346.4,355.2 L347.5,356.1 L348.0,356.5 L348.8,357.2 L349.5,357.9 L350.0,358.4 L350.9,359.4" stroke="#e2d23e" fill="none" stroke-width="1.1"/>
<path d="M321.8,373.0 L320.3,373.0 L318.8,372.9 L317.5,372.8 L315.1,372.5 L313.6,372.3 L312.4,372.1 L310.1,371.7 L309.0,371.4 L306.8,370.9 L305.6,370.6 L303.7,370.1 L301.7,369.5 L300.2,369.0 L298.9,368.5 L297.0,367.9 L295.2,367.2 L293.4,366.5 L291.7,365.8 L290.0,365.1 L288.3,364.3 L286.7,363.5 L285.2,362.8 L283.6,362.0 L282.4,361.3 L281.4,360.8 L279.9,359.9 L278.5,359.1 L277.7,358.6 L276.4,357.8 L275.1,356.9 L274.5,356.5 L273.2,355.6 L272.3,354.9 L271.4,354.2 L270.4,353.5 L269.7,352.8 L268.8,352.1 L268.0,351.4 L267.5,350.9 L266.6,350.0 L266.1,349.5 L265.4,348.7 L264.8,347.9 L264.4,347.4 L263.9,346.8 L263.4,345.9 L263.1,345.2 L262.8,344.7 L262.6,344.1 L262.4,343.5 L262.3,342.8 L262.2,342.1" stroke="#ea9434" fill="none" stroke-width="1.1"/>
<path d="M277.7,336.1 L279.2,336.2 L280.9,336.4 L283.2,336.6 L284.5,336.8 L285.8,337.0 L288.0,337.4 L289.1,337.6 L291.3,338.1 L292.7,338.4 L294.4,338.8 L296.4,339.4 L297.9,339.8 L299.2,340.2 L301.1,340.8 L302.9,341.4 L304.6,342.0 L306.4,342.6 L308.0,343.2 L309.7,343.9 L311.3,344.6 L312.8,345.2 L314.3,345.9 L315.8,346.7 L316.6,347.0 L318.0,347.8 L319.4,348.5 L320.4,349.1 L321.4,349.7 L322.7,350.5 L323.4,350.9 L324.6,351.7 L325.8,352.5 L326.4,353.0 L327.6,353.8 L328.1,354.3 L329.2,355.2 L329.8,355.7 L330.5,356.3 L331.3,357.1 L331.7,357.6 L332.6,358.5 L333.0,359.1 L333.4,359.6 L334.0,360.5 L334.5,361.3 L334.8,361.9 L335.1,362.5 L335.3,363.1 L335.6,363.9 L335.7,364.6 L335.8,365.4 L335.8,366.1" stroke="#ea9434" fill="none" stroke-width="1.1"/>
<path d="M244.0,326.1 h-1.6" stroke="#222" stroke-width="0.6"/>
<text x="240.4" y="327.9" font-size="5.6" text-anchor="middle" >0</text>
<path d="M243.8,316.8 h-1.6" stroke="#222" stroke-width="0.6"/>
<text x="240.2" y="318.6" font-size="5.6" text-anchor="middle" >1</text>
<path d="M243.5,307.6 h-1.6" stroke="#222" stroke-width="0.6"/>
<text x="239.9" y="309.4" font-size="5.6" text-anchor="middle" >2</text>
<path d="M243.3,298.3 h-1.6" stroke="#222" stroke-width="0.6"/>
<text x="239.7" y="300.1" font-size="5.6" text-anchor="middle" >3</text>
<path d="M243.0,289.0 h-1.6" stroke="#222" stroke-width="0.6"/>
<text x="239.4" y="290.8" font-size="5.6" text-anchor="middle" >4</text>
<path d="M242.8,279.7 h-1.6" stroke="#222" stroke-width="0.6"/>
<text x="239.2" y="281.5" font-size="5.6" text-anchor="middle" >5</text>
<path d="M242.5,270.5 h-1.6" stroke="#222" stroke-width="0.6"/>
<text x="238.9" y="272.3" font-size="5.6" text-anchor="middle" >6</text>
<path d="M242.3,261.2 h-1.6" stroke="#222" stroke-width="0.6"/>
<text x="238.7" y="263.0" font-size="5.6" text-anchor="middle" >7</text>
<g stroke-opacity="0.7" stroke-width="0.32" stroke-linejoin="round">
<polygon points="312.1,276.1 315.2,278.0 312.1,277.0 309.0,275.2" fill="#05250c" stroke="#010903"/>
<polygon points="308.9,274.5 312.1,276.1 309.0,275.2 305.8,273.6" fill="#0f4313" stroke="#041005"/>
<polygon points="315.2,277.1 318.3,279.0 315.2,278.0 312.1,276.1" fill="#05240b" stroke="#010903"/>
<polygon points="305.8,273.0 308.9,274.5 305.8,273.6 302.7,272.1" fill="#31701a" stroke="#0c1b06"/>
<polygon points="312.1,275.4 315.2,277.1 312.1,276.1 308.9,274.5" fill="#0e3f12" stroke="#030f04"/>
<polygon points="318.4,278.2 321.5,280.1 318.3,279.0 315.2,277.1" fill="#05230b" stroke="#010803"/>
<polygon points="302.6,271.7 305.8,273.0 302.7,272.1 299.5,270.9" fill="#84a721" stroke="#202808"/>
<polygon points="308.9,273.9 312.1,275.4 308.9,274.5 305.8,273.0" fill="#2b691a" stroke="#0a1906"/>
<polygon points="315.2,276.4 318.4,278.2 315.2,277.1 312.1,275.4" fill="#0c3a11" stroke="#030e04"/>
<polygon points="321.5,279.3 324.6,281.2 321.5,280.1 318.4,278.2" fill="#05220b" stroke="#010803"/>
<polygon points="305.8,272.6 308.9,273.9 305.8,273.0 302.6,271.7" fill="#779f20" stroke="#1d2608"/>
<polygon points="318.4,277.5 321.5,279.3 318.4,278.2 315.2,276.4" fill="#0b3510" stroke="#030d04"/>
<polygon points="299.5,270.6 302.6,271.7 299.5,270.9 296.3,269.8" fill="#d5d127" stroke="#333209"/>
<polygon points="312.1,274.9 315.2,276.4 312.1,275.4 308.9,273.9" fill="#246219" stroke="#091706"/>
<polygon points="324.6,280.4 327.7,282.4 324.6,281.2 321.5,279.3" fill="#05210a" stroke="#010802"/>
<polygon points="296.3,269.7 299.5,270.6 296.3,269.8 293.2,269.0" fill="#ebd82b" stroke="#39340a"/>
<polygon points="302.7,271.5 305.8,272.6 302.6,271.7 299.5,270.6" fill="#cfcd26" stroke="#323109"/>
<polygon points="309.0,273.6 312.1,274.9 308.9,273.9 305.8,272.6" fill="#69971f" stroke="#192407"/>
<polygon points="315.2,275.9 318.4,277.5 315.2,276.4 312.1,274.9" fill="#1d5a18" stroke="#071606"/>
<polygon points="321.5,278.6 324.6,280.4 321.5,279.3 318.4,277.5" fill="#09300e" stroke="#020b03"/>
<polygon points="327.7,281.6 330.8,283.7 327.7,282.4 324.6,280.4" fill="#05200a" stroke="#010802"/>
<polygon points="293.2,269.1 296.3,269.7 293.2,269.0 290.0,268.3" fill="#ffa42f" stroke="#3d270b"/>
<polygon points="299.5,270.6 302.7,271.5 299.5,270.6 296.3,269.7" fill="#e8d72a" stroke="#38340a"/>
<polygon points="312.1,274.6 315.2,275.9 312.1,274.9 309.0,273.6" fill="#5a8e1e" stroke="#162207"/>
<polygon points="324.6,279.8 327.7,281.6 324.6,280.4 321.5,278.6" fill="#072b0d" stroke="#020a03"/>
<polygon points="330.9,282.9 333.9,285.0 330.8,283.7 327.7,281.6" fill="#041e0a" stroke="#010702"/>
<polygon points="305.8,272.4 309.0,273.6 305.8,272.6 302.7,271.5" fill="#c5c725" stroke="#2f3009"/>
<polygon points="318.4,277.0 321.5,278.6 318.4,277.5 315.2,275.9" fill="#165217" stroke="#051405"/>
<polygon points="296.3,269.8 299.5,270.6 296.3,269.7 293.2,269.1" fill="#fca930" stroke="#3c290c"/>
<polygon points="327.8,281.0 330.9,282.9 327.7,281.6 324.6,279.8" fill="#06250c" stroke="#010903"/>
<polygon points="290.0,268.6 293.2,269.1 290.0,268.3 286.8,267.8" fill="#fe862a" stroke="#3d200a"/>
<polygon points="302.7,271.5 305.8,272.4 302.7,271.5 299.5,270.6" fill="#e4d529" stroke="#37330a"/>
<polygon points="309.0,273.4 312.1,274.6 309.0,273.6 305.8,272.4" fill="#b9c124" stroke="#2d2e09"/>
<polygon points="315.3,275.6 318.4,277.0 315.2,275.9 312.1,274.6" fill="#4a851c" stroke="#122007"/>
<polygon points="321.5,278.2 324.6,279.8 321.5,278.6 318.4,277.0" fill="#124b15" stroke="#041205"/>
<polygon points="334.0,284.2 337.0,286.3 333.9,285.0 330.9,282.9" fill="#041d09" stroke="#010702"/>
<polygon points="286.9,268.3 290.0,268.6 286.8,267.8 283.7,267.6" fill="#fd6a27" stroke="#3d1a09"/>
<polygon points="293.2,269.3 296.3,269.8 293.2,269.1 290.0,268.6" fill="#fe852a" stroke="#3d200a"/>
<polygon points="299.5,270.7 302.7,271.5 299.5,270.6 296.3,269.8" fill="#f8af31" stroke="#3c2a0c"/>
<polygon points="305.8,272.4 309.0,273.4 305.8,272.4 302.7,271.5" fill="#e0d329" stroke="#36330a"/>
<polygon points="312.1,274.4 315.3,275.6 312.1,274.6 309.0,273.4" fill="#adba23" stroke="#2a2d08"/>
<polygon points="318.4,276.7 321.5,278.2 318.4,277.0 315.3,275.6" fill="#3f7c1b" stroke="#0f1e07"/>
<polygon points="324.7,279.3 327.8,281.0 324.6,279.8 321.5,278.2" fill="#104514" stroke="#041105"/>
<polygon points="330.9,282.3 334.0,284.2 330.9,282.9 327.8,281.0" fill="#05230b" stroke="#010803"/>
<polygon points="337.1,285.6 340.1,287.7 337.0,286.3 334.0,284.2" fill="#041c09" stroke="#010702"/>
<polygon points="283.7,268.2 286.9,268.3 283.7,267.6 280.5,267.5" fill="#fa5826" stroke="#3c1509"/>
<polygon points="290.0,269.0 293.2,269.3 290.0,268.6 286.9,268.3" fill="#fd6927" stroke="#3d1909"/>
<polygon points="296.4,270.1 299.5,270.7 296.3,269.8 293.2,269.3" fill="#fe852a" stroke="#3d200a"/>
<polygon points="302.7,271.6 305.8,272.4 302.7,271.5 299.5,270.7" fill="#f5b633" stroke="#3b2c0c"/>
<polygon points="309.0,273.4 312.1,274.4 309.0,273.4 305.8,272.4" fill="#dbd128" stroke="#35320a"/>
<polygon points="315.3,275.5 318.4,276.7 315.3,275.6 312.1,274.4" fill="#a1b322" stroke="#272b08"/>
<polygon points="321.6,277.9 324.7,279.3 321.5,278.2 318.4,276.7" fill="#35721a" stroke="#0d1b06"/>
<polygon points="327.8,280.6 330.9,282.3 327.8,281.0 324.7,279.3" fill="#0e3e12" stroke="#030f04"/>
<polygon points="334.0,283.6 337.1,285.6 334.0,284.2 330.9,282.3" fill="#05220b" stroke="#010803"/>
<polygon points="340.2,287.0 343.2,289.2 340.1,287.7 337.1,285.6" fill="#041b08" stroke="#010602"/>
<polygon points="280.5,268.3 283.7,268.2 280.5,267.5 277.4,267.6" fill="#f84d25" stroke="#3b1309"/>
<polygon points="286.9,268.9 290.0,269.0 286.9,268.3 283.7,268.2" fill="#fa5626" stroke="#3c1509"/>
<polygon points="293.2,269.8 296.4,270.1 293.2,269.3 290.0,269.0" fill="#fd6827" stroke="#3d1909"/>
<polygon points="299.5,271.0 302.7,271.6 299.5,270.7 296.4,270.1" fill="#fe862a" stroke="#3d200a"/>
<polygon points="305.8,272.5 309.0,273.4 305.8,272.4 302.7,271.6" fill="#f1be32" stroke="#3a2e0c"/>
<polygon points="312.1,274.4 315.3,275.5 312.1,274.4 309.0,273.4" fill="#d7cf27" stroke="#343209"/>
<polygon points="318.4,276.6 321.6,277.9 318.4,276.7 315.3,275.5" fill="#8fa921" stroke="#222908"/>
<polygon points="324.7,279.1 327.8,280.6 324.7,279.3 321.6,277.9" fill="#2c6819" stroke="#0b1906"/>
<polygon points="330.9,281.9 334.0,283.6 330.9,282.3 327.8,280.6" fill="#0c3810" stroke="#030d04"/>
<polygon points="337.1,285.0 340.2,287.0 337.1,285.6 334.0,283.6" fill="#05200a" stroke="#010802"/>
<polygon points="343.3,288.5 346.3,290.7 343.2,289.2 340.2,287.0" fill="#041a08" stroke="#010602"/>
<polygon points="277.4,268.6 280.5,268.3 277.4,267.6 274.2,268.0" fill="#f64625" stroke="#3b1109"/>
<polygon points="283.7,268.9 286.9,268.9 283.7,268.2 280.5,268.3" fill="#f74b25" stroke="#3b1209"/>
<polygon points="290.0,269.6 293.2,269.8 290.0,269.0 286.9,268.9" fill="#fa5626" stroke="#3c1509"/>
<polygon points="296.4,270.6 299.5,271.0 296.4,270.1 293.2,269.8" fill="#fd6927" stroke="#3d1909"/>
<polygon points="302.7,271.9 305.8,272.5 302.7,271.6 299.5,271.0" fill="#fe892b" stroke="#3d210a"/>
<polygon points="309.0,273.5 312.1,274.4 309.0,273.4 305.8,272.5" fill="#edc52f" stroke="#392f0b"/>
<polygon points="315.3,275.5 318.4,276.6 315.3,275.5 312.1,274.4" fill="#d2cc26" stroke="#333109"/>
<polygon points="321.6,277.7 324.7,279.1 321.6,277.9 318.4,276.6" fill="#7a9e1f" stroke="#1d2608"/>
<polygon points="327.8,280.3 330.9,281.9 327.8,280.6 324.7,279.1" fill="#225e18" stroke="#081706"/>
<polygon points="334.1,283.2 337.1,285.0 334.0,283.6 330.9,281.9" fill="#0a310f" stroke="#020c04"/>
<polygon points="340.3,286.5 343.3,288.5 340.2,287.0 337.1,285.0" fill="#041f0a" stroke="#010702"/>
<polygon points="346.4,290.0 349.4,292.3 346.3,290.7 343.3,288.5" fill="#041808" stroke="#010602"/>
<polygon points="274.2,269.1 277.4,268.6 274.2,268.0 271.0,268.5" fill="#f54225" stroke="#3b1009"/>
<polygon points="280.5,269.2 283.7,268.9 280.5,268.3 277.4,268.6" fill="#f54325" stroke="#3b1009"/>
<polygon points="286.9,269.7 290.0,269.6 286.9,268.9 283.7,268.9" fill="#f74a25" stroke="#3b1209"/>
<polygon points="293.2,270.4 296.4,270.6 293.2,269.8 290.0,269.6" fill="#fa5626" stroke="#3c1509"/>
<polygon points="299.5,271.5 302.7,271.9 299.5,271.0 296.4,270.6" fill="#fd6b27" stroke="#3d1a09"/>
<polygon points="305.9,272.9 309.0,273.5 305.8,272.5 302.7,271.9" fill="#ff8d2b" stroke="#3d220a"/>
<polygon points="312.2,274.6 315.3,275.5 312.1,274.4 309.0,273.5" fill="#e9cc2c" stroke="#38310b"/>
<polygon points="318.5,276.6 321.6,277.7 318.4,276.6 315.3,275.5" fill="#ceca26" stroke="#313109"/>
<polygon points="324.7,279.0 327.8,280.3 324.7,279.1 321.6,277.7" fill="#64921e" stroke="#182307"/>
<polygon points="331.0,281.6 334.1,283.2 330.9,281.9 327.8,280.3" fill="#195417" stroke="#061405"/>
<polygon points="337.2,284.7 340.3,286.5 337.1,285.0 334.1,283.2" fill="#072a0d" stroke="#020a03"/>
<polygon points="343.4,288.0 346.4,290.0 343.3,288.5 340.3,286.5" fill="#041e09" stroke="#010702"/>
<polygon points="349.5,291.7 352.5,293.9 349.4,292.3 346.4,290.0" fill="#041808" stroke="#010602"/>
<polygon points="271.1,269.9 274.2,269.1 271.0,268.5 267.9,269.3" fill="#f54025" stroke="#3b0f09"/>
<polygon points="277.4,269.7 280.5,269.2 277.4,268.6 274.2,269.1" fill="#f43f24" stroke="#3b0f09"/>
<polygon points="283.7,269.9 286.9,269.7 283.7,268.9 280.5,269.2" fill="#f54225" stroke="#3b1009"/>
<polygon points="290.1,270.5 293.2,270.4 290.0,269.6 286.9,269.7" fill="#f74a25" stroke="#3b1209"/>
<polygon points="302.7,272.4 305.9,272.9 302.7,271.9 299.5,271.5" fill="#fd6e28" stroke="#3d1a0a"/>
<polygon points="309.0,273.9 312.2,274.6 309.0,273.5 305.9,272.9" fill="#fd962c" stroke="#3d240b"/>
<polygon points="315.3,275.7 318.5,276.6 315.3,275.5 312.2,274.6" fill="#e4d429" stroke="#37330a"/>
<polygon points="321.6,277.8 324.7,279.0 321.6,277.7 318.5,276.6" fill="#bfc324" stroke="#2e2f09"/>
<polygon points="334.1,283.0 337.2,284.7 334.1,283.2 331.0,281.6" fill="#124b15" stroke="#041205"/>
<polygon points="340.3,286.1 343.4,288.0 340.3,286.5 337.2,284.7" fill="#05240b" stroke="#010903"/>
<polygon points="346.5,289.6 349.5,291.7 346.4,290.0 343.4,288.0" fill="#041d09" stroke="#010702"/>
<polygon points="352.6,293.3 355.6,295.7 352.5,293.9 349.5,291.7" fill="#041808" stroke="#010602"/>
<polygon points="296.4,271.3 299.5,271.5 296.4,270.6 293.2,270.4" fill="#fa5626" stroke="#3c1509"/>
<polygon points="327.9,280.3 331.0,281.6 327.8,280.3 324.7,279.0" fill="#4e871c" stroke="#132007"/>
<polygon points="274.2,270.5 277.4,269.7 274.2,269.1 271.1,269.9" fill="#f43d24" stroke="#3b0f09"/>
<polygon points="286.9,270.7 290.1,270.5 286.9,269.7 283.7,269.9" fill="#f54125" stroke="#3b1009"/>
<polygon points="305.9,273.4 309.0,273.9 305.9,272.9 302.7,272.4" fill="#fd7228" stroke="#3d1b0a"/>
<polygon points="318.5,276.9 321.6,277.8 318.5,276.6 315.3,275.7" fill="#e0d228" stroke="#36320a"/>
<polygon points="337.2,284.5 340.3,286.1 337.2,284.7 334.1,283.0" fill="#104313" stroke="#041005"/>
<polygon points="349.6,291.2 352.6,293.3 349.5,291.7 346.5,289.6" fill="#041b09" stroke="#010702"/>
<polygon points="267.9,270.8 271.1,269.9 267.9,269.3 264.7,270.3" fill="#f54225" stroke="#3b1009"/>
<polygon points="280.6,270.4 283.7,269.9 280.5,269.2 277.4,269.7" fill="#f43d24" stroke="#3a0f09"/>
<polygon points="293.2,271.3 296.4,271.3 293.2,270.4 290.1,270.5" fill="#f74a25" stroke="#3b1209"/>
<polygon points="299.6,272.2 302.7,272.4 299.5,271.5 296.4,271.3" fill="#fa5826" stroke="#3c1509"/>
<polygon points="312.2,275.0 315.3,275.7 312.2,274.6 309.0,273.9" fill="#f9a22f" stroke="#3c270b"/>
<polygon points="324.8,279.1 327.9,280.3 324.7,279.0 321.6,277.8" fill="#afba23" stroke="#2a2d08"/>
<polygon points="331.0,281.6 334.1,283.0 331.0,281.6 327.9,280.3" fill="#3e7b1b" stroke="#0f1d06"/>
<polygon points="343.4,287.7 346.5,289.6 343.4,288.0 340.3,286.1" fill="#05220b" stroke="#010803"/>
<polygon points="355.7,295.0 358.6,297.4 355.6,295.7 352.6,293.3" fill="#041808" stroke="#010602"/>
<polygon points="264.8,272.0 267.9,270.8 264.7,270.3 261.6,271.5" fill="#f64825" stroke="#3b1109"/>
<polygon points="271.1,271.4 274.2,270.5 271.1,269.9 267.9,270.8" fill="#f43f24" stroke="#3b0f09"/>
<polygon points="277.4,271.1 280.6,270.4 277.4,269.7 274.2,270.5" fill="#f33b24" stroke="#3a0e09"/>
<polygon points="283.7,271.1 286.9,270.7 283.7,269.9 280.6,270.4" fill="#f33b24" stroke="#3a0e09"/>
<polygon points="290.1,271.5 293.2,271.3 290.1,270.5 286.9,270.7" fill="#f54125" stroke="#3b1009"/>
<polygon points="296.4,272.2 299.6,272.2 296.4,271.3 293.2,271.3" fill="#f74b25" stroke="#3b1209"/>
<polygon points="302.7,273.2 305.9,273.4 302.7,272.4 299.6,272.2" fill="#fb5a26" stroke="#3c1609"/>
<polygon points="309.1,274.5 312.2,275.0 309.0,273.9 305.9,273.4" fill="#fd7829" stroke="#3d1d0a"/>
<polygon points="315.4,276.1 318.5,276.9 315.3,275.7 312.2,275.0" fill="#f4af31" stroke="#3b2a0c"/>
<polygon points="321.7,278.1 324.8,279.1 321.6,277.8 318.5,276.9" fill="#dbd028" stroke="#34320a"/>
<polygon points="327.9,280.4 331.0,281.6 327.9,280.3 324.8,279.1" fill="#9eb222" stroke="#262b08"/>
<polygon points="334.2,283.0 337.2,284.5 334.1,283.0 331.0,281.6" fill="#326e1a" stroke="#0c1a06"/>
<polygon points="340.4,286.0 343.4,287.7 340.3,286.1 337.2,284.5" fill="#0d3b11" stroke="#030e04"/>
<polygon points="346.5,289.2 349.6,291.2 346.5,289.6 343.4,287.7" fill="#05210a" stroke="#010802"/>
<polygon points="352.7,292.9 355.7,295.0 352.6,293.3 349.6,291.2" fill="#041a08" stroke="#010602"/>
<polygon points="358.7,296.8 361.7,299.2 358.6,297.4 355.7,295.0" fill="#041808" stroke="#010602"/>
<polygon points="261.6,273.4 264.8,272.0 261.6,271.5 258.5,272.9" fill="#f95025" stroke="#3c1309"/>
<polygon points="267.9,272.5 271.1,271.4 267.9,270.8 264.8,272.0" fill="#f54425" stroke="#3b1009"/>
<polygon points="274.3,272.0 277.4,271.1 274.2,270.5 271.1,271.4" fill="#f33c24" stroke="#3a0e09"/>
<polygon points="280.6,271.8 283.7,271.1 280.6,270.4 277.4,271.1" fill="#f33924" stroke="#3a0e09"/>
<polygon points="286.9,271.9 290.1,271.5 286.9,270.7 283.7,271.1" fill="#f33b24" stroke="#3a0e09"/>
<polygon points="293.2,272.3 296.4,272.2 293.2,271.3 290.1,271.5" fill="#f54225" stroke="#3b1009"/>
<polygon points="299.6,273.1 302.7,273.2 299.6,272.2 296.4,272.2" fill="#f84d25" stroke="#3b1209"/>
<polygon points="312.2,275.6 315.4,276.1 312.2,275.0 309.1,274.5" fill="#fe7f2a" stroke="#3d1e0a"/>
<polygon points="324.8,279.4 327.9,280.4 324.8,279.1 321.7,278.1" fill="#d5ce27" stroke="#333109"/>
<polygon points="331.1,281.7 334.2,283.0 331.0,281.6 327.9,280.4" fill="#85a420" stroke="#202708"/>
<polygon points="337.3,284.5 340.4,286.0 337.2,284.5 334.2,283.0" fill="#266218" stroke="#091806"/>
<polygon points="343.5,287.5 346.5,289.2 343.4,287.7 340.4,286.0" fill="#0a330f" stroke="#020c04"/>
<polygon points="349.7,290.9 352.7,292.9 349.6,291.2 346.5,289.2" fill="#05200a" stroke="#010802"/>
<polygon points="355.8,294.6 358.7,296.8 355.7,295.0 352.7,292.9" fill="#041908" stroke="#010602"/>
<polygon points="361.8,298.7 364.8,301.1 361.7,299.2 358.7,296.8" fill="#041808" stroke="#010602"/>
<polygon points="305.9,274.2 309.1,274.5 305.9,273.4 302.7,273.2" fill="#fc5d26" stroke="#3c1609"/>
<polygon points="318.5,277.3 321.7,278.1 318.5,276.9 315.4,276.1" fill="#f0bc32" stroke="#3a2d0c"/>
<polygon points="258.5,275.0 261.6,273.4 258.5,272.9 255.3,274.5" fill="#fb5c26" stroke="#3c1609"/>
<polygon points="264.8,273.9 267.9,272.5 264.8,272.0 261.6,273.4" fill="#f74c25" stroke="#3b1209"/>
<polygon points="277.4,272.7 280.6,271.8 277.4,271.1 274.3,272.0" fill="#f33a24" stroke="#3a0e09"/>
<polygon points="290.1,272.7 293.2,272.3 290.1,271.5 286.9,271.9" fill="#f33b24" stroke="#3a0e09"/>
<polygon points="296.4,273.2 299.6,273.1 296.4,272.2 293.2,272.3" fill="#f54325" stroke="#3b1009"/>
<polygon points="328.0,280.7 331.1,281.7 327.9,280.4 324.8,279.4" fill="#d0cc26" stroke="#323109"/>
<polygon points="334.2,283.2 337.3,284.5 334.2,283.0 331.1,281.7" fill="#6a961e" stroke="#192407"/>
<polygon points="346.6,289.1 349.7,290.9 346.5,289.2 343.5,287.5" fill="#082b0d" stroke="#020a03"/>
<polygon points="358.8,296.4 361.8,298.7 358.7,296.8 355.8,294.6" fill="#041808" stroke="#010602"/>
<polygon points="364.9,300.6 367.8,303.1 364.8,301.1 361.8,298.7" fill="#041808" stroke="#010602"/>
<polygon points="271.1,273.1 274.3,272.0 271.1,271.4 267.9,272.5" fill="#f54025" stroke="#3b0f09"/>
<polygon points="283.8,272.5 286.9,271.9 283.7,271.1 280.6,271.8" fill="#f33824" stroke="#3a0d09"/>
<polygon points="302.8,274.1 305.9,274.2 302.7,273.2 299.6,273.1" fill="#f85025" stroke="#3c1309"/>
<polygon points="309.1,275.2 312.2,275.6 309.1,274.5 305.9,274.2" fill="#fc6327" stroke="#3d1809"/>
<polygon points="315.4,276.7 318.5,277.3 315.4,276.1 312.2,275.6" fill="#fe872b" stroke="#3d200a"/>
<polygon points="321.7,278.5 324.8,279.4 321.7,278.1 318.5,277.3" fill="#ebc72e" stroke="#38300b"/>
<polygon points="340.4,286.0 343.5,287.5 340.4,286.0 337.3,284.5" fill="#1a5617" stroke="#061506"/>
<polygon points="352.8,292.6 355.8,294.6 352.7,292.9 349.7,290.9" fill="#041e0a" stroke="#010702"/>
<polygon points="261.7,275.5 264.8,273.9 261.6,273.4 258.5,275.0" fill="#fa5726" stroke="#3c1509"/>
<polygon points="293.3,273.6 296.4,273.2 293.2,272.3 290.1,272.7" fill="#f43c24" stroke="#3a0e09"/>
<polygon points="331.1,282.1 334.2,283.2 331.1,281.7 328.0,280.7" fill="#c2c525" stroke="#2f2f09"/>
<polygon points="361.9,298.3 364.9,300.6 361.8,298.7 358.8,296.4" fill="#041808" stroke="#010602"/>
<polygon points="255.4,276.8 258.5,275.0 255.3,274.5 252.2,276.4" fill="#fd7228" stroke="#3d1b0a"/>
<polygon points="268.0,274.5 271.1,273.1 267.9,272.5 264.8,273.9" fill="#f64825" stroke="#3b1109"/>
<polygon points="274.3,273.8 277.4,272.7 274.3,272.0 271.1,273.1" fill="#f43e24" stroke="#3b0f09"/>
<polygon points="280.6,273.4 283.8,272.5 280.6,271.8 277.4,272.7" fill="#f33824" stroke="#3a0e09"/>
<polygon points="286.9,273.3 290.1,272.7 286.9,271.9 283.8,272.5" fill="#f23824" stroke="#3a0d09"/>
<polygon points="299.6,274.2 302.8,274.1 299.6,273.1 296.4,273.2" fill="#f64525" stroke="#3b1109"/>
<polygon points="305.9,275.1 309.1,275.2 305.9,274.2 302.8,274.1" fill="#f95325" stroke="#3c1409"/>
<polygon points="312.3,276.4 315.4,276.7 312.2,275.6 309.1,275.2" fill="#fd6b27" stroke="#3d1a09"/>
<polygon points="318.6,277.9 321.7,278.5 318.5,277.3 315.4,276.7" fill="#ff912c" stroke="#3d230a"/>
<polygon points="324.9,279.8 328.0,280.7 324.8,279.4 321.7,278.5" fill="#e7d32a" stroke="#37330a"/>
<polygon points="337.4,284.6 340.4,286.0 337.3,284.5 334.2,283.2" fill="#4f881d" stroke="#132107"/>
<polygon points="343.6,287.5 346.6,289.1 343.5,287.5 340.4,286.0" fill="#124b15" stroke="#041205"/>
<polygon points="349.7,290.8 352.8,292.6 349.7,290.9 346.6,289.1" fill="#05240b" stroke="#010903"/>
<polygon points="355.9,294.4 358.8,296.4 355.8,294.6 352.8,292.6" fill="#041d09" stroke="#010702"/>
<polygon points="367.9,302.6 370.9,305.1 367.8,303.1 364.9,300.6" fill="#041808" stroke="#010602"/>
<polygon points="252.2,278.9 255.4,276.8 252.2,276.4 249.1,278.5" fill="#ff8f2b" stroke="#3d220a"/>
<polygon points="258.5,277.3 261.7,275.5 258.5,275.0 255.4,276.8" fill="#fd6927" stroke="#3d1909"/>
<polygon points="264.8,276.1 268.0,274.5 264.8,273.9 261.7,275.5" fill="#f95225" stroke="#3c1409"/>
<polygon points="271.1,275.1 274.3,273.8 271.1,273.1 268.0,274.5" fill="#f64525" stroke="#3b1109"/>
<polygon points="277.4,274.5 280.6,273.4 277.4,272.7 274.3,273.8" fill="#f33c24" stroke="#3a0e09"/>
<polygon points="283.8,274.2 286.9,273.3 283.8,272.5 280.6,273.4" fill="#f23824" stroke="#3a0d09"/>
<polygon points="290.1,274.2 293.3,273.6 290.1,272.7 286.9,273.3" fill="#f33824" stroke="#3a0e09"/>
<polygon points="296.4,274.5 299.6,274.2 296.4,273.2 293.3,273.6" fill="#f43e24" stroke="#3b0f09"/>
<polygon points="302.8,275.2 305.9,275.1 302.8,274.1 299.6,274.2" fill="#f74825" stroke="#3b1109"/>
<polygon points="309.1,276.2 312.3,276.4 309.1,275.2 305.9,275.1" fill="#fa5726" stroke="#3c1509"/>
<polygon points="315.4,277.5 318.6,277.9 315.4,276.7 312.3,276.4" fill="#fd7328" stroke="#3d1c0a"/>
<polygon points="321.7,279.2 324.9,279.8 321.7,278.5 318.6,277.9" fill="#fba12e" stroke="#3c270b"/>
<polygon points="328.0,281.2 331.1,282.1 328.0,280.7 324.9,279.8" fill="#e1d329" stroke="#36330a"/>
<polygon points="334.3,283.5 337.4,284.6 334.2,283.2 331.1,282.1" fill="#afbb23" stroke="#2a2d08"/>
<polygon points="340.5,286.2 343.6,287.5 340.4,286.0 337.4,284.6" fill="#3c7a1b" stroke="#0e1d07"/>
<polygon points="346.7,289.2 349.7,290.8 346.6,289.1 343.6,287.5" fill="#0f4213" stroke="#041005"/>
<polygon points="352.8,292.5 355.9,294.4 352.8,292.6 349.7,290.8" fill="#05230b" stroke="#010803"/>
<polygon points="358.9,296.2 361.9,298.3 358.8,296.4 355.9,294.4" fill="#041c09" stroke="#010702"/>
<polygon points="365.0,300.2 367.9,302.6 364.9,300.6 361.9,298.3" fill="#041808" stroke="#010602"/>
<polygon points="371.0,304.6 373.9,307.2 370.9,305.1 367.9,302.6" fill="#041808" stroke="#010602"/>
<polygon points="249.1,281.2 252.2,278.9 249.1,278.5 246.0,280.8" fill="#eec330" stroke="#392f0c"/>
<polygon points="255.4,279.4 258.5,277.3 255.4,276.8 252.2,278.9" fill="#fe852a" stroke="#3d200a"/>
<polygon points="261.7,277.8 264.8,276.1 261.7,275.5 258.5,277.3" fill="#fc6226" stroke="#3d1709"/>
<polygon points="268.0,276.7 271.1,275.1 268.0,274.5 264.8,276.1" fill="#f84f25" stroke="#3c1309"/>
<polygon points="274.3,275.8 277.4,274.5 274.3,273.8 271.1,275.1" fill="#f54225" stroke="#3b1009"/>
<polygon points="280.6,275.2 283.8,274.2 280.6,273.4 277.4,274.5" fill="#f33b24" stroke="#3a0e09"/>
<polygon points="287.0,275.0 290.1,274.2 286.9,273.3 283.8,274.2" fill="#f23824" stroke="#3a0d09"/>
<polygon points="293.3,275.1 296.4,274.5 293.3,273.6 290.1,274.2" fill="#f33a24" stroke="#3a0e09"/>
<polygon points="299.6,275.5 302.8,275.2 299.6,274.2 296.4,274.5" fill="#f54025" stroke="#3b0f09"/>
<polygon points="306.0,276.3 309.1,276.2 305.9,275.1 302.8,275.2" fill="#f74c25" stroke="#3b1209"/>
<polygon points="312.3,277.4 315.4,277.5 312.3,276.4 309.1,276.2" fill="#fc5c26" stroke="#3c1609"/>
<polygon points="318.6,278.8 321.7,279.2 318.6,277.9 315.4,277.5" fill="#fe7d29" stroke="#3d1e0a"/>
<polygon points="324.9,280.5 328.0,281.2 324.9,279.8 321.7,279.2" fill="#f6b232" stroke="#3b2b0c"/>
<polygon points="331.2,282.6 334.3,283.5 331.1,282.1 328.0,281.2" fill="#dcd228" stroke="#35320a"/>
<polygon points="337.4,285.0 340.5,286.2 337.4,284.6 334.3,283.5" fill="#99b022" stroke="#252a08"/>
<polygon points="343.6,287.8 346.7,289.2 343.6,287.5 340.5,286.2" fill="#2e6c1a" stroke="#0b1a06"/>
<polygon points="349.8,290.9 352.8,292.5 349.7,290.8 346.7,289.2" fill="#0c3911" stroke="#030e04"/>
<polygon points="355.9,294.3 358.9,296.2 355.9,294.4 352.8,292.5" fill="#05210a" stroke="#010803"/>
<polygon points="362.0,298.1 365.0,300.2 361.9,298.3 358.9,296.2" fill="#041a08" stroke="#010602"/>
<polygon points="368.1,302.2 371.0,304.6 367.9,302.6 365.0,300.2" fill="#041808" stroke="#010602"/>
<polygon points="374.0,306.7 376.9,309.3 373.9,307.2 371.0,304.6" fill="#041808" stroke="#010602"/>
<polygon points="246.0,283.7 249.1,281.2 246.0,280.8 242.9,283.4" fill="#d9d027" stroke="#343209"/>
<polygon points="252.3,281.6 255.4,279.4 252.2,278.9 249.1,281.2" fill="#f3b633" stroke="#3a2c0c"/>
<polygon points="258.6,279.9 261.7,277.8 258.5,277.3 255.4,279.4" fill="#fe7d29" stroke="#3d1e0a"/>
<polygon points="264.8,278.4 268.0,276.7 264.8,276.1 261.7,277.8" fill="#fc5c26" stroke="#3c1609"/>
<polygon points="271.2,277.3 274.3,275.8 271.1,275.1 268.0,276.7" fill="#f84c25" stroke="#3b1209"/>
<polygon points="277.5,276.5 280.6,275.2 277.4,274.5 274.3,275.8" fill="#f54125" stroke="#3b1009"/>
<polygon points="283.8,276.0 287.0,275.0 283.8,274.2 280.6,275.2" fill="#f33a24" stroke="#3a0e09"/>
<polygon points="290.1,275.9 293.3,275.1 290.1,274.2 287.0,275.0" fill="#f33924" stroke="#3a0e09"/>
<polygon points="296.5,276.1 299.6,275.5 296.4,274.5 293.3,275.1" fill="#f33c24" stroke="#3a0e09"/>
<polygon points="302.8,276.6 306.0,276.3 302.8,275.2 299.6,275.5" fill="#f54425" stroke="#3b1009"/>
<polygon points="309.1,277.4 312.3,277.4 309.1,276.2 306.0,276.3" fill="#f95025" stroke="#3c1309"/>
<polygon points="315.4,278.6 318.6,278.8 315.4,277.5 312.3,277.4" fill="#fc6427" stroke="#3d1809"/>
<polygon points="321.8,280.1 324.9,280.5 321.7,279.2 318.6,278.8" fill="#fe882b" stroke="#3d210a"/>
<polygon points="328.0,281.9 331.2,282.6 328.0,281.2 324.9,280.5" fill="#f1c231" stroke="#3a2f0c"/>
<polygon points="334.3,284.1 337.4,285.0 334.3,283.5 331.2,282.6" fill="#d6d027" stroke="#333209"/>
<polygon points="340.6,286.6 343.6,287.8 340.5,286.2 337.4,285.0" fill="#7aa020" stroke="#1d2608"/>
<polygon points="346.8,289.5 349.8,290.9 346.7,289.2 343.6,287.8" fill="#205e18" stroke="#081606"/>
<polygon points="352.9,292.6 355.9,294.3 352.8,292.5 349.8,290.9" fill="#09300e" stroke="#020b03"/>
<polygon points="359.0,296.2 362.0,298.1 358.9,296.2 355.9,294.3" fill="#05200a" stroke="#010802"/>
<polygon points="365.1,300.1 368.1,302.2 365.0,300.2 362.0,298.1" fill="#041908" stroke="#010602"/>
<polygon points="371.1,304.3 374.0,306.7 371.0,304.6 368.1,302.2" fill="#041808" stroke="#010602"/>
<polygon points="377.1,308.9 379.9,311.6 376.9,309.3 374.0,306.7" fill="#041808" stroke="#010602"/>
<polygon points="249.2,284.2 252.3,281.6 249.1,281.2 246.0,283.7" fill="#dfd228" stroke="#35320a"/>
<polygon points="261.7,280.4 264.8,278.4 261.7,277.8 258.6,279.9" fill="#fd7629" stroke="#3d1c0a"/>
<polygon points="274.3,278.0 277.5,276.5 274.3,275.8 271.2,277.3" fill="#f74a25" stroke="#3b1209"/>
<polygon points="280.6,277.3 283.8,276.0 280.6,275.2 277.5,276.5" fill="#f54025" stroke="#3b0f09"/>
<polygon points="293.3,276.8 296.5,276.1 293.3,275.1 290.1,275.9" fill="#f33a24" stroke="#3a0e09"/>
<polygon points="306.0,277.7 309.1,277.4 306.0,276.3 302.8,276.6" fill="#f64825" stroke="#3b1109"/>
<polygon points="312.3,278.6 315.4,278.6 312.3,277.4 309.1,277.4" fill="#fa5626" stroke="#3c1509"/>
<polygon points="318.6,279.8 321.8,280.1 318.6,278.8 315.4,278.6" fill="#fd6f28" stroke="#3d1b0a"/>
<polygon points="331.2,283.4 334.3,284.1 331.2,282.6 328.0,281.9" fill="#ecd12d" stroke="#39320b"/>
<polygon points="343.7,288.2 346.8,289.5 343.6,287.8 340.6,286.6" fill="#5b901e" stroke="#162307"/>
<polygon points="349.9,291.2 352.9,292.6 349.8,290.9 346.8,289.5" fill="#145017" stroke="#051305"/>
<polygon points="362.1,298.1 365.1,300.1 362.0,298.1 359.0,296.2" fill="#041f0a" stroke="#010702"/>
<polygon points="374.2,306.5 377.1,308.9 374.0,306.7 371.1,304.3" fill="#041808" stroke="#010602"/>
<polygon points="255.4,282.1 258.6,279.9 255.4,279.4 252.3,281.6" fill="#f9a730" stroke="#3c280b"/>
<polygon points="268.0,279.1 271.2,277.3 268.0,276.7 264.8,278.4" fill="#fb5926" stroke="#3c1509"/>
<polygon points="287.0,276.9 290.1,275.9 287.0,275.0 283.8,276.0" fill="#f33b24" stroke="#3a0e09"/>
<polygon points="299.6,277.1 302.8,276.6 299.6,275.5 296.5,276.1" fill="#f43f24" stroke="#3b0f09"/>
<polygon points="324.9,281.4 328.0,281.9 324.9,280.5 321.8,280.1" fill="#ff952c" stroke="#3d240b"/>
<polygon points="337.5,285.6 340.6,286.6 337.4,285.0 334.3,284.1" fill="#cecc26" stroke="#313109"/>
<polygon points="356.0,294.5 359.0,296.2 355.9,294.3 352.9,292.6" fill="#06270c" stroke="#010903"/>
<polygon points="368.2,302.1 371.1,304.3 368.1,302.2 365.1,300.1" fill="#041808" stroke="#010602"/>
<polygon points="277.5,278.8 280.6,277.3 277.5,276.5 274.3,278.0" fill="#f74925" stroke="#3b1209"/>
<polygon points="309.1,278.8 312.3,278.6 309.1,277.4 306.0,277.7" fill="#f84d25" stroke="#3b1209"/>
<polygon points="315.5,279.8 318.6,279.8 315.4,278.6 312.3,278.6" fill="#fb5c26" stroke="#3c1609"/>
<polygon points="346.8,289.9 349.9,291.2 346.8,289.5 343.7,288.2" fill="#41801c" stroke="#101f07"/>
<polygon points="252.3,284.6 255.4,282.1 252.3,281.6 249.2,284.2" fill="#e4d429" stroke="#37330a"/>
<polygon points="258.6,282.7 261.7,280.4 258.6,279.9 255.4,282.1" fill="#fe982d" stroke="#3d250b"/>
<polygon points="264.9,281.0 268.0,279.1 264.8,278.4 261.7,280.4" fill="#fd7028" stroke="#3d1b0a"/>
<polygon points="271.2,279.7 274.3,278.0 271.2,277.3 268.0,279.1" fill="#fa5726" stroke="#3c1509"/>
<polygon points="283.8,278.1 287.0,276.9 283.8,276.0 280.6,277.3" fill="#f54025" stroke="#3b0f09"/>
<polygon points="290.1,277.8 293.3,276.8 290.1,275.9 287.0,276.9" fill="#f43c24" stroke="#3a0e09"/>
<polygon points="302.8,278.1 306.0,277.7 302.8,276.6 299.6,277.1" fill="#f54225" stroke="#3b1009"/>
<polygon points="321.8,281.2 324.9,281.4 321.8,280.1 318.6,279.8" fill="#fe7a29" stroke="#3d1d0a"/>
<polygon points="334.4,284.9 337.5,285.6 334.3,284.1 331.2,283.4" fill="#e7d82a" stroke="#37340a"/>
<polygon points="340.6,287.2 343.7,288.2 340.6,286.6 337.5,285.6" fill="#b7c224" stroke="#2c2e09"/>
<polygon points="353.0,293.0 356.0,294.5 352.9,292.6 349.9,291.2" fill="#104614" stroke="#041105"/>
<polygon points="359.1,296.4 362.1,298.1 359.0,296.2 356.0,294.5" fill="#05240b" stroke="#010903"/>
<polygon points="365.2,300.1 368.2,302.1 365.1,300.1 362.1,298.1" fill="#041d09" stroke="#010702"/>
<polygon points="371.2,304.2 374.2,306.5 371.1,304.3 368.2,302.1" fill="#041808" stroke="#010602"/>
<polygon points="296.5,277.8 299.6,277.1 296.5,276.1 293.3,276.8" fill="#f43d24" stroke="#3a0f09"/>
<polygon points="328.1,282.8 331.2,283.4 328.0,281.9 324.9,281.4" fill="#ffa12f" stroke="#3d270b"/>
<polygon points="255.5,285.1 258.6,282.7 255.4,282.1 252.3,284.6" fill="#eacf2c" stroke="#38320b"/>
<polygon points="268.0,281.7 271.2,279.7 268.0,279.1 264.9,281.0" fill="#fd6c28" stroke="#3d1a09"/>
<polygon points="274.4,280.5 277.5,278.8 274.3,278.0 271.2,279.7" fill="#fa5526" stroke="#3c1409"/>
<polygon points="287.0,279.0 290.1,277.8 287.0,276.9 283.8,278.1" fill="#f54125" stroke="#3b1009"/>
<polygon points="306.0,279.3 309.1,278.8 306.0,277.7 302.8,278.1" fill="#f64725" stroke="#3b1109"/>
<polygon points="312.3,280.0 315.5,279.8 312.3,278.6 309.1,278.8" fill="#f95225" stroke="#3c1409"/>
<polygon points="318.6,281.1 321.8,281.2 318.6,279.8 315.5,279.8" fill="#fc6527" stroke="#3d1809"/>
<polygon points="337.5,286.4 340.6,287.2 337.5,285.6 334.4,284.9" fill="#e1d629" stroke="#36330a"/>
<polygon points="349.9,291.7 353.0,293.0 349.9,291.2 346.8,289.9" fill="#31701a" stroke="#0c1b06"/>
<polygon points="356.1,294.8 359.1,296.4 356.0,294.5 353.0,293.0" fill="#0d3b11" stroke="#030e04"/>
<polygon points="368.3,302.2 371.2,304.2 368.2,302.1 365.2,300.1" fill="#041c09" stroke="#010702"/>
<polygon points="261.8,283.3 264.9,281.0 261.7,280.4 258.6,282.7" fill="#ff902c" stroke="#3d220a"/>
<polygon points="280.7,279.6 283.8,278.1 280.6,277.3 277.5,278.8" fill="#f74925" stroke="#3b1109"/>
<polygon points="293.3,278.7 296.5,277.8 293.3,276.8 290.1,277.8" fill="#f43e24" stroke="#3b0f09"/>
<polygon points="299.7,278.8 302.8,278.1 299.6,277.1 296.5,277.8" fill="#f44024" stroke="#3b0f09"/>
<polygon points="325.0,282.5 328.1,282.8 324.9,281.4 321.8,281.2" fill="#fe872b" stroke="#3d200a"/>
<polygon points="331.2,284.3 334.4,284.9 331.2,283.4 328.1,282.8" fill="#fbb332" stroke="#3c2b0c"/>
<polygon points="343.7,288.9 346.8,289.9 343.7,288.2 340.6,287.2" fill="#a0b623" stroke="#262c08"/>
<polygon points="362.2,298.3 365.2,300.1 362.1,298.1 359.1,296.4" fill="#05230b" stroke="#010803"/>
<polygon points="271.2,282.4 274.4,280.5 271.2,279.7 268.0,281.7" fill="#fd6927" stroke="#3d1909"/>
<polygon points="353.1,293.5 356.1,294.8 353.0,293.0 349.9,291.7" fill="#216019" stroke="#081706"/>
<polygon points="258.6,285.7 261.8,283.3 258.6,282.7 255.5,285.1" fill="#eec530" stroke="#392f0b"/>
<polygon points="264.9,283.9 268.0,281.7 264.9,281.0 261.8,283.3" fill="#fe8a2b" stroke="#3d210a"/>
<polygon points="277.5,281.2 280.7,279.6 277.5,278.8 274.4,280.5" fill="#fa5426" stroke="#3c1409"/>
<polygon points="283.8,280.4 287.0,279.0 283.8,278.1 280.7,279.6" fill="#f74925" stroke="#3b1209"/>
<polygon points="290.2,279.9 293.3,278.7 290.1,277.8 287.0,279.0" fill="#f54325" stroke="#3b1009"/>
<polygon points="296.5,279.8 299.7,278.8 296.5,277.8 293.3,278.7" fill="#f54125" stroke="#3b1009"/>
<polygon points="302.8,279.9 306.0,279.3 302.8,278.1 299.7,278.8" fill="#f54425" stroke="#3b1009"/>
<polygon points="309.2,280.4 312.3,280.0 309.1,278.8 306.0,279.3" fill="#f74c25" stroke="#3b1209"/>
<polygon points="315.5,281.3 318.6,281.1 315.5,279.8 312.3,280.0" fill="#fb5826" stroke="#3c1509"/>
<polygon points="321.8,282.5 325.0,282.5 321.8,281.2 318.6,281.1" fill="#fd7128" stroke="#3d1b0a"/>
<polygon points="328.1,284.0 331.2,284.3 328.1,282.8 325.0,282.5" fill="#ff952c" stroke="#3d240b"/>
<polygon points="334.4,285.8 337.5,286.4 334.4,284.9 331.2,284.3" fill="#f6c732" stroke="#3b300c"/>
<polygon points="340.7,288.0 343.7,288.9 340.6,287.2 337.5,286.4" fill="#dbd528" stroke="#35330a"/>
<polygon points="346.9,290.6 349.9,291.7 346.8,289.9 343.7,288.9" fill="#7ca421" stroke="#1e2708"/>
<polygon points="359.2,296.7 362.2,298.3 359.1,296.4 356.1,294.8" fill="#09310f" stroke="#020c04"/>
<polygon points="365.3,300.3 368.3,302.2 365.2,300.1 362.2,298.3" fill="#05210a" stroke="#010803"/>
<polygon points="261.8,286.3 264.9,283.9 261.8,283.3 258.6,285.7" fill="#f3bc33" stroke="#3a2d0c"/>
<polygon points="268.1,284.6 271.2,282.4 268.0,281.7 264.9,283.9" fill="#fe862a" stroke="#3d200a"/>
<polygon points="274.4,283.2 277.5,281.2 274.4,280.5 271.2,282.4" fill="#fc6727" stroke="#3d1909"/>
<polygon points="280.7,282.1 283.8,280.4 280.7,279.6 277.5,281.2" fill="#fa5426" stroke="#3c1409"/>
<polygon points="287.0,281.3 290.2,279.9 287.0,279.0 283.8,280.4" fill="#f74a25" stroke="#3b1209"/>
<polygon points="293.3,280.9 296.5,279.8 293.3,278.7 290.2,279.9" fill="#f64525" stroke="#3b1109"/>
<polygon points="299.7,280.8 302.8,279.9 299.7,278.8 296.5,279.8" fill="#f64425" stroke="#3b1009"/>
<polygon points="306.0,281.1 309.2,280.4 306.0,279.3 302.8,279.9" fill="#f74925" stroke="#3b1109"/>
<polygon points="312.3,281.7 315.5,281.3 312.3,280.0 309.2,280.4" fill="#f95225" stroke="#3c1409"/>
<polygon points="318.7,282.6 321.8,282.5 318.6,281.1 315.5,281.3" fill="#fc6026" stroke="#3d1709"/>
<polygon points="325.0,283.9 328.1,284.0 325.0,282.5 321.8,282.5" fill="#fe7f2a" stroke="#3d1e0a"/>
<polygon points="331.3,285.5 334.4,285.8 331.2,284.3 328.1,284.0" fill="#ffa32f" stroke="#3d270b"/>
<polygon points="337.5,287.4 340.7,288.0 337.5,286.4 334.4,285.8" fill="#f1d82d" stroke="#3a340b"/>
<polygon points="343.8,289.7 346.9,290.6 343.7,288.9 340.7,288.0" fill="#d0d027" stroke="#323209"/>
<polygon points="350.0,292.4 353.1,293.5 349.9,291.7 346.9,290.6" fill="#59921f" stroke="#152307"/>
<polygon points="356.2,295.4 359.2,296.7 356.1,294.8 353.1,293.5" fill="#145117" stroke="#051406"/>
<polygon points="362.3,298.7 365.3,300.3 362.2,298.3 359.2,296.7" fill="#06270c" stroke="#010903"/>
<polygon points="265.0,287.0 268.1,284.6 264.9,283.9 261.8,286.3" fill="#f8b232" stroke="#3c2b0c"/>
<polygon points="277.6,284.0 280.7,282.1 277.5,281.2 274.4,283.2" fill="#fc6627" stroke="#3d1809"/>
<polygon points="290.2,282.3 293.3,280.9 290.2,279.9 287.0,281.3" fill="#f84c25" stroke="#3b1209"/>
<polygon points="296.5,282.0 299.7,280.8 296.5,279.8 293.3,280.9" fill="#f64825" stroke="#3b1109"/>
<polygon points="302.9,282.0 306.0,281.1 302.8,279.9 299.7,280.8" fill="#f74925" stroke="#3b1109"/>
<polygon points="309.2,282.3 312.3,281.7 309.2,280.4 306.0,281.1" fill="#f84e25" stroke="#3c1309"/>
<polygon points="315.5,283.0 318.7,282.6 315.5,281.3 312.3,281.7" fill="#fb5826" stroke="#3c1509"/>
<polygon points="321.8,284.0 325.0,283.9 321.8,282.5 318.7,282.6" fill="#fd6d28" stroke="#3d1a0a"/>
<polygon points="328.1,285.3 331.3,285.5 328.1,284.0 325.0,283.9" fill="#ff8d2b" stroke="#3d220a"/>
<polygon points="334.4,287.0 337.5,287.4 334.4,285.8 331.3,285.5" fill="#ffb132" stroke="#3d2b0c"/>
<polygon points="346.9,291.5 350.0,292.4 346.9,290.6 343.8,289.7" fill="#b7c425" stroke="#2c2f09"/>
<polygon points="359.3,297.3 362.3,298.7 359.2,296.7 356.2,295.4" fill="#104614" stroke="#041105"/>
<polygon points="271.3,285.3 274.4,283.2 271.2,282.4 268.1,284.6" fill="#fe842a" stroke="#3d200a"/>
<polygon points="283.9,283.0 287.0,281.3 283.8,280.4 280.7,282.1" fill="#fa5526" stroke="#3c1409"/>
<polygon points="340.7,289.1 343.8,289.7 340.7,288.0 337.5,287.4" fill="#ebdd2b" stroke="#38350a"/>
<polygon points="353.1,294.2 356.2,295.4 353.1,293.5 350.0,292.4" fill="#3f801d" stroke="#0f1f07"/>
<polygon points="293.4,283.3 296.5,282.0 293.3,280.9 290.2,282.3" fill="#f84f25" stroke="#3c1309"/>
<polygon points="299.7,283.1 302.9,282.0 299.7,280.8 296.5,282.0" fill="#f74c25" stroke="#3b1209"/>
<polygon points="325.0,285.4 328.1,285.3 325.0,283.9 321.8,284.0" fill="#fe7b29" stroke="#3d1e0a"/>
<polygon points="331.3,286.9 334.4,287.0 331.3,285.5 328.1,285.3" fill="#ff9c2e" stroke="#3d250b"/>
<polygon points="268.1,287.7 271.3,285.3 268.1,284.6 265.0,287.0" fill="#fda830" stroke="#3d280c"/>
<polygon points="274.4,286.1 277.6,284.0 274.4,283.2 271.3,285.3" fill="#fe822a" stroke="#3d1f0a"/>
<polygon points="280.7,284.8 283.9,283.0 280.7,282.1 277.6,284.0" fill="#fc6627" stroke="#3d1809"/>
<polygon points="287.0,283.9 290.2,282.3 287.0,281.3 283.9,283.0" fill="#fa5626" stroke="#3c1509"/>
<polygon points="306.0,283.1 309.2,282.3 306.0,281.1 302.9,282.0" fill="#f84e25" stroke="#3b1309"/>
<polygon points="312.4,283.6 315.5,283.0 312.3,281.7 309.2,282.3" fill="#fa5426" stroke="#3c1409"/>
<polygon points="318.7,284.3 321.8,284.0 318.7,282.6 315.5,283.0" fill="#fc6126" stroke="#3d1709"/>
<polygon points="337.6,288.7 340.7,289.1 337.5,287.4 334.4,287.0" fill="#ffc135" stroke="#3d2e0d"/>
<polygon points="343.8,290.8 346.9,291.5 343.8,289.7 340.7,289.1" fill="#e5db2a" stroke="#37350a"/>
<polygon points="350.1,293.3 353.1,294.2 350.0,292.4 346.9,291.5" fill="#98b523" stroke="#242b08"/>
<polygon points="356.2,296.1 359.3,297.3 356.2,295.4 353.1,294.2" fill="#2d6e1b" stroke="#0b1a06"/>
<polygon points="271.3,288.5 274.4,286.1 271.3,285.3 268.1,287.7" fill="#ffa22f" stroke="#3d270b"/>
<polygon points="283.9,285.8 287.0,283.9 283.9,283.0 280.7,284.8" fill="#fd6827" stroke="#3d1909"/>
<polygon points="290.2,284.9 293.4,283.3 290.2,282.3 287.0,283.9" fill="#fb5926" stroke="#3c1509"/>
<polygon points="296.5,284.4 299.7,283.1 296.5,282.0 293.4,283.3" fill="#f95225" stroke="#3c1409"/>
<polygon points="302.9,284.2 306.0,283.1 302.9,282.0 299.7,283.1" fill="#f95025" stroke="#3c1309"/>
<polygon points="321.9,285.7 325.0,285.4 321.8,284.0 318.7,284.3" fill="#fd6e28" stroke="#3d1a0a"/>
<polygon points="328.2,286.9 331.3,286.9 328.1,285.3 325.0,285.4" fill="#fe8a2b" stroke="#3d210a"/>
<polygon points="334.5,288.5 337.6,288.7 334.4,287.0 331.3,286.9" fill="#ffab31" stroke="#3d290c"/>
<polygon points="340.7,290.3 343.8,290.8 340.7,289.1 337.6,288.7" fill="#fad531" stroke="#3c330c"/>
<polygon points="353.2,295.2 356.2,296.1 353.1,294.2 350.1,293.3" fill="#70a121" stroke="#1b2708"/>
<polygon points="277.6,287.0 280.7,284.8 277.6,284.0 274.4,286.1" fill="#fe822a" stroke="#3d1f0a"/>
<polygon points="309.2,284.4 312.4,283.6 309.2,282.3 306.0,283.1" fill="#f95325" stroke="#3c1409"/>
<polygon points="315.5,284.9 318.7,284.3 315.5,283.0 312.4,283.6" fill="#fb5b26" stroke="#3c1609"/>
<polygon points="347.0,292.6 350.1,293.3 346.9,291.5 343.8,290.8" fill="#dfda29" stroke="#35340a"/>
<polygon points="287.1,286.7 290.2,284.9 287.0,283.9 283.9,285.8" fill="#fd6a27" stroke="#3d1a09"/>
<polygon points="337.6,290.1 340.7,290.3 337.6,288.7 334.5,288.5" fill="#ffbc34" stroke="#3d2d0d"/>
<polygon points="274.5,289.3 277.6,287.0 274.4,286.1 271.3,288.5" fill="#ffa12f" stroke="#3d270b"/>
<polygon points="280.8,287.8 283.9,285.8 280.7,284.8 277.6,287.0" fill="#fe832a" stroke="#3d1f0a"/>
<polygon points="293.4,286.0 296.5,284.4 293.4,283.3 290.2,284.9" fill="#fb5c26" stroke="#3c1609"/>
<polygon points="299.7,285.5 302.9,284.2 299.7,283.1 296.5,284.4" fill="#fa5626" stroke="#3c1509"/>
<polygon points="306.1,285.4 309.2,284.4 306.0,283.1 302.9,284.2" fill="#fa5626" stroke="#3c1509"/>
<polygon points="312.4,285.7 315.5,284.9 312.4,283.6 309.2,284.4" fill="#fb5a26" stroke="#3c1609"/>
<polygon points="318.7,286.3 321.9,285.7 318.7,284.3 315.5,284.9" fill="#fc6627" stroke="#3d1809"/>
<polygon points="325.0,287.2 328.2,286.9 325.0,285.4 321.9,285.7" fill="#fe7c29" stroke="#3d1e0a"/>
<polygon points="331.3,288.5 334.5,288.5 331.3,286.9 328.2,286.9" fill="#ff9a2d" stroke="#3d250b"/>
<polygon points="343.9,292.1 347.0,292.6 343.8,290.8 340.7,290.3" fill="#f4e32c" stroke="#3b370b"/>
<polygon points="350.1,294.4 353.2,295.2 350.1,293.3 347.0,292.6" fill="#c7cf27" stroke="#303209"/>
<polygon points="277.6,290.2 280.8,287.8 277.6,287.0 274.5,289.3" fill="#ffa12f" stroke="#3d270b"/>
<polygon points="283.9,288.8 287.1,286.7 283.9,285.8 280.8,287.8" fill="#fe852a" stroke="#3d200a"/>
<polygon points="290.2,287.8 293.4,286.0 290.2,284.9 287.1,286.7" fill="#fd6f28" stroke="#3d1b0a"/>
<polygon points="296.6,287.1 299.7,285.5 296.5,284.4 293.4,286.0" fill="#fc6026" stroke="#3d1709"/>
<polygon points="302.9,286.7 306.1,285.4 302.9,284.2 299.7,285.5" fill="#fb5b26" stroke="#3c1609"/>
<polygon points="309.2,286.7 312.4,285.7 309.2,284.4 306.1,285.4" fill="#fb5c26" stroke="#3c1609"/>
<polygon points="315.6,287.0 318.7,286.3 315.5,284.9 312.4,285.7" fill="#fc6327" stroke="#3d1809"/>
<polygon points="321.9,287.7 325.0,287.2 321.9,285.7 318.7,286.3" fill="#fd7428" stroke="#3d1c0a"/>
<polygon points="328.2,288.7 331.3,288.5 328.2,286.9 325.0,287.2" fill="#ff8c2b" stroke="#3d220a"/>
<polygon points="334.5,290.1 337.6,290.1 334.5,288.5 331.3,288.5" fill="#ffaa30" stroke="#3d290c"/>
<polygon points="340.8,291.8 343.9,292.1 340.7,290.3 337.6,290.1" fill="#ffcc34" stroke="#3d310d"/>
<polygon points="347.0,293.9 350.1,294.4 347.0,292.6 343.9,292.1" fill="#ede22b" stroke="#39360a"/>
<polygon points="280.8,291.1 283.9,288.8 280.8,287.8 277.6,290.2" fill="#ffa22f" stroke="#3d270b"/>
<polygon points="287.1,289.8 290.2,287.8 287.1,286.7 283.9,288.8" fill="#fe882b" stroke="#3d210a"/>
<polygon points="293.4,288.8 296.6,287.1 293.4,286.0 290.2,287.8" fill="#fd7428" stroke="#3d1c0a"/>
<polygon points="312.4,288.0 315.6,287.0 312.4,285.7 309.2,286.7" fill="#fc6627" stroke="#3d1809"/>
<polygon points="331.4,290.3 334.5,290.1 331.3,288.5 328.2,288.7" fill="#ff9c2e" stroke="#3d250b"/>
<polygon points="337.6,291.8 340.8,291.8 337.6,290.1 334.5,290.1" fill="#ffba34" stroke="#3d2d0c"/>
<polygon points="343.9,293.6 347.0,293.9 343.9,292.1 340.8,291.8" fill="#ffdb31" stroke="#3d350c"/>
<polygon points="299.7,288.2 302.9,286.7 299.7,285.5 296.6,287.1" fill="#fd6727" stroke="#3d1909"/>
<polygon points="306.1,288.0 309.2,286.7 306.1,285.4 302.9,286.7" fill="#fc6327" stroke="#3d1809"/>
<polygon points="318.7,288.4 321.9,287.7 318.7,286.3 315.6,287.0" fill="#fd7028" stroke="#3d1b0a"/>
<polygon points="325.0,289.2 328.2,288.7 325.0,287.2 321.9,287.7" fill="#fe832a" stroke="#3d1f0a"/>
<polygon points="284.0,292.1 287.1,289.8 283.9,288.8 280.8,291.1" fill="#ffa530" stroke="#3d280b"/>
<polygon points="290.3,290.9 293.4,288.8 290.2,287.8 287.1,289.8" fill="#ff8d2b" stroke="#3d220a"/>
<polygon points="309.2,289.3 312.4,288.0 309.2,286.7 306.1,288.0" fill="#fd6d28" stroke="#3d1a0a"/>
<polygon points="315.6,289.4 318.7,288.4 315.6,287.0 312.4,288.0" fill="#fd7228" stroke="#3d1b0a"/>
<polygon points="334.5,292.0 337.6,291.8 334.5,290.1 331.4,290.3" fill="#ffac31" stroke="#3d290c"/>
<polygon points="340.8,293.5 343.9,293.6 340.8,291.8 337.6,291.8" fill="#ffcb35" stroke="#3d310d"/>
<polygon points="296.6,290.0 299.7,288.2 296.6,287.1 293.4,288.8" fill="#fe7a29" stroke="#3d1d0a"/>
<polygon points="302.9,289.5 306.1,288.0 302.9,286.7 299.7,288.2" fill="#fd7028" stroke="#3d1b0a"/>
<polygon points="321.9,289.9 325.0,289.2 321.9,287.7 318.7,288.4" fill="#fe7f2a" stroke="#3d1e0a"/>
<polygon points="328.2,290.8 331.4,290.3 328.2,288.7 325.0,289.2" fill="#ff932c" stroke="#3d230b"/>
<polygon points="287.1,293.1 290.3,290.9 287.1,289.8 284.0,292.1" fill="#ffa830" stroke="#3d280c"/>
<polygon points="293.4,292.0 296.6,290.0 293.4,288.8 290.3,290.9" fill="#ff932c" stroke="#3d230b"/>
<polygon points="299.8,291.2 302.9,289.5 299.7,288.2 296.6,290.0" fill="#fe822a" stroke="#3d1f0a"/>
<polygon points="306.1,290.7 309.2,289.3 306.1,288.0 302.9,289.5" fill="#fe7a29" stroke="#3d1d0a"/>
<polygon points="312.4,290.6 315.6,289.4 312.4,288.0 309.2,289.3" fill="#fd7929" stroke="#3d1d0a"/>
<polygon points="318.7,290.9 321.9,289.9 318.7,288.4 315.6,289.4" fill="#fe7f2a" stroke="#3d1f0a"/>
<polygon points="325.1,291.5 328.2,290.8 325.0,289.2 321.9,289.9" fill="#ff8e2b" stroke="#3d220a"/>
<polygon points="331.4,292.4 334.5,292.0 331.4,290.3 328.2,290.8" fill="#ffa32f" stroke="#3d270b"/>
<polygon points="337.7,293.7 340.8,293.5 337.6,291.8 334.5,292.0" fill="#ffbd35" stroke="#3d2d0d"/>
<polygon points="302.9,292.4 306.1,290.7 302.9,289.5 299.8,291.2" fill="#ff8b2b" stroke="#3d210a"/>
<polygon points="321.9,292.4 325.1,291.5 321.9,289.9 318.7,290.9" fill="#ff8e2b" stroke="#3d220a"/>
<polygon points="290.3,294.2 293.4,292.0 290.3,290.9 287.1,293.1" fill="#ffad31" stroke="#3d290c"/>
<polygon points="296.6,293.2 299.8,291.2 296.6,290.0 293.4,292.0" fill="#ff992d" stroke="#3d250b"/>
<polygon points="309.3,292.1 312.4,290.6 309.2,289.3 306.1,290.7" fill="#fe842a" stroke="#3d200a"/>
<polygon points="315.6,292.1 318.7,290.9 315.6,289.4 312.4,290.6" fill="#fe852a" stroke="#3d200a"/>
<polygon points="328.2,293.1 331.4,292.4 328.2,290.8 325.1,291.5" fill="#ff9e2e" stroke="#3d260b"/>
<polygon points="334.5,294.1 337.7,293.7 334.5,292.0 331.4,292.4" fill="#ffb333" stroke="#3d2b0c"/>
<polygon points="299.8,294.4 302.9,292.4 299.8,291.2 296.6,293.2" fill="#ffa02f" stroke="#3d270b"/>
<polygon points="325.1,294.0 328.2,293.1 325.1,291.5 321.9,292.4" fill="#ff9d2e" stroke="#3d260b"/>
<polygon points="293.5,295.4 296.6,293.2 293.4,292.0 290.3,294.2" fill="#ffb232" stroke="#3d2b0c"/>
<polygon points="306.1,293.8 309.3,292.1 306.1,290.7 302.9,292.4" fill="#ff952c" stroke="#3d240b"/>
<polygon points="312.4,293.5 315.6,292.1 312.4,290.6 309.3,292.1" fill="#ff912c" stroke="#3d230a"/>
<polygon points="318.8,293.5 321.9,292.4 318.7,290.9 315.6,292.1" fill="#ff942c" stroke="#3d230b"/>
<polygon points="331.4,294.7 334.5,294.1 331.4,292.4 328.2,293.1" fill="#ffae31" stroke="#3d2a0c"/>
<polygon points="296.6,296.6 299.8,294.4 296.6,293.2 293.5,295.4" fill="#ffb934" stroke="#3d2c0c"/>
<polygon points="303.0,295.7 306.1,293.8 302.9,292.4 299.8,294.4" fill="#ffa930" stroke="#3d290c"/>
<polygon points="321.9,295.1 325.1,294.0 321.9,292.4 318.8,293.5" fill="#ffa12f" stroke="#3d270b"/>
<polygon points="328.2,295.6 331.4,294.7 328.2,293.1 325.1,294.0" fill="#ffad31" stroke="#3d290c"/>
<polygon points="309.3,295.1 312.4,293.5 309.3,292.1 306.1,293.8" fill="#ff9f2e" stroke="#3d260b"/>
<polygon points="315.6,294.9 318.8,293.5 315.6,292.1 312.4,293.5" fill="#ff9d2e" stroke="#3d260b"/>
<polygon points="299.8,297.9 303.0,295.7 299.8,294.4 296.6,296.6" fill="#ffc135" stroke="#3d2e0d"/>
<polygon points="306.1,297.0 309.3,295.1 306.1,293.8 303.0,295.7" fill="#ffb232" stroke="#3d2b0c"/>
<polygon points="312.5,296.6 315.6,294.9 312.4,293.5 309.3,295.1" fill="#ffab31" stroke="#3d290c"/>
<polygon points="318.8,296.5 321.9,295.1 318.8,293.5 315.6,294.9" fill="#ffaa31" stroke="#3d290c"/>
<polygon points="325.1,296.7 328.2,295.6 325.1,294.0 321.9,295.1" fill="#ffb032" stroke="#3d2a0c"/>
<polygon points="303.0,299.2 306.1,297.0 303.0,295.7 299.8,297.9" fill="#ffc935" stroke="#3d300d"/>
<polygon points="309.3,298.4 312.5,296.6 309.3,295.1 306.1,297.0" fill="#ffbd35" stroke="#3d2d0d"/>
<polygon points="315.6,298.1 318.8,296.5 315.6,294.9 312.5,296.6" fill="#ffb733" stroke="#3d2c0c"/>
<polygon points="321.9,298.0 325.1,296.7 321.9,295.1 318.8,296.5" fill="#ffb834" stroke="#3d2c0c"/>
<polygon points="306.2,300.6 309.3,298.4 306.1,297.0 303.0,299.2" fill="#ffd133" stroke="#3d320c"/>
<polygon points="312.5,299.9 315.6,298.1 312.5,296.6 309.3,298.4" fill="#ffc835" stroke="#3d300d"/>
<polygon points="318.8,299.6 321.9,298.0 318.8,296.5 315.6,298.1" fill="#ffc436" stroke="#3d2f0d"/>
<polygon points="309.3,302.0 312.5,299.9 309.3,298.4 306.2,300.6" fill="#ffdb31" stroke="#3d340c"/>
<polygon points="315.6,301.5 318.8,299.6 315.6,298.1 312.5,299.9" fill="#ffd333" stroke="#3d330c"/>
<polygon points="312.5,303.5 315.6,301.5 312.5,299.9 309.3,302.0" fill="#ffe52f" stroke="#3d370b"/>
</g>
<path d="M312.3,270.6 V273.8" stroke="#8c1010" stroke-width="0.9"/>
<circle cx="312.3" cy="270.6" r="1.70" fill="#9a1212"/>
<text x="243.4" y="351.0" font-size="5.2" text-anchor="end" textLength="6.0" lengthAdjust="spacingAndGlyphs">40</text>
<text x="259.6" y="358.7" font-size="5.2" text-anchor="end" textLength="10.6" lengthAdjust="spacingAndGlyphs">37.5</text>
<text x="275.9" y="366.5" font-size="5.2" text-anchor="end" textLength="6.0" lengthAdjust="spacingAndGlyphs">35</text>
<text x="292.1" y="374.2" font-size="5.2" text-anchor="end" textLength="10.6" lengthAdjust="spacingAndGlyphs">32.5</text>
<text x="308.4" y="381.9" font-size="5.2" text-anchor="end" textLength="6.0" lengthAdjust="spacingAndGlyphs">30</text>
<text x="314.8" y="381.9" font-size="5.2" text-anchor="start" textLength="6.0" lengthAdjust="spacingAndGlyphs">10</text>
<text x="331.1" y="374.4" font-size="5.2" text-anchor="start" textLength="6.0" lengthAdjust="spacingAndGlyphs">15</text>
<text x="347.3" y="366.9" font-size="5.2" text-anchor="start" textLength="6.0" lengthAdjust="spacingAndGlyphs">20</text>
<text x="363.6" y="359.3" font-size="5.2" text-anchor="start" textLength="6.0" lengthAdjust="spacingAndGlyphs">25</text>
<text x="379.8" y="351.8" font-size="5.2" text-anchor="start" textLength="6.0" lengthAdjust="spacingAndGlyphs">30</text>
<text x="252.8" y="373.9" font-size="5.2" text-anchor="middle" textLength="52" lengthAdjust="spacingAndGlyphs">C: Temperature (ºC)</text>
<text x="366.8" y="373.9" font-size="5.2" text-anchor="middle" textLength="44.4" lengthAdjust="spacingAndGlyphs">A: Rice bran (g/l)</text>
<text transform="translate(220.0,305.9) rotate(-90)" font-size="4.9" text-anchor="middle" textLength="30" lengthAdjust="spacingAndGlyphs">R1 PHB (g/l)</text>
<g stroke="#2c2c2c" stroke-width="0.7" fill="none">
<path d="M153.0,478.3 L221.2,458.3 L288.0,480.3 M152.8,469.0 L221.2,449.8 L288.5,470.7 M152.5,459.8 L221.1,441.3 L289.1,461.2 M152.3,450.5 L221.1,432.8 L289.6,451.6 M152.0,441.2 L221.1,424.2 L290.1,442.1 M151.8,431.9 L221.1,415.7 L290.6,432.5 M151.5,422.7 L221.0,407.2 L291.2,423.0 M151.3,413.4 L221.0,398.7 L291.7,413.4 M153.0,478.3 L151.3,413.4 M288.0,480.3 L291.7,413.4 M170.1,473.3 L168.7,409.7 M271.3,474.8 L274.0,409.7 M187.1,468.3 L186.2,406.1 M254.6,469.3 L256.4,406.1 M204.1,463.3 L203.6,402.4 M237.9,463.8 L238.7,402.4 M221.2,458.3 L221.0,398.7"/>
<path d="M153.0,478.3 L154.7,499.7 M221.2,458.3 L221.4,476.0 M288.0,480.3 L287.5,498.7" stroke="#555"/>
</g>
<polygon points="222.5,529.1 287.5,498.7 221.4,476.0 154.7,499.7" fill="#585858"/>
<path d="M283.0,500.5 L283.1,500.1 L283.1,499.8 L283.2,499.4 L283.2,499.2 L283.2,498.7 L283.2,498.6 L283.3,498.0 L283.3,497.9 L283.3,497.3 L283.3,497.2 L283.4,497.3 L284.2,497.6 L285.0,497.8 L285.8,498.1 L286.7,498.4 L287.5,498.7 L286.7,499.1 L285.9,499.5 L285.1,499.8 L284.2,500.2 L283.4,500.6 L282.9,500.8 L283.0,500.5 Z" fill="#3fae58" stroke="none"/>
<path d="M283.3,497.2 L283.3,497.3 L283.3,497.9 L283.3,498.0 L283.2,498.6 L283.2,498.7 L283.2,499.2 L283.2,499.4 L283.1,499.8 L283.1,500.1 L283.0,500.5 L282.9,500.8" stroke="#46b04a" fill="none" stroke-width="1.1"/>
<path d="M278.4,495.6 L278.5,496.2 L278.5,496.8 L278.6,497.5 L278.6,498.2 L278.5,498.8 L278.5,499.5 L278.4,500.2 L278.3,500.8 L278.1,501.4 L278.0,502.0 L277.8,502.6 L277.5,503.4" stroke="#62b440" fill="none" stroke-width="1.1"/>
<path d="M227.2,526.9 L226.2,527.0 L224.9,527.2 L224.8,527.2 L223.6,527.4 L222.6,527.5 L222.3,527.6 L221.0,527.7 L220.5,527.8 L219.6,527.8" stroke="#a6c83e" fill="none" stroke-width="1.1"/>
<path d="M268.7,492.3 L269.1,493.0 L269.4,493.7 L269.6,494.3 L269.8,494.8 L269.9,495.4 L270.1,496.0 L270.2,496.6 L270.2,497.3 L270.3,498.0 L270.3,498.6 L270.2,499.3 L270.1,500.0 L270.0,500.7 L269.8,501.5 L269.6,502.3 L269.4,502.9 L269.2,503.5 L268.9,504.1 L268.6,504.8 L268.1,505.7 L267.7,506.3 L267.3,506.9 L266.7,507.7 L266.1,508.5" stroke="#a6c83e" fill="none" stroke-width="1.1"/>
<path d="M217.5,477.4 L218.9,477.5 L221.1,477.7 L222.8,477.8 L224.1,478.0 L226.1,478.2 L227.6,478.4 L228.9,478.6" stroke="#e2d23e" fill="none" stroke-width="1.1"/>
<path d="M255.5,487.7 L256.4,488.4 L256.9,488.8 L257.9,489.7 L258.3,490.2 L258.8,490.7 L259.5,491.6 L259.8,492.0 L260.2,492.5 L260.6,493.3 L261.0,494.0 L261.3,494.7 L261.5,495.2 L261.6,495.8 L261.8,496.4 L261.9,497.0 L262.0,497.6 L262.0,498.3 L262.0,499.0 L261.9,499.7 L261.8,500.4 L261.7,501.1 L261.5,501.9 L261.2,502.6 L261.0,503.2 L260.7,503.8 L260.4,504.4 L259.9,505.3 L259.4,506.0 L259.1,506.5 L258.4,507.4 L257.8,508.1 L257.3,508.6 L256.4,509.6 L255.8,510.1 L254.7,511.0 L254.2,511.5 L253.0,512.4 L251.8,513.2 L251.0,513.7 L249.7,514.6 L248.2,515.4 L246.7,516.2 L245.1,517.0 L243.5,517.7 L241.7,518.5 L239.9,519.1 L238.1,519.8 L236.8,520.2 L235.1,520.7 L233.0,521.3 L232.0,521.5 L229.7,522.1 L228.6,522.3 L226.6,522.7 L225.0,522.9 L223.8,523.1 L221.8,523.4 L219.9,523.6 L218.5,523.8 L217.1,523.9 L215.6,524.0 L213.7,524.1 L211.9,524.1" stroke="#e2d23e" fill="none" stroke-width="1.1"/>
<path d="M168.7,505.8 L168.0,505.0 L167.6,504.5 L167.1,503.7 L166.6,502.8 L166.3,502.2 L166.0,501.7 L165.8,501.1 L165.6,500.4 L165.5,499.7 L165.4,499.0 L165.3,498.4 L165.4,497.7 L165.4,497.1 L165.6,496.5 L165.8,495.8" stroke="#efb038" fill="none" stroke-width="1.1"/>
<path d="M206.3,481.4 L208.0,481.3 L209.7,481.4 L211.3,481.4 L212.8,481.4 L214.2,481.5 L215.7,481.6 L217.5,481.7 L219.7,481.9 L220.9,482.1 L222.3,482.2 L224.5,482.5 L225.6,482.7 L227.8,483.1 L228.8,483.3 L230.9,483.8 L232.8,484.2 L234.5,484.7 L235.5,485.0 L237.2,485.6 L238.8,486.2 L239.6,486.5 L241.1,487.2 L242.4,487.9 L243.8,488.6 L244.4,489.0 L245.6,489.7 L246.1,490.1 L247.2,491.0 L247.6,491.4 L248.3,492.1 L248.9,492.8 L249.3,493.3 L249.7,493.9 L250.2,494.7 L250.5,495.4 L250.8,495.9 L251.0,496.5 L251.1,497.1 L251.2,497.7 L251.3,498.3 L251.3,499.0 L251.3,499.7 L251.2,500.4 L251.0,501.1 L250.7,501.9 L250.5,502.6 L250.2,503.2 L249.9,503.8 L249.4,504.5 L248.8,505.4 L248.4,505.9 L247.7,506.7 L247.0,507.4 L246.4,507.9 L245.4,508.8 L244.5,509.5 L243.6,510.1 L242.3,511.0 L240.9,511.8 L240.1,512.2 L238.6,513.0 L237.0,513.7 L235.3,514.4 L234.0,514.9 L232.5,515.4 L230.6,516.0 L228.9,516.5 L227.5,516.9 L225.4,517.3 L224.1,517.6 L222.6,517.9 L220.5,518.2 L219.2,518.4 L217.9,518.5 L215.8,518.7 L213.9,518.8 L212.1,518.9 L210.6,518.9 L208.9,518.9 L207.2,518.9 L205.4,518.9 L203.9,518.8 L202.5,518.7 L201.1,518.5 L199.4,518.4 L197.1,518.1" stroke="#efb038" fill="none" stroke-width="1.1"/>
<path d="M195.0,509.6 L193.1,509.0 L191.3,508.4 L189.6,507.7 L188.0,506.9 L186.6,506.1 L186.0,505.6 L184.8,504.7 L184.2,504.3 L183.3,503.3 L182.8,502.8 L182.5,502.2 L182.0,501.4 L181.7,500.6 L181.5,499.9 L181.4,499.3 L181.4,498.6 L181.4,497.9 L181.6,497.3 L181.8,496.8 L182.1,496.2 L182.5,495.6 L183.2,494.7 L183.6,494.3 L184.4,493.6 L185.2,493.0 L186.4,492.2 L187.1,491.9 L188.6,491.2 L190.2,490.5 L191.9,490.0 L193.8,489.4 L194.8,489.2 L196.9,488.8 L198.3,488.5 L200.4,488.2 L201.6,488.1 L203.2,488.0 L205.2,487.9 L207.1,487.8 L208.8,487.8 L210.3,487.8 L211.8,487.9 L213.3,488.0 L214.9,488.1 L217.1,488.4 L218.3,488.6 L220.5,489.0 L221.6,489.2 L223.5,489.7 L225.4,490.2 L227.1,490.8 L228.6,491.5 L230.0,492.2 L231.2,492.9 L231.9,493.4 L232.8,494.1 L233.4,494.7 L233.9,495.2 L234.5,496.0 L234.9,496.7 L235.1,497.3 L235.3,497.8 L235.4,498.4 L235.5,499.1 L235.5,499.8 L235.3,500.5 L235.1,501.3 L234.7,502.0 L234.4,502.5 L234.0,503.1 L233.2,504.1 L232.7,504.6 L231.6,505.4 L231.0,505.9 L229.7,506.7 L228.2,507.5 L226.7,508.2 L224.9,508.9 L223.1,509.5 L221.0,510.1 L220.0,510.3 L217.7,510.8 L216.5,511.0 L215.1,511.1 L213.0,511.3 L211.0,511.4 L209.4,511.5 L207.7,511.5 L206.1,511.4 L204.6,511.3 L203.3,511.2 L201.7,511.0 L199.4,510.6 L198.3,510.4 L196.1,509.9 L195.0,509.6 Z" stroke="#ea8a34" fill="none" stroke-width="1.1"/>
<path d="M153.0,478.3 h-1.6" stroke="#222" stroke-width="0.6"/>
<text x="149.4" y="480.1" font-size="5.6" text-anchor="middle" >0</text>
<path d="M152.8,469.0 h-1.6" stroke="#222" stroke-width="0.6"/>
<text x="149.2" y="470.8" font-size="5.6" text-anchor="middle" >1</text>
<path d="M152.5,459.8 h-1.6" stroke="#222" stroke-width="0.6"/>
<text x="148.9" y="461.6" font-size="5.6" text-anchor="middle" >2</text>
<path d="M152.3,450.5 h-1.6" stroke="#222" stroke-width="0.6"/>
<text x="148.7" y="452.3" font-size="5.6" text-anchor="middle" >3</text>
<path d="M152.0,441.2 h-1.6" stroke="#222" stroke-width="0.6"/>
<text x="148.4" y="443.0" font-size="5.6" text-anchor="middle" >4</text>
<path d="M151.8,431.9 h-1.6" stroke="#222" stroke-width="0.6"/>
<text x="148.2" y="433.7" font-size="5.6" text-anchor="middle" >5</text>
<path d="M151.5,422.7 h-1.6" stroke="#222" stroke-width="0.6"/>
<text x="147.9" y="424.5" font-size="5.6" text-anchor="middle" >6</text>
<path d="M151.3,413.4 h-1.6" stroke="#222" stroke-width="0.6"/>
<text x="147.7" y="415.2" font-size="5.6" text-anchor="middle" >7</text>
<g stroke-opacity="0.7" stroke-width="0.32" stroke-linejoin="round">
<polygon points="221.1,417.7 223.7,417.9 221.1,417.6 218.4,417.4" fill="#ffc935" stroke="#3d300d"/>
<polygon points="218.4,417.6 221.1,417.7 218.4,417.4 215.7,417.3" fill="#ffb934" stroke="#3d2d0c"/>
<polygon points="223.7,418.0 226.4,418.2 223.7,417.9 221.1,417.7" fill="#ffc336" stroke="#3d2f0d"/>
<polygon points="215.7,417.5 218.4,417.6 215.7,417.3 213.1,417.3" fill="#ffaa31" stroke="#3d290c"/>
<polygon points="221.1,417.9 223.7,418.0 221.1,417.7 218.4,417.6" fill="#ffb132" stroke="#3d2b0c"/>
<polygon points="226.4,418.4 229.1,418.6 226.4,418.2 223.7,418.0" fill="#ffbc34" stroke="#3d2d0d"/>
<polygon points="213.1,417.5 215.7,417.5 213.1,417.3 210.4,417.3" fill="#ff9d2e" stroke="#3d260b"/>
<polygon points="218.4,417.8 221.1,417.9 218.4,417.6 215.7,417.5" fill="#ffa22f" stroke="#3d270b"/>
<polygon points="223.8,418.2 226.4,418.4 223.7,418.0 221.1,417.9" fill="#ffab31" stroke="#3d290c"/>
<polygon points="229.1,418.8 231.8,419.1 229.1,418.6 226.4,418.4" fill="#ffb833" stroke="#3d2c0c"/>
<polygon points="215.7,417.8 218.4,417.8 215.7,417.5 213.1,417.5" fill="#ff942c" stroke="#3d240b"/>
<polygon points="221.1,418.2 223.8,418.2 221.1,417.9 218.4,417.8" fill="#ff9b2d" stroke="#3d250b"/>
<polygon points="226.4,418.7 229.1,418.8 226.4,418.4 223.8,418.2" fill="#ffa630" stroke="#3d280b"/>
<polygon points="210.4,417.7 213.1,417.5 210.4,417.3 207.7,417.4" fill="#ff912c" stroke="#3d230a"/>
<polygon points="231.8,419.4 234.4,419.6 231.8,419.1 229.1,418.8" fill="#ffb433" stroke="#3d2b0c"/>
<polygon points="207.7,417.9 210.4,417.7 207.7,417.4 205.1,417.6" fill="#fe862a" stroke="#3d200a"/>
<polygon points="213.1,417.9 215.7,417.8 213.1,417.5 210.4,417.7" fill="#fe872b" stroke="#3d200a"/>
<polygon points="218.4,418.2 221.1,418.2 218.4,417.8 215.7,417.8" fill="#ff8c2b" stroke="#3d220a"/>
<polygon points="223.8,418.6 226.4,418.7 223.8,418.2 221.1,418.2" fill="#ff962c" stroke="#3d240b"/>
<polygon points="229.1,419.2 231.8,419.4 229.1,418.8 226.4,418.7" fill="#ffa22f" stroke="#3d270b"/>
<polygon points="234.5,420.0 237.1,420.2 234.4,419.6 231.8,419.4" fill="#ffb232" stroke="#3d2b0c"/>
<polygon points="205.1,418.1 207.7,417.9 205.1,417.6 202.4,417.9" fill="#fe7d29" stroke="#3d1e0a"/>
<polygon points="210.4,418.1 213.1,417.9 210.4,417.7 207.7,417.9" fill="#fe7c29" stroke="#3d1e0a"/>
<polygon points="215.8,418.3 218.4,418.2 215.7,417.8 213.1,417.9" fill="#fe7f2a" stroke="#3d1e0a"/>
<polygon points="221.1,418.6 223.8,418.6 221.1,418.2 218.4,418.2" fill="#fe862a" stroke="#3d200a"/>
<polygon points="226.5,419.1 229.1,419.2 226.4,418.7 223.8,418.6" fill="#ff912c" stroke="#3d230a"/>
<polygon points="231.8,419.8 234.5,420.0 231.8,419.4 229.1,419.2" fill="#ffa02e" stroke="#3d260b"/>
<polygon points="237.1,420.6 239.8,420.9 237.1,420.2 234.5,420.0" fill="#ffb232" stroke="#3d2b0c"/>
<polygon points="207.7,418.4 210.4,418.1 207.7,417.9 205.1,418.1" fill="#fd7228" stroke="#3d1b0a"/>
<polygon points="213.1,418.4 215.8,418.3 213.1,417.9 210.4,418.1" fill="#fd7328" stroke="#3d1c0a"/>
<polygon points="218.4,418.7 221.1,418.6 218.4,418.2 215.8,418.3" fill="#fd7729" stroke="#3d1d0a"/>
<polygon points="223.8,419.1 226.5,419.1 223.8,418.6 221.1,418.6" fill="#fe812a" stroke="#3d1f0a"/>
<polygon points="229.1,419.7 231.8,419.8 229.1,419.2 226.5,419.1" fill="#ff8e2b" stroke="#3d220a"/>
<polygon points="234.5,420.4 237.1,420.6 234.5,420.0 231.8,419.8" fill="#ff9f2e" stroke="#3d260b"/>
<polygon points="202.4,418.5 205.1,418.1 202.4,417.9 199.7,418.3" fill="#fd7629" stroke="#3d1c0a"/>
<polygon points="239.8,421.3 242.5,421.6 239.8,420.9 237.1,420.6" fill="#ffb332" stroke="#3d2b0c"/>
<polygon points="199.7,418.9 202.4,418.5 199.7,418.3 197.0,418.7" fill="#fd7128" stroke="#3d1b0a"/>
<polygon points="205.1,418.7 207.7,418.4 205.1,418.1 202.4,418.5" fill="#fd6b27" stroke="#3d1a09"/>
<polygon points="210.4,418.7 213.1,418.4 210.4,418.1 207.7,418.4" fill="#fd6927" stroke="#3d1909"/>
<polygon points="215.8,418.8 218.4,418.7 215.8,418.3 213.1,418.4" fill="#fd6b27" stroke="#3d1a09"/>
<polygon points="221.1,419.2 223.8,419.1 221.1,418.6 218.4,418.7" fill="#fd7228" stroke="#3d1b0a"/>
<polygon points="226.5,419.6 229.1,419.7 226.5,419.1 223.8,419.1" fill="#fe7d29" stroke="#3d1e0a"/>
<polygon points="231.8,420.3 234.5,420.4 231.8,419.8 229.1,419.7" fill="#ff8d2b" stroke="#3d220a"/>
<polygon points="237.2,421.1 239.8,421.3 237.1,420.6 234.5,420.4" fill="#ffa02e" stroke="#3d260b"/>
<polygon points="242.5,422.1 245.1,422.4 242.5,421.6 239.8,421.3" fill="#ffb533" stroke="#3d2b0c"/>
<polygon points="197.1,419.4 199.7,418.9 197.0,418.7 194.4,419.3" fill="#fd6e28" stroke="#3d1a0a"/>
<polygon points="202.4,419.1 205.1,418.7 202.4,418.5 199.7,418.9" fill="#fc6527" stroke="#3d1809"/>
<polygon points="207.8,419.0 210.4,418.7 207.7,418.4 205.1,418.7" fill="#fc6126" stroke="#3d1709"/>
<polygon points="213.1,419.1 215.8,418.8 213.1,418.4 210.4,418.7" fill="#fc6126" stroke="#3d1709"/>
<polygon points="218.5,419.3 221.1,419.2 218.4,418.7 215.8,418.8" fill="#fc6527" stroke="#3d1809"/>
<polygon points="223.8,419.7 226.5,419.6 223.8,419.1 221.1,419.2" fill="#fd6e28" stroke="#3d1a0a"/>
<polygon points="229.2,420.3 231.8,420.3 229.1,419.7 226.5,419.6" fill="#fe7b29" stroke="#3d1e0a"/>
<polygon points="234.5,421.0 237.2,421.1 234.5,420.4 231.8,420.3" fill="#ff8d2b" stroke="#3d220a"/>
<polygon points="239.8,421.9 242.5,422.1 239.8,421.3 237.2,421.1" fill="#ffa12f" stroke="#3d270b"/>
<polygon points="245.2,423.0 247.8,423.3 245.1,422.4 242.5,422.1" fill="#ffb934" stroke="#3d2c0c"/>
<polygon points="194.4,420.0 197.1,419.4 194.4,419.3 191.7,419.9" fill="#fd6c28" stroke="#3d1a0a"/>
<polygon points="199.7,419.6 202.4,419.1 199.7,418.9 197.1,419.4" fill="#fc6126" stroke="#3d1709"/>
<polygon points="205.1,419.4 207.8,419.0 205.1,418.7 202.4,419.1" fill="#fb5c26" stroke="#3c1609"/>
<polygon points="210.4,419.4 213.1,419.1 210.4,418.7 207.8,419.0" fill="#fb5b26" stroke="#3c1609"/>
<polygon points="215.8,419.5 218.5,419.3 215.8,418.8 213.1,419.1" fill="#fb5c26" stroke="#3c1609"/>
<polygon points="221.2,419.8 223.8,419.7 221.1,419.2 218.5,419.3" fill="#fc6126" stroke="#3d1709"/>
<polygon points="226.5,420.3 229.2,420.3 226.5,419.6 223.8,419.7" fill="#fd6c28" stroke="#3d1a09"/>
<polygon points="231.8,421.0 234.5,421.0 231.8,420.3 229.2,420.3" fill="#fe7b29" stroke="#3d1e0a"/>
<polygon points="237.2,421.8 239.8,421.9 237.2,421.1 234.5,421.0" fill="#ff8f2b" stroke="#3d220a"/>
<polygon points="242.5,422.8 245.2,423.0 242.5,422.1 239.8,421.9" fill="#ffa530" stroke="#3d280b"/>
<polygon points="247.8,423.9 250.5,424.3 247.8,423.3 245.2,423.0" fill="#ffbe35" stroke="#3d2e0d"/>
<polygon points="191.7,420.7 194.4,420.0 191.7,419.9 189.0,420.6" fill="#fd6d28" stroke="#3d1a0a"/>
<polygon points="197.1,420.2 199.7,419.6 197.1,419.4 194.4,420.0" fill="#fc6026" stroke="#3d1709"/>
<polygon points="202.4,419.9 205.1,419.4 202.4,419.1 199.7,419.6" fill="#fb5926" stroke="#3c1509"/>
<polygon points="207.8,419.8 210.4,419.4 207.8,419.0 205.1,419.4" fill="#fa5726" stroke="#3c1509"/>
<polygon points="213.1,419.8 215.8,419.5 213.1,419.1 210.4,419.4" fill="#fa5626" stroke="#3c1509"/>
<polygon points="218.5,420.1 221.2,419.8 218.5,419.3 215.8,419.5" fill="#fb5926" stroke="#3c1509"/>
<polygon points="223.8,420.4 226.5,420.3 223.8,419.7 221.2,419.8" fill="#fc5e26" stroke="#3c1709"/>
<polygon points="229.2,421.0 231.8,421.0 229.2,420.3 226.5,420.3" fill="#fd6b27" stroke="#3d1a09"/>
<polygon points="234.5,421.7 237.2,421.8 234.5,421.0 231.8,421.0" fill="#fe7d29" stroke="#3d1e0a"/>
<polygon points="239.9,422.6 242.5,422.8 239.8,421.9 237.2,421.8" fill="#ff922c" stroke="#3d230b"/>
<polygon points="245.2,423.7 247.8,423.9 245.2,423.0 242.5,422.8" fill="#ffaa31" stroke="#3d290c"/>
<polygon points="250.5,425.0 253.1,425.3 250.5,424.3 247.8,423.9" fill="#ffc536" stroke="#3d2f0d"/>
<polygon points="189.1,421.5 191.7,420.7 189.0,420.6 186.4,421.3" fill="#fd7028" stroke="#3d1b0a"/>
<polygon points="194.4,420.9 197.1,420.2 194.4,420.0 191.7,420.7" fill="#fc6026" stroke="#3d1709"/>
<polygon points="199.8,420.5 202.4,419.9 199.7,419.6 197.1,420.2" fill="#fb5826" stroke="#3c1509"/>
<polygon points="205.1,420.3 207.8,419.8 205.1,419.4 202.4,419.9" fill="#f95425" stroke="#3c1409"/>
<polygon points="210.5,420.2 213.1,419.8 210.4,419.4 207.8,419.8" fill="#f95225" stroke="#3c1409"/>
<polygon points="215.8,420.4 218.5,420.1 215.8,419.5 213.1,419.8" fill="#f95325" stroke="#3c1409"/>
<polygon points="221.2,420.6 223.8,420.4 221.2,419.8 218.5,420.1" fill="#fa5726" stroke="#3c1509"/>
<polygon points="226.5,421.1 229.2,421.0 226.5,420.3 223.8,420.4" fill="#fc5e26" stroke="#3c1609"/>
<polygon points="231.9,421.7 234.5,421.7 231.8,421.0 229.2,421.0" fill="#fd6c28" stroke="#3d1a0a"/>
<polygon points="237.2,422.6 239.9,422.6 237.2,421.8 234.5,421.7" fill="#fe802a" stroke="#3d1f0a"/>
<polygon points="242.5,423.5 245.2,423.7 242.5,422.8 239.9,422.6" fill="#ff972d" stroke="#3d240b"/>
<polygon points="247.9,424.7 250.5,425.0 247.8,423.9 245.2,423.7" fill="#ffb032" stroke="#3d2a0c"/>
<polygon points="253.2,426.0 255.8,426.4 253.1,425.3 250.5,425.0" fill="#ffcb35" stroke="#3d310d"/>
<polygon points="197.1,421.2 199.8,420.5 197.1,420.2 194.4,420.9" fill="#fa5826" stroke="#3c1509"/>
<polygon points="202.4,420.9 205.1,420.3 202.4,419.9 199.8,420.5" fill="#f95225" stroke="#3c1409"/>
<polygon points="239.9,423.5 242.5,423.5 239.9,422.6 237.2,422.6" fill="#fe842a" stroke="#3d200a"/>
<polygon points="245.2,424.5 247.9,424.7 245.2,423.7 242.5,423.5" fill="#ff9d2e" stroke="#3d260b"/>
<polygon points="186.4,422.3 189.1,421.5 186.4,421.3 183.7,422.2" fill="#fd7428" stroke="#3d1c0a"/>
<polygon points="191.7,421.7 194.4,420.9 191.7,420.7 189.1,421.5" fill="#fc6226" stroke="#3d1809"/>
<polygon points="207.8,420.7 210.5,420.2 207.8,419.8 205.1,420.3" fill="#f84f25" stroke="#3c1309"/>
<polygon points="213.1,420.7 215.8,420.4 213.1,419.8 210.5,420.2" fill="#f84f25" stroke="#3c1309"/>
<polygon points="218.5,420.9 221.2,420.6 218.5,420.1 215.8,420.4" fill="#f95125" stroke="#3c1309"/>
<polygon points="223.9,421.3 226.5,421.1 223.8,420.4 221.2,420.6" fill="#fa5626" stroke="#3c1509"/>
<polygon points="229.2,421.9 231.9,421.7 229.2,421.0 226.5,421.1" fill="#fc5e26" stroke="#3c1709"/>
<polygon points="234.6,422.6 237.2,422.6 234.5,421.7 231.9,421.7" fill="#fd6f28" stroke="#3d1b0a"/>
<polygon points="250.5,425.8 253.2,426.0 250.5,425.0 247.9,424.7" fill="#ffb833" stroke="#3d2c0c"/>
<polygon points="255.8,427.2 258.4,427.6 255.8,426.4 253.2,426.0" fill="#ffd333" stroke="#3d330c"/>
<polygon points="199.8,421.5 202.4,420.9 199.8,420.5 197.1,421.2" fill="#f95225" stroke="#3c1409"/>
<polygon points="242.6,424.4 245.2,424.5 242.5,423.5 239.9,423.5" fill="#fe8a2b" stroke="#3d210a"/>
<polygon points="183.7,423.3 186.4,422.3 183.7,422.2 181.1,423.2" fill="#fe7b29" stroke="#3d1d0a"/>
<polygon points="189.1,422.5 191.7,421.7 189.1,421.5 186.4,422.3" fill="#fc6627" stroke="#3d1909"/>
<polygon points="194.4,421.9 197.1,421.2 194.4,420.9 191.7,421.7" fill="#fb5926" stroke="#3c1509"/>
<polygon points="205.1,421.3 207.8,420.7 205.1,420.3 202.4,420.9" fill="#f84d25" stroke="#3b1309"/>
<polygon points="210.5,421.2 213.1,420.7 210.5,420.2 207.8,420.7" fill="#f74b25" stroke="#3b1209"/>
<polygon points="215.8,421.3 218.5,420.9 215.8,420.4 213.1,420.7" fill="#f84c25" stroke="#3b1209"/>
<polygon points="221.2,421.6 223.9,421.3 221.2,420.6 218.5,420.9" fill="#f85025" stroke="#3c1309"/>
<polygon points="226.5,422.0 229.2,421.9 226.5,421.1 223.9,421.3" fill="#fa5626" stroke="#3c1509"/>
<polygon points="231.9,422.7 234.6,422.6 231.9,421.7 229.2,421.9" fill="#fc6026" stroke="#3d1709"/>
<polygon points="237.2,423.5 239.9,423.5 237.2,422.6 234.6,422.6" fill="#fd7328" stroke="#3d1c0a"/>
<polygon points="247.9,425.6 250.5,425.8 247.9,424.7 245.2,424.5" fill="#ffa42f" stroke="#3d270b"/>
<polygon points="253.2,426.9 255.8,427.2 253.2,426.0 250.5,425.8" fill="#ffc135" stroke="#3d2e0d"/>
<polygon points="258.5,428.4 261.1,428.8 258.4,427.6 255.8,427.2" fill="#fddd30" stroke="#3d350c"/>
<polygon points="181.1,424.3 183.7,423.3 181.1,423.2 178.4,424.2" fill="#fe832a" stroke="#3d1f0a"/>
<polygon points="186.4,423.5 189.1,422.5 186.4,422.3 183.7,423.3" fill="#fd6c28" stroke="#3d1a09"/>
<polygon points="191.7,422.8 194.4,421.9 191.7,421.7 189.1,422.5" fill="#fb5b26" stroke="#3c1609"/>
<polygon points="197.1,422.3 199.8,421.5 197.1,421.2 194.4,421.9" fill="#f95325" stroke="#3c1409"/>
<polygon points="202.5,421.9 205.1,421.3 202.4,420.9 199.8,421.5" fill="#f84d25" stroke="#3b1209"/>
<polygon points="207.8,421.8 210.5,421.2 207.8,420.7 205.1,421.3" fill="#f74925" stroke="#3b1209"/>
<polygon points="213.2,421.8 215.8,421.3 213.1,420.7 210.5,421.2" fill="#f74925" stroke="#3b1109"/>
<polygon points="218.5,422.0 221.2,421.6 218.5,420.9 215.8,421.3" fill="#f74b25" stroke="#3b1209"/>
<polygon points="223.9,422.3 226.5,422.0 223.9,421.3 221.2,421.6" fill="#f85025" stroke="#3c1309"/>
<polygon points="229.2,422.8 231.9,422.7 229.2,421.9 226.5,422.0" fill="#fa5726" stroke="#3c1509"/>
<polygon points="234.6,423.5 237.2,423.5 234.6,422.6 231.9,422.7" fill="#fc6427" stroke="#3d1809"/>
<polygon points="239.9,424.4 242.6,424.4 239.9,423.5 237.2,423.5" fill="#fd7929" stroke="#3d1d0a"/>
<polygon points="245.2,425.5 247.9,425.6 245.2,424.5 242.6,424.4" fill="#ff922c" stroke="#3d230b"/>
<polygon points="250.6,426.7 253.2,426.9 250.5,425.8 247.9,425.6" fill="#ffad31" stroke="#3d2a0c"/>
<polygon points="255.8,428.1 258.5,428.4 255.8,427.2 253.2,426.9" fill="#ffca35" stroke="#3d310d"/>
<polygon points="261.1,429.7 263.7,430.1 261.1,428.8 258.5,428.4" fill="#f7e52d" stroke="#3b370b"/>
<polygon points="189.1,423.7 191.7,422.8 189.1,422.5 186.4,423.5" fill="#fc5f26" stroke="#3c1709"/>
<polygon points="194.4,423.1 197.1,422.3 194.4,421.9 191.7,422.8" fill="#fa5526" stroke="#3c1409"/>
<polygon points="205.1,422.4 207.8,421.8 205.1,421.3 202.5,421.9" fill="#f74825" stroke="#3b1109"/>
<polygon points="210.5,422.3 213.2,421.8 210.5,421.2 207.8,421.8" fill="#f64625" stroke="#3b1109"/>
<polygon points="231.9,423.7 234.6,423.5 231.9,422.7 229.2,422.8" fill="#fb5926" stroke="#3c1509"/>
<polygon points="237.3,424.5 239.9,424.4 237.2,423.5 234.6,423.5" fill="#fd6927" stroke="#3d1909"/>
<polygon points="247.9,426.6 250.6,426.7 247.9,425.6 245.2,425.5" fill="#ff9b2d" stroke="#3d250b"/>
<polygon points="253.2,427.9 255.8,428.1 253.2,426.9 250.6,426.7" fill="#ffb733" stroke="#3d2c0c"/>
<polygon points="178.4,425.4 181.1,424.3 178.4,424.2 175.7,425.3" fill="#ff8d2b" stroke="#3d220a"/>
<polygon points="183.7,424.5 186.4,423.5 183.7,423.3 181.1,424.3" fill="#fd7428" stroke="#3d1c0a"/>
<polygon points="199.8,422.7 202.5,421.9 199.8,421.5 197.1,422.3" fill="#f84d25" stroke="#3b1309"/>
<polygon points="215.9,422.4 218.5,422.0 215.8,421.3 213.2,421.8" fill="#f64725" stroke="#3b1109"/>
<polygon points="221.2,422.7 223.9,422.3 221.2,421.6 218.5,422.0" fill="#f74a25" stroke="#3b1209"/>
<polygon points="226.6,423.1 229.2,422.8 226.5,422.0 223.9,422.3" fill="#f95125" stroke="#3c1309"/>
<polygon points="242.6,425.5 245.2,425.5 242.6,424.4 239.9,424.4" fill="#fe802a" stroke="#3d1f0a"/>
<polygon points="258.5,429.5 261.1,429.7 258.5,428.4 255.8,428.1" fill="#ffd433" stroke="#3d330c"/>
<polygon points="263.8,431.1 266.4,431.5 263.7,430.1 261.1,429.7" fill="#f1e32c" stroke="#3a360a"/>
<polygon points="186.4,424.7 189.1,423.7 186.4,423.5 183.7,424.5" fill="#fc6727" stroke="#3d1909"/>
<polygon points="191.8,424.0 194.4,423.1 191.7,422.8 189.1,423.7" fill="#fa5826" stroke="#3c1509"/>
<polygon points="207.8,422.9 210.5,422.3 207.8,421.8 205.1,422.4" fill="#f64525" stroke="#3b1109"/>
<polygon points="234.6,424.7 237.3,424.5 234.6,423.5 231.9,423.7" fill="#fc5c26" stroke="#3c1609"/>
<polygon points="250.6,427.8 253.2,427.9 250.6,426.7 247.9,426.6" fill="#ffa52f" stroke="#3d270b"/>
<polygon points="255.9,429.2 258.5,429.5 255.8,428.1 253.2,427.9" fill="#ffc336" stroke="#3d2f0d"/>
<polygon points="175.8,426.6 178.4,425.4 175.7,425.3 173.1,426.5" fill="#ff992d" stroke="#3d250b"/>
<polygon points="181.1,425.6 183.7,424.5 181.1,424.3 178.4,425.4" fill="#fe7e2a" stroke="#3d1e0a"/>
<polygon points="197.1,423.5 199.8,422.7 197.1,422.3 194.4,423.1" fill="#f84f25" stroke="#3c1309"/>
<polygon points="202.5,423.1 205.1,422.4 202.5,421.9 199.8,422.7" fill="#f74925" stroke="#3b1109"/>
<polygon points="213.2,422.9 215.9,422.4 213.2,421.8 210.5,422.3" fill="#f64425" stroke="#3b1009"/>
<polygon points="218.5,423.1 221.2,422.7 218.5,422.0 215.9,422.4" fill="#f64625" stroke="#3b1109"/>
<polygon points="223.9,423.4 226.6,423.1 223.9,422.3 221.2,422.7" fill="#f74b25" stroke="#3b1209"/>
<polygon points="229.3,424.0 231.9,423.7 229.2,422.8 226.6,423.1" fill="#f95225" stroke="#3c1409"/>
<polygon points="239.9,425.5 242.6,425.5 239.9,424.4 237.3,424.5" fill="#fd7028" stroke="#3d1b0a"/>
<polygon points="245.3,426.6 247.9,426.6 245.2,425.5 242.6,425.5" fill="#fe892b" stroke="#3d210a"/>
<polygon points="261.2,430.8 263.8,431.1 261.1,429.7 258.5,429.5" fill="#fbdf2f" stroke="#3c360b"/>
<polygon points="266.4,432.6 269.0,433.0 266.4,431.5 263.8,431.1" fill="#eae02b" stroke="#38360a"/>
<polygon points="173.1,427.9 175.8,426.6 173.1,426.5 170.4,427.8" fill="#ffa630" stroke="#3d280b"/>
<polygon points="178.4,426.8 181.1,425.6 178.4,425.4 175.8,426.6" fill="#fe8a2b" stroke="#3d210a"/>
<polygon points="183.8,425.8 186.4,424.7 183.7,424.5 181.1,425.6" fill="#fd7028" stroke="#3d1b0a"/>
<polygon points="189.1,425.0 191.8,424.0 189.1,423.7 186.4,424.7" fill="#fc5c26" stroke="#3c1609"/>
<polygon points="194.4,424.4 197.1,423.5 194.4,423.1 191.8,424.0" fill="#f95225" stroke="#3c1409"/>
<polygon points="199.8,423.9 202.5,423.1 199.8,422.7 197.1,423.5" fill="#f74a25" stroke="#3b1209"/>
<polygon points="205.2,423.7 207.8,422.9 205.1,422.4 202.5,423.1" fill="#f64525" stroke="#3b1109"/>
<polygon points="210.5,423.5 213.2,422.9 210.5,422.3 207.8,422.9" fill="#f54325" stroke="#3b1009"/>
<polygon points="215.9,423.6 218.5,423.1 215.9,422.4 213.2,422.9" fill="#f54325" stroke="#3b1009"/>
<polygon points="221.2,423.9 223.9,423.4 221.2,422.7 218.5,423.1" fill="#f64725" stroke="#3b1109"/>
<polygon points="226.6,424.3 229.3,424.0 226.6,423.1 223.9,423.4" fill="#f84c25" stroke="#3b1209"/>
<polygon points="231.9,424.9 234.6,424.7 231.9,423.7 229.3,424.0" fill="#fa5526" stroke="#3c1409"/>
<polygon points="237.3,425.7 239.9,425.5 237.3,424.5 234.6,424.7" fill="#fc6226" stroke="#3d1709"/>
<polygon points="242.6,426.6 245.3,426.6 242.6,425.5 239.9,425.5" fill="#fd7929" stroke="#3d1d0a"/>
<polygon points="247.9,427.8 250.6,427.8 247.9,426.6 245.3,426.6" fill="#ff942c" stroke="#3d230b"/>
<polygon points="253.2,429.1 255.9,429.2 253.2,427.9 250.6,427.8" fill="#ffb032" stroke="#3d2a0c"/>
<polygon points="258.5,430.6 261.2,430.8 258.5,429.5 255.9,429.2" fill="#ffce34" stroke="#3d310c"/>
<polygon points="263.8,432.3 266.4,432.6 263.8,431.1 261.2,430.8" fill="#f4e42c" stroke="#3b370b"/>
<polygon points="269.0,434.2 271.6,434.6 269.0,433.0 266.4,432.6" fill="#e4dd29" stroke="#37350a"/>
<polygon points="175.8,428.1 178.4,426.8 175.8,426.6 173.1,427.9" fill="#ff972d" stroke="#3d240b"/>
<polygon points="181.1,427.0 183.8,425.8 181.1,425.6 178.4,426.8" fill="#fe7c29" stroke="#3d1e0a"/>
<polygon points="186.4,426.1 189.1,425.0 186.4,424.7 183.8,425.8" fill="#fc6427" stroke="#3d1809"/>
<polygon points="197.1,424.8 199.8,423.9 197.1,423.5 194.4,424.4" fill="#f84d25" stroke="#3b1209"/>
<polygon points="202.5,424.5 205.2,423.7 202.5,423.1 199.8,423.9" fill="#f64625" stroke="#3b1109"/>
<polygon points="213.2,424.2 215.9,423.6 213.2,422.9 210.5,423.5" fill="#f54225" stroke="#3b1009"/>
<polygon points="218.6,424.4 221.2,423.9 218.5,423.1 215.9,423.6" fill="#f54325" stroke="#3b1009"/>
<polygon points="223.9,424.7 226.6,424.3 223.9,423.4 221.2,423.9" fill="#f64825" stroke="#3b1109"/>
<polygon points="229.3,425.2 231.9,424.9 229.3,424.0 226.6,424.3" fill="#f84f25" stroke="#3c1309"/>
<polygon points="240.0,426.8 242.6,426.6 239.9,425.5 237.3,425.7" fill="#fd6a27" stroke="#3d1909"/>
<polygon points="245.3,427.8 247.9,427.8 245.3,426.6 242.6,426.6" fill="#fe832a" stroke="#3d1f0a"/>
<polygon points="255.9,430.5 258.5,430.6 255.9,429.2 253.2,429.1" fill="#ffbc34" stroke="#3d2d0d"/>
<polygon points="261.2,432.1 263.8,432.3 261.2,430.8 258.5,430.6" fill="#feda31" stroke="#3d340c"/>
<polygon points="266.4,433.8 269.0,434.2 266.4,432.6 263.8,432.3" fill="#ede12b" stroke="#39360a"/>
<polygon points="170.5,429.3 173.1,427.9 170.4,427.8 167.8,429.2" fill="#ffb433" stroke="#3d2b0c"/>
<polygon points="191.8,425.4 194.4,424.4 191.8,424.0 189.1,425.0" fill="#fa5626" stroke="#3c1509"/>
<polygon points="207.8,424.3 210.5,423.5 207.8,422.9 205.2,423.7" fill="#f54325" stroke="#3b1009"/>
<polygon points="234.6,425.9 237.3,425.7 234.6,424.7 231.9,424.9" fill="#fb5926" stroke="#3c1509"/>
<polygon points="250.6,429.0 253.2,429.1 250.6,427.8 247.9,427.8" fill="#ff9f2e" stroke="#3d260b"/>
<polygon points="271.7,435.8 274.3,436.2 271.6,434.6 269.0,434.2" fill="#d8d828" stroke="#34340a"/>
<polygon points="167.8,430.8 170.5,429.3 167.8,429.2 165.1,430.7" fill="#ffc436" stroke="#3d2f0d"/>
<polygon points="173.1,429.4 175.8,428.1 173.1,427.9 170.5,429.3" fill="#ffa530" stroke="#3d280b"/>
<polygon points="178.4,428.3 181.1,427.0 178.4,426.8 175.8,428.1" fill="#fe892b" stroke="#3d210a"/>
<polygon points="183.8,427.3 186.4,426.1 183.8,425.8 181.1,427.0" fill="#fd6f28" stroke="#3d1b0a"/>
<polygon points="194.5,425.8 197.1,424.8 194.4,424.4 191.8,425.4" fill="#f95125" stroke="#3c1309"/>
<polygon points="199.8,425.3 202.5,424.5 199.8,423.9 197.1,424.8" fill="#f74925" stroke="#3b1109"/>
<polygon points="215.9,425.0 218.6,424.4 215.9,423.6 213.2,424.2" fill="#f54125" stroke="#3b1009"/>
<polygon points="221.3,425.2 223.9,424.7 221.2,423.9 218.6,424.4" fill="#f64425" stroke="#3b1009"/>
<polygon points="226.6,425.6 229.3,425.2 226.6,424.3 223.9,424.7" fill="#f74a25" stroke="#3b1209"/>
<polygon points="242.6,427.9 245.3,427.8 242.6,426.6 240.0,426.8" fill="#fd7428" stroke="#3d1c0a"/>
<polygon points="248.0,429.1 250.6,429.0 247.9,427.8 245.3,427.8" fill="#ff8f2b" stroke="#3d220a"/>
<polygon points="258.5,431.9 261.2,432.1 258.5,430.6 255.9,430.5" fill="#ffc935" stroke="#3d300d"/>
<polygon points="263.8,433.6 266.4,433.8 263.8,432.3 261.2,432.1" fill="#f7e52d" stroke="#3b370b"/>
<polygon points="269.1,435.4 271.7,435.8 269.0,434.2 266.4,433.8" fill="#e6de2a" stroke="#37350a"/>
<polygon points="274.3,437.5 276.9,437.9 274.3,436.2 271.7,435.8" fill="#c0cb26" stroke="#2e3109"/>
<polygon points="189.1,426.5 191.8,425.4 189.1,425.0 186.4,426.1" fill="#fb5b26" stroke="#3c1609"/>
<polygon points="205.2,425.0 207.8,424.3 205.2,423.7 202.5,424.5" fill="#f54425" stroke="#3b1009"/>
<polygon points="210.5,424.9 213.2,424.2 210.5,423.5 207.8,424.3" fill="#f54125" stroke="#3b1009"/>
<polygon points="232.0,426.2 234.6,425.9 231.9,424.9 229.3,425.2" fill="#f95225" stroke="#3c1409"/>
<polygon points="237.3,427.0 240.0,426.8 237.3,425.7 234.6,425.9" fill="#fc5e26" stroke="#3c1609"/>
<polygon points="253.3,430.4 255.9,430.5 253.2,429.1 250.6,429.0" fill="#ffab31" stroke="#3d290c"/>
<polygon points="165.2,432.4 167.8,430.8 165.1,430.7 162.5,432.3" fill="#ffd333" stroke="#3d330c"/>
<polygon points="170.5,430.9 173.1,429.4 170.5,429.3 167.8,430.8" fill="#ffb533" stroke="#3d2b0c"/>
<polygon points="175.8,429.6 178.4,428.3 175.8,428.1 173.1,429.4" fill="#ff982d" stroke="#3d240b"/>
<polygon points="181.1,428.6 183.8,427.3 181.1,427.0 178.4,428.3" fill="#fe7c29" stroke="#3d1e0a"/>
<polygon points="186.5,427.6 189.1,426.5 186.4,426.1 183.8,427.3" fill="#fc6427" stroke="#3d1809"/>
<polygon points="191.8,426.9 194.5,425.8 191.8,425.4 189.1,426.5" fill="#fa5626" stroke="#3c1509"/>
<polygon points="197.2,426.3 199.8,425.3 197.1,424.8 194.5,425.8" fill="#f84c25" stroke="#3b1209"/>
<polygon points="202.5,425.9 205.2,425.0 202.5,424.5 199.8,425.3" fill="#f64625" stroke="#3b1109"/>
<polygon points="207.9,425.7 210.5,424.9 207.8,424.3 205.2,425.0" fill="#f54225" stroke="#3b1009"/>
<polygon points="213.2,425.7 215.9,425.0 213.2,424.2 210.5,424.9" fill="#f54125" stroke="#3b1009"/>
<polygon points="218.6,425.8 221.3,425.2 218.6,424.4 215.9,425.0" fill="#f54225" stroke="#3b1009"/>
<polygon points="223.9,426.1 226.6,425.6 223.9,424.7 221.3,425.2" fill="#f64625" stroke="#3b1109"/>
<polygon points="229.3,426.6 232.0,426.2 229.3,425.2 226.6,425.6" fill="#f84d25" stroke="#3b1309"/>
<polygon points="234.6,427.3 237.3,427.0 234.6,425.9 232.0,426.2" fill="#fa5726" stroke="#3c1509"/>
<polygon points="240.0,428.2 242.6,427.9 240.0,426.8 237.3,427.0" fill="#fc6727" stroke="#3d1909"/>
<polygon points="245.3,429.2 248.0,429.1 245.3,427.8 242.6,427.9" fill="#fe7f2a" stroke="#3d1e0a"/>
<polygon points="250.6,430.4 253.3,430.4 250.6,429.0 248.0,429.1" fill="#ff9b2d" stroke="#3d250b"/>
<polygon points="255.9,431.8 258.5,431.9 255.9,430.5 253.3,430.4" fill="#ffb934" stroke="#3d2c0c"/>
<polygon points="261.2,433.4 263.8,433.6 261.2,432.1 258.5,431.9" fill="#ffd632" stroke="#3d330c"/>
<polygon points="266.5,435.2 269.1,435.4 266.4,433.8 263.8,433.6" fill="#f0e22b" stroke="#3a360a"/>
<polygon points="271.7,437.1 274.3,437.5 271.7,435.8 269.1,435.4" fill="#dfdb29" stroke="#36350a"/>
<polygon points="276.9,439.3 279.5,439.7 276.9,437.9 274.3,437.5" fill="#a5be24" stroke="#282d09"/>
<polygon points="167.8,432.5 170.5,430.9 167.8,430.8 165.2,432.4" fill="#ffc636" stroke="#3d300d"/>
<polygon points="173.1,431.1 175.8,429.6 173.1,429.4 170.5,430.9" fill="#ffa730" stroke="#3d280c"/>
<polygon points="178.5,429.9 181.1,428.6 178.4,428.3 175.8,429.6" fill="#ff8b2b" stroke="#3d210a"/>
<polygon points="183.8,428.9 186.5,427.6 183.8,427.3 181.1,428.6" fill="#fd7128" stroke="#3d1b0a"/>
<polygon points="189.1,428.1 191.8,426.9 189.1,426.5 186.5,427.6" fill="#fc5c26" stroke="#3c1609"/>
<polygon points="194.5,427.4 197.2,426.3 194.5,425.8 191.8,426.9" fill="#f95125" stroke="#3c1309"/>
<polygon points="205.2,426.6 207.9,425.7 205.2,425.0 202.5,425.9" fill="#f54425" stroke="#3b1009"/>
<polygon points="210.6,426.4 213.2,425.7 210.5,424.9 207.9,425.7" fill="#f54125" stroke="#3b1009"/>
<polygon points="215.9,426.5 218.6,425.8 215.9,425.0 213.2,425.7" fill="#f54125" stroke="#3b1009"/>
<polygon points="221.3,426.7 223.9,426.1 221.3,425.2 218.6,425.8" fill="#f54425" stroke="#3b1009"/>
<polygon points="226.6,427.1 229.3,426.6 226.6,425.6 223.9,426.1" fill="#f74925" stroke="#3b1209"/>
<polygon points="232.0,427.7 234.6,427.3 232.0,426.2 229.3,426.6" fill="#f95225" stroke="#3c1409"/>
<polygon points="237.3,428.5 240.0,428.2 237.3,427.0 234.6,427.3" fill="#fc5c26" stroke="#3c1609"/>
<polygon points="248.0,430.5 250.6,430.4 248.0,429.1 245.3,429.2" fill="#ff8c2b" stroke="#3d220a"/>
<polygon points="253.3,431.8 255.9,431.8 253.3,430.4 250.6,430.4" fill="#ffa830" stroke="#3d280c"/>
<polygon points="258.6,433.3 261.2,433.4 258.5,431.9 255.9,431.8" fill="#ffc735" stroke="#3d300d"/>
<polygon points="263.8,435.0 266.5,435.2 263.8,433.6 261.2,433.4" fill="#f9e52d" stroke="#3c370b"/>
<polygon points="269.1,436.9 271.7,437.1 269.1,435.4 266.5,435.2" fill="#e8df2a" stroke="#38360a"/>
<polygon points="274.3,438.9 276.9,439.3 274.3,437.5 271.7,437.1" fill="#c6ce27" stroke="#2f3209"/>
<polygon points="162.5,434.0 165.2,432.4 162.5,432.3 159.9,434.0" fill="#f9e42e" stroke="#3c370b"/>
<polygon points="199.8,426.9 202.5,425.9 199.8,425.3 197.2,426.3" fill="#f74925" stroke="#3b1209"/>
<polygon points="242.6,429.4 245.3,429.2 242.6,427.9 240.0,428.2" fill="#fd7228" stroke="#3d1b0a"/>
<polygon points="279.5,441.2 282.1,441.6 279.5,439.7 276.9,439.3" fill="#7fa922" stroke="#1e2908"/>
<polygon points="159.9,435.8 162.5,434.0 159.9,434.0 157.2,435.7" fill="#f0e22b" stroke="#39360a"/>
<polygon points="165.2,434.1 167.8,432.5 165.2,432.4 162.5,434.0" fill="#ffd632" stroke="#3d330c"/>
<polygon points="170.5,432.7 173.1,431.1 170.5,430.9 167.8,432.5" fill="#ffb834" stroke="#3d2c0c"/>
<polygon points="175.8,431.4 178.5,429.9 175.8,429.6 173.1,431.1" fill="#ff9b2d" stroke="#3d250b"/>
<polygon points="181.1,430.3 183.8,428.9 181.1,428.6 178.5,429.9" fill="#fe7f2a" stroke="#3d1f0a"/>
<polygon points="186.5,429.3 189.1,428.1 186.5,427.6 183.8,428.9" fill="#fc6727" stroke="#3d1909"/>
<polygon points="191.8,428.5 194.5,427.4 191.8,426.9 189.1,428.1" fill="#fa5726" stroke="#3c1509"/>
<polygon points="202.5,427.5 205.2,426.6 202.5,425.9 199.8,426.9" fill="#f64725" stroke="#3b1109"/>
<polygon points="207.9,427.3 210.6,426.4 207.9,425.7 205.2,426.6" fill="#f54325" stroke="#3b1009"/>
<polygon points="213.2,427.3 215.9,426.5 213.2,425.7 210.6,426.4" fill="#f54125" stroke="#3b1009"/>
<polygon points="218.6,427.4 221.3,426.7 218.6,425.8 215.9,426.5" fill="#f54325" stroke="#3b1009"/>
<polygon points="224.0,427.7 226.6,427.1 223.9,426.1 221.3,426.7" fill="#f64725" stroke="#3b1109"/>
<polygon points="229.3,428.2 232.0,427.7 229.3,426.6 226.6,427.1" fill="#f84d25" stroke="#3b1309"/>
<polygon points="234.7,428.8 237.3,428.5 234.6,427.3 232.0,427.7" fill="#fa5726" stroke="#3c1509"/>
<polygon points="240.0,429.7 242.6,429.4 240.0,428.2 237.3,428.5" fill="#fc6627" stroke="#3d1809"/>
<polygon points="250.6,431.9 253.3,431.8 250.6,430.4 248.0,430.5" fill="#ff9a2d" stroke="#3d250b"/>
<polygon points="255.9,433.3 258.6,433.3 255.9,431.8 253.3,431.8" fill="#ffb733" stroke="#3d2c0c"/>
<polygon points="261.2,434.9 263.8,435.0 261.2,433.4 258.6,433.3" fill="#ffd533" stroke="#3d330c"/>
<polygon points="266.5,436.7 269.1,436.9 266.5,435.2 263.8,435.0" fill="#f2e32c" stroke="#3a370a"/>
<polygon points="271.7,438.6 274.3,438.9 271.7,437.1 269.1,436.9" fill="#e1dc29" stroke="#36350a"/>
<polygon points="276.9,440.8 279.5,441.2 276.9,439.3 274.3,438.9" fill="#acc125" stroke="#292e09"/>
<polygon points="282.1,443.1 284.7,443.6 282.1,441.6 279.5,441.2" fill="#58951f" stroke="#152408"/>
<polygon points="197.2,428.0 199.8,426.9 197.2,426.3 194.5,427.4" fill="#f84e25" stroke="#3c1309"/>
<polygon points="245.3,430.7 248.0,430.5 245.3,429.2 242.6,429.4" fill="#fe7e2a" stroke="#3d1e0a"/>
<polygon points="157.3,437.6 159.9,435.8 157.2,435.7 154.6,437.6" fill="#e6de2a" stroke="#37350a"/>
<polygon points="162.6,435.9 165.2,434.1 162.5,434.0 159.9,435.8" fill="#f7e52d" stroke="#3b370b"/>
<polygon points="167.9,434.3 170.5,432.7 167.8,432.5 165.2,434.1" fill="#ffca35" stroke="#3d300d"/>
<polygon points="173.2,432.9 175.8,431.4 173.1,431.1 170.5,432.7" fill="#ffac31" stroke="#3d290c"/>
<polygon points="178.5,431.7 181.1,430.3 178.5,429.9 175.8,431.4" fill="#ff902c" stroke="#3d220a"/>
<polygon points="183.8,430.7 186.5,429.3 183.8,428.9 181.1,430.3" fill="#fd7529" stroke="#3d1c0a"/>
<polygon points="189.2,429.8 191.8,428.5 189.1,428.1 186.5,429.3" fill="#fc5f26" stroke="#3c1709"/>
<polygon points="194.5,429.1 197.2,428.0 194.5,427.4 191.8,428.5" fill="#f95325" stroke="#3c1409"/>
<polygon points="199.9,428.6 202.5,427.5 199.8,426.9 197.2,428.0" fill="#f74b25" stroke="#3b1209"/>
<polygon points="205.2,428.3 207.9,427.3 205.2,426.6 202.5,427.5" fill="#f64625" stroke="#3b1109"/>
<polygon points="210.6,428.1 213.2,427.3 210.6,426.4 207.9,427.3" fill="#f54325" stroke="#3b1009"/>
<polygon points="215.9,428.1 218.6,427.4 215.9,426.5 213.2,427.3" fill="#f54325" stroke="#3b1009"/>
<polygon points="221.3,428.3 224.0,427.7 221.3,426.7 218.6,427.4" fill="#f64525" stroke="#3b1109"/>
<polygon points="226.6,428.7 229.3,428.2 226.6,427.1 224.0,427.7" fill="#f74a25" stroke="#3b1209"/>
<polygon points="232.0,429.3 234.7,428.8 232.0,427.7 229.3,428.2" fill="#f95225" stroke="#3c1409"/>
<polygon points="237.3,430.1 240.0,429.7 237.3,428.5 234.7,428.8" fill="#fc5d26" stroke="#3c1609"/>
<polygon points="242.7,431.0 245.3,430.7 242.6,429.4 240.0,429.7" fill="#fd7228" stroke="#3d1b0a"/>
<polygon points="248.0,432.1 250.6,431.9 248.0,430.5 245.3,430.7" fill="#ff8c2b" stroke="#3d220a"/>
<polygon points="253.3,433.4 255.9,433.3 253.3,431.8 250.6,431.9" fill="#ffa830" stroke="#3d280c"/>
<polygon points="258.6,434.9 261.2,434.9 258.6,433.3 255.9,433.3" fill="#ffc735" stroke="#3d300d"/>
<polygon points="263.9,436.6 266.5,436.7 263.8,435.0 261.2,434.9" fill="#fbe42e" stroke="#3c370b"/>
<polygon points="269.1,438.4 271.7,438.6 269.1,436.9 266.5,436.7" fill="#eae02a" stroke="#38360a"/>
<polygon points="274.3,440.5 276.9,440.8 274.3,438.9 271.7,438.6" fill="#c9d027" stroke="#303209"/>
<polygon points="279.5,442.7 282.1,443.1 279.5,441.2 276.9,440.8" fill="#83ac22" stroke="#202908"/>
<polygon points="284.7,445.2 287.2,445.7 284.7,443.6 282.1,443.1" fill="#3e811d" stroke="#0f1f07"/>
<polygon points="165.2,436.1 167.9,434.3 165.2,434.1 162.6,435.9" fill="#fddb31" stroke="#3d350c"/>
<polygon points="170.5,434.6 173.2,432.9 170.5,432.7 167.9,434.3" fill="#ffbe35" stroke="#3d2e0d"/>
<polygon points="186.5,431.1 189.2,429.8 186.5,429.3 183.8,430.7" fill="#fd6c28" stroke="#3d1a0a"/>
<polygon points="207.9,429.1 210.6,428.1 207.9,427.3 205.2,428.3" fill="#f64525" stroke="#3b1109"/>
<polygon points="213.3,429.0 215.9,428.1 213.2,427.3 210.6,428.1" fill="#f54425" stroke="#3b1009"/>
<polygon points="229.3,429.9 232.0,429.3 229.3,428.2 226.6,428.7" fill="#f84f25" stroke="#3c1309"/>
<polygon points="234.7,430.5 237.3,430.1 234.7,428.8 232.0,429.3" fill="#fb5826" stroke="#3c1509"/>
<polygon points="255.9,435.0 258.6,434.9 255.9,433.3 253.3,433.4" fill="#ffb833" stroke="#3d2c0c"/>
<polygon points="271.7,440.3 274.3,440.5 271.7,438.6 269.1,438.4" fill="#e2dd29" stroke="#36350a"/>
<polygon points="276.9,442.4 279.5,442.7 276.9,440.8 274.3,440.5" fill="#aec325" stroke="#2a2f09"/>
<polygon points="154.6,439.6 157.3,437.6 154.6,437.6 152.0,439.5" fill="#d6d728" stroke="#33330a"/>
<polygon points="159.9,437.7 162.6,435.9 159.9,435.8 157.3,437.6" fill="#ede12b" stroke="#39360a"/>
<polygon points="175.8,433.2 178.5,431.7 175.8,431.4 173.2,432.9" fill="#ffa02f" stroke="#3d270b"/>
<polygon points="181.2,432.1 183.8,430.7 181.1,430.3 178.5,431.7" fill="#fe852a" stroke="#3d200a"/>
<polygon points="191.8,430.3 194.5,429.1 191.8,428.5 189.2,429.8" fill="#fb5a26" stroke="#3c1609"/>
<polygon points="197.2,429.7 199.9,428.6 197.2,428.0 194.5,429.1" fill="#f95125" stroke="#3c1309"/>
<polygon points="202.5,429.3 205.2,428.3 202.5,427.5 199.9,428.6" fill="#f74a25" stroke="#3b1209"/>
<polygon points="218.6,429.1 221.3,428.3 218.6,427.4 215.9,428.1" fill="#f64525" stroke="#3b1009"/>
<polygon points="224.0,429.4 226.6,428.7 224.0,427.7 221.3,428.3" fill="#f74925" stroke="#3b1109"/>
<polygon points="240.0,431.4 242.7,431.0 240.0,429.7 237.3,430.1" fill="#fd6827" stroke="#3d1909"/>
<polygon points="245.3,432.4 248.0,432.1 245.3,430.7 242.7,431.0" fill="#fe802a" stroke="#3d1f0a"/>
<polygon points="250.6,433.6 253.3,433.4 250.6,431.9 248.0,432.1" fill="#ff9b2d" stroke="#3d250b"/>
<polygon points="261.2,436.6 263.9,436.6 261.2,434.9 258.6,434.9" fill="#ffd533" stroke="#3d330c"/>
<polygon points="266.5,438.3 269.1,438.4 266.5,436.7 263.9,436.6" fill="#f3e42c" stroke="#3a370b"/>
<polygon points="282.1,444.8 284.7,445.2 282.1,443.1 279.5,442.7" fill="#5b9720" stroke="#162408"/>
<polygon points="287.2,447.3 289.8,447.8 287.2,445.7 284.7,445.2" fill="#2b6e1b" stroke="#0a1a07"/>
<polygon points="157.3,439.7 159.9,437.7 157.3,437.6 154.6,439.6" fill="#e3dd29" stroke="#36350a"/>
<polygon points="162.6,437.9 165.2,436.1 162.6,435.9 159.9,437.7" fill="#f3e42c" stroke="#3a370b"/>
<polygon points="167.9,436.3 170.5,434.6 167.9,434.3 165.2,436.1" fill="#ffd034" stroke="#3d320c"/>
<polygon points="173.2,434.9 175.8,433.2 173.2,432.9 170.5,434.6" fill="#ffb332" stroke="#3d2b0c"/>
<polygon points="178.5,433.6 181.2,432.1 178.5,431.7 175.8,433.2" fill="#ff972d" stroke="#3d240b"/>
<polygon points="183.8,432.6 186.5,431.1 183.8,430.7 181.2,432.1" fill="#fe7c29" stroke="#3d1e0a"/>
<polygon points="189.2,431.7 191.8,430.3 189.2,429.8 186.5,431.1" fill="#fc6527" stroke="#3d1809"/>
<polygon points="194.5,431.0 197.2,429.7 194.5,429.1 191.8,430.3" fill="#fa5726" stroke="#3c1509"/>
<polygon points="199.9,430.4 202.5,429.3 199.9,428.6 197.2,429.7" fill="#f84f25" stroke="#3c1309"/>
<polygon points="205.2,430.1 207.9,429.1 205.2,428.3 202.5,429.3" fill="#f74925" stroke="#3b1209"/>
<polygon points="210.6,429.9 213.3,429.0 210.6,428.1 207.9,429.1" fill="#f64625" stroke="#3b1109"/>
<polygon points="215.9,429.9 218.6,429.1 215.9,428.1 213.3,429.0" fill="#f64625" stroke="#3b1109"/>
<polygon points="221.3,430.1 224.0,429.4 221.3,428.3 218.6,429.1" fill="#f64825" stroke="#3b1109"/>
<polygon points="226.7,430.5 229.3,429.9 226.6,428.7 224.0,429.4" fill="#f84d25" stroke="#3b1209"/>
<polygon points="232.0,431.1 234.7,430.5 232.0,429.3 229.3,429.9" fill="#fa5526" stroke="#3c1409"/>
<polygon points="237.3,431.8 240.0,431.4 237.3,430.1 234.7,430.5" fill="#fc6026" stroke="#3d1709"/>
<polygon points="242.7,432.7 245.3,432.4 242.7,431.0 240.0,431.4" fill="#fd7529" stroke="#3d1c0a"/>
<polygon points="248.0,433.8 250.6,433.6 248.0,432.1 245.3,432.4" fill="#ff8f2b" stroke="#3d220a"/>
<polygon points="253.3,435.1 255.9,435.0 253.3,433.4 250.6,433.6" fill="#ffaa31" stroke="#3d290c"/>
<polygon points="258.6,436.6 261.2,436.6 258.6,434.9 255.9,435.0" fill="#ffc835" stroke="#3d300d"/>
<polygon points="263.9,438.3 266.5,438.3 263.9,436.6 261.2,436.6" fill="#fbe52e" stroke="#3c370b"/>
<polygon points="269.1,440.2 271.7,440.3 269.1,438.4 266.5,438.3" fill="#ebe12b" stroke="#38360a"/>
<polygon points="274.3,442.2 276.9,442.4 274.3,440.5 271.7,440.3" fill="#cad127" stroke="#303209"/>
<polygon points="279.5,444.5 282.1,444.8 279.5,442.7 276.9,442.4" fill="#85ad22" stroke="#202a08"/>
<polygon points="284.7,446.9 287.2,447.3 284.7,445.2 282.1,444.8" fill="#3f821d" stroke="#0f1f07"/>
<polygon points="159.9,439.8 162.6,437.9 159.9,437.7 157.3,439.7" fill="#e9df2a" stroke="#38360a"/>
<polygon points="165.2,438.1 167.9,436.3 165.2,436.1 162.6,437.9" fill="#fae22e" stroke="#3c360b"/>
<polygon points="175.9,435.3 178.5,433.6 175.8,433.2 173.2,434.9" fill="#ffa830" stroke="#3d280c"/>
<polygon points="181.2,434.1 183.8,432.6 181.2,432.1 178.5,433.6" fill="#ff8d2b" stroke="#3d220a"/>
<polygon points="197.2,431.7 199.9,430.4 197.2,429.7 194.5,431.0" fill="#fa5526" stroke="#3c1409"/>
<polygon points="202.6,431.2 205.2,430.1 202.5,429.3 199.9,430.4" fill="#f84e25" stroke="#3c1309"/>
<polygon points="207.9,431.0 210.6,429.9 207.9,429.1 205.2,430.1" fill="#f74925" stroke="#3b1209"/>
<polygon points="218.6,431.0 221.3,430.1 218.6,429.1 215.9,429.9" fill="#f74825" stroke="#3b1109"/>
<polygon points="224.0,431.2 226.7,430.5 224.0,429.4 221.3,430.1" fill="#f84c25" stroke="#3b1209"/>
<polygon points="234.7,432.3 237.3,431.8 234.7,430.5 232.0,431.1" fill="#fb5b26" stroke="#3c1609"/>
<polygon points="240.0,433.2 242.7,432.7 240.0,431.4 237.3,431.8" fill="#fd6d28" stroke="#3d1a0a"/>
<polygon points="245.3,434.2 248.0,433.8 245.3,432.4 242.7,432.7" fill="#fe842a" stroke="#3d200a"/>
<polygon points="261.2,438.4 263.9,438.3 261.2,436.6 258.6,436.6" fill="#ffd832" stroke="#3d340c"/>
<polygon points="266.5,440.1 269.1,440.2 266.5,438.3 263.9,438.3" fill="#f3e52c" stroke="#3a370b"/>
<polygon points="276.9,444.2 279.5,444.5 276.9,442.4 274.3,442.2" fill="#aec325" stroke="#2a2f09"/>
<polygon points="282.1,446.6 284.7,446.9 282.1,444.8 279.5,444.5" fill="#5b9720" stroke="#162408"/>
<polygon points="170.5,436.6 173.2,434.9 170.5,434.6 167.9,436.3" fill="#ffc636" stroke="#3d2f0d"/>
<polygon points="186.5,433.1 189.2,431.7 186.5,431.1 183.8,432.6" fill="#fd7529" stroke="#3d1c0a"/>
<polygon points="191.9,432.3 194.5,431.0 191.8,430.3 189.2,431.7" fill="#fc6026" stroke="#3d1709"/>
<polygon points="213.3,430.9 215.9,429.9 213.3,429.0 210.6,429.9" fill="#f64825" stroke="#3b1109"/>
<polygon points="229.3,431.7 232.0,431.1 229.3,429.9 226.7,430.5" fill="#f95225" stroke="#3c1409"/>
<polygon points="250.7,435.4 253.3,435.1 250.6,433.6 248.0,433.8" fill="#ff9f2e" stroke="#3d260b"/>
<polygon points="256.0,436.8 258.6,436.6 255.9,435.0 253.3,435.1" fill="#ffbb34" stroke="#3d2d0d"/>
<polygon points="271.7,442.1 274.3,442.2 271.7,440.3 269.1,440.2" fill="#e3de29" stroke="#36350a"/>
<polygon points="162.6,440.1 165.2,438.1 162.6,437.9 159.9,439.8" fill="#efe22b" stroke="#39360a"/>
<polygon points="173.2,437.0 175.9,435.3 173.2,434.9 170.5,436.6" fill="#ffbc34" stroke="#3d2d0d"/>
<polygon points="178.5,435.7 181.2,434.1 178.5,433.6 175.9,435.3" fill="#ffa02e" stroke="#3d260b"/>
<polygon points="194.5,433.0 197.2,431.7 194.5,431.0 191.9,432.3" fill="#fc5d26" stroke="#3c1609"/>
<polygon points="199.9,432.4 202.6,431.2 199.9,430.4 197.2,431.7" fill="#fa5426" stroke="#3c1409"/>
<polygon points="205.2,432.1 207.9,431.0 205.2,430.1 202.6,431.2" fill="#f84e25" stroke="#3c1309"/>
<polygon points="216.0,431.9 218.6,431.0 215.9,429.9 213.3,430.9" fill="#f74a25" stroke="#3b1209"/>
<polygon points="221.3,432.1 224.0,431.2 221.3,430.1 218.6,431.0" fill="#f84c25" stroke="#3b1209"/>
<polygon points="226.7,432.4 229.3,431.7 226.7,430.5 224.0,431.2" fill="#f95125" stroke="#3c1309"/>
<polygon points="237.4,433.7 240.0,433.2 237.3,431.8 234.7,432.3" fill="#fc6627" stroke="#3d1909"/>
<polygon points="242.7,434.6 245.3,434.2 242.7,432.7 240.0,433.2" fill="#fe7b29" stroke="#3d1e0a"/>
<polygon points="248.0,435.7 250.7,435.4 248.0,433.8 245.3,434.2" fill="#ff952c" stroke="#3d240b"/>
<polygon points="263.9,440.2 266.5,440.1 263.9,438.3 261.2,438.4" fill="#fbe92d" stroke="#3c380b"/>
<polygon points="269.1,442.0 271.7,442.1 269.1,440.2 266.5,440.1" fill="#ebe22b" stroke="#38360a"/>
<polygon points="279.5,446.3 282.1,446.6 279.5,444.5 276.9,444.2" fill="#82ac22" stroke="#1f2908"/>
<polygon points="167.9,438.4 170.5,436.6 167.9,436.3 165.2,438.1" fill="#ffd832" stroke="#3d340c"/>
<polygon points="183.9,434.6 186.5,433.1 183.8,432.6 181.2,434.1" fill="#fe862a" stroke="#3d200a"/>
<polygon points="189.2,433.7 191.9,432.3 189.2,431.7 186.5,433.1" fill="#fd6f28" stroke="#3d1b0a"/>
<polygon points="210.6,431.9 213.3,430.9 210.6,429.9 207.9,431.0" fill="#f74b25" stroke="#3b1209"/>
<polygon points="232.0,433.0 234.7,432.3 232.0,431.1 229.3,431.7" fill="#fb5926" stroke="#3c1509"/>
<polygon points="253.3,437.0 256.0,436.8 253.3,435.1 250.7,435.4" fill="#ffaf32" stroke="#3d2a0c"/>
<polygon points="258.6,438.5 261.2,438.4 258.6,436.6 256.0,436.8" fill="#ffcc34" stroke="#3d310d"/>
<polygon points="274.3,444.1 276.9,444.2 274.3,442.2 271.7,442.1" fill="#c8d127" stroke="#303209"/>
<polygon points="202.6,433.3 205.2,432.1 202.6,431.2 199.9,432.4" fill="#fa5426" stroke="#3c1409"/>
<polygon points="240.0,435.1 242.7,434.6 240.0,433.2 237.4,433.7" fill="#fd7428" stroke="#3d1c0a"/>
<polygon points="165.3,440.4 167.9,438.4 165.2,438.1 162.6,440.1" fill="#f5e52c" stroke="#3b370b"/>
<polygon points="170.6,438.8 173.2,437.0 170.5,436.6 167.9,438.4" fill="#ffcf34" stroke="#3d320c"/>
<polygon points="175.9,437.4 178.5,435.7 175.9,435.3 173.2,437.0" fill="#ffb332" stroke="#3d2b0c"/>
<polygon points="181.2,436.2 183.9,434.6 181.2,434.1 178.5,435.7" fill="#ff982d" stroke="#3d250b"/>
<polygon points="186.5,435.2 189.2,433.7 186.5,433.1 183.9,434.6" fill="#fe7f2a" stroke="#3d1f0a"/>
<polygon points="191.9,434.4 194.5,433.0 191.9,432.3 189.2,433.7" fill="#fd6a27" stroke="#3d1a09"/>
<polygon points="197.2,433.8 199.9,432.4 197.2,431.7 194.5,433.0" fill="#fb5c26" stroke="#3c1609"/>
<polygon points="207.9,433.0 210.6,431.9 207.9,431.0 205.2,432.1" fill="#f84f25" stroke="#3c1309"/>
<polygon points="213.3,432.9 216.0,431.9 213.3,430.9 210.6,431.9" fill="#f84d25" stroke="#3b1309"/>
<polygon points="218.6,433.0 221.3,432.1 218.6,431.0 216.0,431.9" fill="#f84e25" stroke="#3c1309"/>
<polygon points="224.0,433.2 226.7,432.4 224.0,431.2 221.3,432.1" fill="#f95125" stroke="#3c1409"/>
<polygon points="229.3,433.7 232.0,433.0 229.3,431.7 226.7,432.4" fill="#fa5726" stroke="#3c1509"/>
<polygon points="234.7,434.3 237.4,433.7 234.7,432.3 232.0,433.0" fill="#fc6226" stroke="#3d1709"/>
<polygon points="245.4,436.1 248.0,435.7 245.3,434.2 242.7,434.6" fill="#ff8b2b" stroke="#3d210a"/>
<polygon points="250.7,437.3 253.3,437.0 250.7,435.4 248.0,435.7" fill="#ffa52f" stroke="#3d280b"/>
<polygon points="256.0,438.7 258.6,438.5 256.0,436.8 253.3,437.0" fill="#ffc135" stroke="#3d2e0d"/>
<polygon points="261.2,440.3 263.9,440.2 261.2,438.4 258.6,438.5" fill="#ffdc31" stroke="#3d350c"/>
<polygon points="266.5,442.1 269.1,442.0 266.5,440.1 263.9,440.2" fill="#f3e62c" stroke="#3a370b"/>
<polygon points="271.7,444.0 274.3,444.1 271.7,442.1 269.1,442.0" fill="#e2df29" stroke="#36350a"/>
<polygon points="276.9,446.2 279.5,446.3 276.9,444.2 274.3,444.1" fill="#aac225" stroke="#292e09"/>
<polygon points="199.9,434.6 202.6,433.3 199.9,432.4 197.2,433.8" fill="#fb5b26" stroke="#3c1609"/>
<polygon points="242.7,436.7 245.4,436.1 242.7,434.6 240.0,435.1" fill="#fe842a" stroke="#3d200a"/>
<polygon points="167.9,440.7 170.6,438.8 167.9,438.4 165.3,440.4" fill="#fbe22f" stroke="#3c360b"/>
<polygon points="173.2,439.2 175.9,437.4 173.2,437.0 170.6,438.8" fill="#ffc735" stroke="#3d300d"/>
<polygon points="183.9,436.8 186.5,435.2 183.9,434.6 181.2,436.2" fill="#ff922c" stroke="#3d230b"/>
<polygon points="189.2,435.9 191.9,434.4 189.2,433.7 186.5,435.2" fill="#fe7b29" stroke="#3d1d0a"/>
<polygon points="194.6,435.2 197.2,433.8 194.5,433.0 191.9,434.4" fill="#fd6827" stroke="#3d1909"/>
<polygon points="205.3,434.2 207.9,433.0 205.2,432.1 202.6,433.3" fill="#fa5526" stroke="#3c1409"/>
<polygon points="210.6,434.0 213.3,432.9 210.6,431.9 207.9,433.0" fill="#f95125" stroke="#3c1409"/>
<polygon points="216.0,434.0 218.6,433.0 216.0,431.9 213.3,432.9" fill="#f95125" stroke="#3c1309"/>
<polygon points="221.3,434.1 224.0,433.2 221.3,432.1 218.6,433.0" fill="#f95325" stroke="#3c1409"/>
<polygon points="226.7,434.5 229.3,433.7 226.7,432.4 224.0,433.2" fill="#fa5726" stroke="#3c1509"/>
<polygon points="232.0,435.0 234.7,434.3 232.0,433.0 229.3,433.7" fill="#fc5f26" stroke="#3c1709"/>
<polygon points="237.4,435.8 240.0,435.1 237.4,433.7 234.7,434.3" fill="#fd6f28" stroke="#3d1b0a"/>
<polygon points="248.0,437.8 250.7,437.3 248.0,435.7 245.4,436.1" fill="#ff9c2e" stroke="#3d250b"/>
<polygon points="253.3,439.0 256.0,438.7 253.3,437.0 250.7,437.3" fill="#ffb633" stroke="#3d2c0c"/>
<polygon points="258.6,440.5 261.2,440.3 258.6,438.5 256.0,438.7" fill="#ffd233" stroke="#3d320c"/>
<polygon points="269.1,444.0 271.7,444.0 269.1,442.0 266.5,442.1" fill="#eae32b" stroke="#38360a"/>
<polygon points="274.3,446.1 276.9,446.2 274.3,444.1 271.7,444.0" fill="#c4d027" stroke="#2f3209"/>
<polygon points="178.6,438.0 181.2,436.2 178.5,435.7 175.9,437.4" fill="#ffab31" stroke="#3d290c"/>
<polygon points="263.9,442.2 266.5,442.1 263.9,440.2 261.2,440.3" fill="#fbe92d" stroke="#3c380b"/>
<polygon points="170.6,441.2 173.2,439.2 170.6,438.8 167.9,440.7" fill="#ffd932" stroke="#3d340c"/>
<polygon points="181.2,438.5 183.9,436.8 181.2,436.2 178.6,438.0" fill="#ffa42f" stroke="#3d270b"/>
<polygon points="186.6,437.5 189.2,435.9 186.5,435.2 183.9,436.8" fill="#ff8d2b" stroke="#3d220a"/>
<polygon points="191.9,436.7 194.6,435.2 191.9,434.4 189.2,435.9" fill="#fd7829" stroke="#3d1d0a"/>
<polygon points="197.3,436.0 199.9,434.6 197.2,433.8 194.6,435.2" fill="#fc6727" stroke="#3d1909"/>
<polygon points="202.6,435.5 205.3,434.2 202.6,433.3 199.9,434.6" fill="#fb5c26" stroke="#3c1609"/>
<polygon points="208.0,435.2 210.6,434.0 207.9,433.0 205.3,434.2" fill="#fa5726" stroke="#3c1509"/>
<polygon points="213.3,435.1 216.0,434.0 213.3,432.9 210.6,434.0" fill="#fa5526" stroke="#3c1409"/>
<polygon points="218.7,435.1 221.3,434.1 218.6,433.0 216.0,434.0" fill="#fa5526" stroke="#3c1409"/>
<polygon points="224.0,435.4 226.7,434.5 224.0,433.2 221.3,434.1" fill="#fb5826" stroke="#3c1509"/>
<polygon points="229.4,435.8 232.0,435.0 229.3,433.7 226.7,434.5" fill="#fc5e26" stroke="#3c1709"/>
<polygon points="234.7,436.5 237.4,435.8 234.7,434.3 232.0,435.0" fill="#fd6c28" stroke="#3d1a09"/>
<polygon points="240.0,437.3 242.7,436.7 240.0,435.1 237.4,435.8" fill="#fe7e2a" stroke="#3d1e0a"/>
<polygon points="245.4,438.3 248.0,437.8 245.4,436.1 242.7,436.7" fill="#ff952c" stroke="#3d240b"/>
<polygon points="250.7,439.4 253.3,439.0 250.7,437.3 248.0,437.8" fill="#ffad31" stroke="#3d2a0c"/>
<polygon points="256.0,440.8 258.6,440.5 256.0,438.7 253.3,439.0" fill="#ffc835" stroke="#3d300d"/>
<polygon points="261.2,442.4 263.9,442.2 261.2,440.3 258.6,440.5" fill="#ffe330" stroke="#3d360b"/>
<polygon points="271.7,446.1 274.3,446.1 271.7,444.0 269.1,444.0" fill="#dddd29" stroke="#35350a"/>
<polygon points="175.9,439.8 178.6,438.0 175.9,437.4 173.2,439.2" fill="#ffbf35" stroke="#3d2e0d"/>
<polygon points="266.5,444.2 269.1,444.0 266.5,442.1 263.9,442.2" fill="#f2e62c" stroke="#3a370b"/>
<polygon points="189.3,438.3 191.9,436.7 189.2,435.9 186.6,437.5" fill="#fe892b" stroke="#3d210a"/>
<polygon points="194.6,437.5 197.3,436.0 194.6,435.2 191.9,436.7" fill="#fd7629" stroke="#3d1c0a"/>
<polygon points="210.6,436.3 213.3,435.1 210.6,434.0 208.0,435.2" fill="#fb5a26" stroke="#3c1609"/>
<polygon points="232.0,437.2 234.7,436.5 232.0,435.0 229.4,435.8" fill="#fd6b27" stroke="#3d1a09"/>
<polygon points="248.0,439.9 250.7,439.4 248.0,437.8 245.4,438.3" fill="#ffa630" stroke="#3d280b"/>
<polygon points="253.3,441.2 256.0,440.8 253.3,439.0 250.7,439.4" fill="#ffc035" stroke="#3d2e0d"/>
<polygon points="173.3,441.7 175.9,439.8 173.2,439.2 170.6,441.2" fill="#ffd233" stroke="#3d320c"/>
<polygon points="178.6,440.3 181.2,438.5 178.6,438.0 175.9,439.8" fill="#ffb834" stroke="#3d2c0c"/>
<polygon points="183.9,439.2 186.6,437.5 183.9,436.8 181.2,438.5" fill="#ffa02e" stroke="#3d260b"/>
<polygon points="199.9,436.9 202.6,435.5 199.9,434.6 197.3,436.0" fill="#fd6727" stroke="#3d1909"/>
<polygon points="205.3,436.5 208.0,435.2 205.3,434.2 202.6,435.5" fill="#fc5d26" stroke="#3c1609"/>
<polygon points="216.0,436.2 218.7,435.1 216.0,434.0 213.3,435.1" fill="#fb5926" stroke="#3c1509"/>
<polygon points="221.3,436.4 224.0,435.4 221.3,434.1 218.7,435.1" fill="#fb5a26" stroke="#3c1609"/>
<polygon points="226.7,436.7 229.4,435.8 226.7,434.5 224.0,435.4" fill="#fc5f26" stroke="#3c1709"/>
<polygon points="237.4,438.0 240.0,437.3 237.4,435.8 234.7,436.5" fill="#fe7b29" stroke="#3d1d0a"/>
<polygon points="242.7,438.9 245.4,438.3 242.7,436.7 240.0,437.3" fill="#ff8f2b" stroke="#3d220a"/>
<polygon points="258.6,442.7 261.2,442.4 258.6,440.5 256.0,440.8" fill="#ffd932" stroke="#3d340c"/>
<polygon points="263.9,444.4 266.5,444.2 263.9,442.2 261.2,442.4" fill="#f9ea2d" stroke="#3c380b"/>
<polygon points="269.1,446.2 271.7,446.1 269.1,444.0 266.5,444.2" fill="#e9e32a" stroke="#38360a"/>
<polygon points="186.6,439.9 189.3,438.3 186.6,437.5 183.9,439.2" fill="#ff9c2e" stroke="#3d250b"/>
<polygon points="191.9,439.1 194.6,437.5 191.9,436.7 189.3,438.3" fill="#fe882b" stroke="#3d210a"/>
<polygon points="208.0,437.6 210.6,436.3 208.0,435.2 205.3,436.5" fill="#fc6126" stroke="#3d1709"/>
<polygon points="213.3,437.4 216.0,436.2 213.3,435.1 210.6,436.3" fill="#fc5d26" stroke="#3c1609"/>
<polygon points="229.4,438.1 232.0,437.2 229.4,435.8 226.7,436.7" fill="#fd6c28" stroke="#3d1a09"/>
<polygon points="234.7,438.7 237.4,438.0 234.7,436.5 232.0,437.2" fill="#fe7929" stroke="#3d1d0a"/>
<polygon points="250.7,441.7 253.3,441.2 250.7,439.4 248.0,439.9" fill="#ffb833" stroke="#3d2c0c"/>
<polygon points="256.0,443.1 258.6,442.7 256.0,440.8 253.3,441.2" fill="#ffd133" stroke="#3d320c"/>
<polygon points="176.0,442.2 178.6,440.3 175.9,439.8 173.3,441.7" fill="#ffcc34" stroke="#3d310d"/>
<polygon points="181.3,441.0 183.9,439.2 181.2,438.5 178.6,440.3" fill="#ffb332" stroke="#3d2b0c"/>
<polygon points="197.3,438.4 199.9,436.9 197.3,436.0 194.6,437.5" fill="#fd7629" stroke="#3d1c0a"/>
<polygon points="202.6,437.9 205.3,436.5 202.6,435.5 199.9,436.9" fill="#fd6a27" stroke="#3d1909"/>
<polygon points="218.7,437.5 221.3,436.4 218.7,435.1 216.0,436.2" fill="#fc5e26" stroke="#3c1609"/>
<polygon points="224.0,437.7 226.7,436.7 224.0,435.4 221.3,436.4" fill="#fc6226" stroke="#3d1809"/>
<polygon points="240.0,439.5 242.7,438.9 240.0,437.3 237.4,438.0" fill="#ff8b2b" stroke="#3d210a"/>
<polygon points="245.4,440.5 248.0,439.9 245.4,438.3 242.7,438.9" fill="#ffa02f" stroke="#3d260b"/>
<polygon points="261.2,444.7 263.9,444.4 261.2,442.4 258.6,442.7" fill="#ffeb2e" stroke="#3d380b"/>
<polygon points="266.5,446.4 269.1,446.2 266.5,444.2 263.9,444.4" fill="#f0e72c" stroke="#3a370a"/>
<polygon points="178.6,442.9 181.3,441.0 178.6,440.3 176.0,442.2" fill="#ffc835" stroke="#3d300d"/>
<polygon points="183.9,441.7 186.6,439.9 183.9,439.2 181.3,441.0" fill="#ffaf32" stroke="#3d2a0c"/>
<polygon points="189.3,440.8 191.9,439.1 189.3,438.3 186.6,439.9" fill="#ff9a2d" stroke="#3d250b"/>
<polygon points="194.6,440.0 197.3,438.4 194.6,437.5 191.9,439.1" fill="#fe872b" stroke="#3d200a"/>
<polygon points="200.0,439.4 202.6,437.9 199.9,436.9 197.3,438.4" fill="#fd7829" stroke="#3d1d0a"/>
<polygon points="205.3,438.9 208.0,437.6 205.3,436.5 202.6,437.9" fill="#fd6d28" stroke="#3d1a0a"/>
<polygon points="210.7,438.7 213.3,437.4 210.6,436.3 208.0,437.6" fill="#fc6727" stroke="#3d1909"/>
<polygon points="216.0,438.6 218.7,437.5 216.0,436.2 213.3,437.4" fill="#fc6527" stroke="#3d1809"/>
<polygon points="221.4,438.8 224.0,437.7 221.3,436.4 218.7,437.5" fill="#fd6727" stroke="#3d1909"/>
<polygon points="226.7,439.1 229.4,438.1 226.7,436.7 224.0,437.7" fill="#fd6e28" stroke="#3d1a0a"/>
<polygon points="232.0,439.6 234.7,438.7 232.0,437.2 229.4,438.1" fill="#fe7929" stroke="#3d1d0a"/>
<polygon points="237.4,440.3 240.0,439.5 237.4,438.0 234.7,438.7" fill="#fe892b" stroke="#3d210a"/>
<polygon points="242.7,441.2 245.4,440.5 242.7,438.9 240.0,439.5" fill="#ff9c2e" stroke="#3d250b"/>
<polygon points="248.0,442.3 250.7,441.7 248.0,439.9 245.4,440.5" fill="#ffb232" stroke="#3d2b0c"/>
<polygon points="253.3,443.6 256.0,443.1 253.3,441.2 250.7,441.7" fill="#ffca35" stroke="#3d310d"/>
<polygon points="258.6,445.0 261.2,444.7 258.6,442.7 256.0,443.1" fill="#ffe330" stroke="#3d360b"/>
<polygon points="263.9,446.7 266.5,446.4 263.9,444.4 261.2,444.7" fill="#f7ea2d" stroke="#3b380b"/>
<polygon points="181.3,443.6 183.9,441.7 181.3,441.0 178.6,442.9" fill="#ffc436" stroke="#3d2f0d"/>
<polygon points="186.6,442.5 189.3,440.8 186.6,439.9 183.9,441.7" fill="#ffad31" stroke="#3d2a0c"/>
<polygon points="197.3,440.9 200.0,439.4 197.3,438.4 194.6,440.0" fill="#fe892b" stroke="#3d210a"/>
<polygon points="202.6,440.4 205.3,438.9 202.6,437.9 200.0,439.4" fill="#fe7b29" stroke="#3d1e0a"/>
<polygon points="208.0,440.1 210.7,438.7 208.0,437.6 205.3,438.9" fill="#fd7328" stroke="#3d1c0a"/>
<polygon points="218.7,440.0 221.4,438.8 218.7,437.5 216.0,438.6" fill="#fd6e28" stroke="#3d1b0a"/>
<polygon points="224.0,440.2 226.7,439.1 224.0,437.7 221.4,438.8" fill="#fd7328" stroke="#3d1c0a"/>
<polygon points="234.7,441.2 237.4,440.3 234.7,438.7 232.0,439.6" fill="#fe892b" stroke="#3d210a"/>
<polygon points="240.0,442.0 242.7,441.2 240.0,439.5 237.4,440.3" fill="#ff9a2d" stroke="#3d250b"/>
<polygon points="245.4,443.0 248.0,442.3 245.4,440.5 242.7,441.2" fill="#ffae31" stroke="#3d2a0c"/>
<polygon points="256.0,445.5 258.6,445.0 256.0,443.1 253.3,443.6" fill="#ffdc31" stroke="#3d350c"/>
<polygon points="261.2,447.1 263.9,446.7 261.2,444.7 258.6,445.0" fill="#fded2e" stroke="#3d390b"/>
<polygon points="192.0,441.6 194.6,440.0 191.9,439.1 189.3,440.8" fill="#ff992d" stroke="#3d250b"/>
<polygon points="213.3,439.9 216.0,438.6 213.3,437.4 210.7,438.7" fill="#fd6e28" stroke="#3d1a0a"/>
<polygon points="229.4,440.6 232.0,439.6 229.4,438.1 226.7,439.1" fill="#fe7c29" stroke="#3d1e0a"/>
<polygon points="250.7,444.1 253.3,443.6 250.7,441.7 248.0,442.3" fill="#ffc536" stroke="#3d2f0d"/>
<polygon points="184.0,444.4 186.6,442.5 183.9,441.7 181.3,443.6" fill="#ffc235" stroke="#3d2e0d"/>
<polygon points="194.6,442.6 197.3,440.9 194.6,440.0 192.0,441.6" fill="#ff9a2d" stroke="#3d250b"/>
<polygon points="200.0,442.0 202.6,440.4 200.0,439.4 197.3,440.9" fill="#ff8c2b" stroke="#3d210a"/>
<polygon points="205.3,441.5 208.0,440.1 205.3,438.9 202.6,440.4" fill="#fe802a" stroke="#3d1f0a"/>
<polygon points="216.0,441.2 218.7,440.0 216.0,438.6 213.3,439.9" fill="#fd7729" stroke="#3d1d0a"/>
<polygon points="221.4,441.3 224.0,440.2 221.4,438.8 218.7,440.0" fill="#fe7a29" stroke="#3d1d0a"/>
<polygon points="226.7,441.6 229.4,440.6 226.7,439.1 224.0,440.2" fill="#fe802a" stroke="#3d1f0a"/>
<polygon points="237.4,442.8 240.0,442.0 237.4,440.3 234.7,441.2" fill="#ff992d" stroke="#3d250b"/>
<polygon points="242.7,443.7 245.4,443.0 242.7,441.2 240.0,442.0" fill="#ffab31" stroke="#3d290c"/>
<polygon points="248.0,444.8 250.7,444.1 248.0,442.3 245.4,443.0" fill="#ffc035" stroke="#3d2e0d"/>
<polygon points="258.6,447.5 261.2,447.1 258.6,445.0 256.0,445.5" fill="#ffec2e" stroke="#3d390b"/>
<polygon points="189.3,443.4 192.0,441.6 189.3,440.8 186.6,442.5" fill="#ffac31" stroke="#3d290c"/>
<polygon points="210.7,441.3 213.3,439.9 210.7,438.7 208.0,440.1" fill="#fe7a29" stroke="#3d1d0a"/>
<polygon points="232.1,442.1 234.7,441.2 232.0,439.6 229.4,440.6" fill="#fe8b2b" stroke="#3d210a"/>
<polygon points="253.3,446.1 256.0,445.5 253.3,443.6 250.7,444.1" fill="#ffd632" stroke="#3d330c"/>
<polygon points="186.7,445.3 189.3,443.4 186.6,442.5 184.0,444.4" fill="#ffc035" stroke="#3d2e0d"/>
<polygon points="192.0,444.4 194.6,442.6 192.0,441.6 189.3,443.4" fill="#ffac31" stroke="#3d290c"/>
<polygon points="197.3,443.6 200.0,442.0 197.3,440.9 194.6,442.6" fill="#ff9c2e" stroke="#3d260b"/>
<polygon points="202.7,443.1 205.3,441.5 202.6,440.4 200.0,442.0" fill="#ff902c" stroke="#3d230a"/>
<polygon points="208.0,442.7 210.7,441.3 208.0,440.1 205.3,441.5" fill="#fe872b" stroke="#3d200a"/>
<polygon points="213.4,442.6 216.0,441.2 213.3,439.9 210.7,441.3" fill="#fe822a" stroke="#3d1f0a"/>
<polygon points="218.7,442.6 221.4,441.3 218.7,440.0 216.0,441.2" fill="#fe822a" stroke="#3d1f0a"/>
<polygon points="224.0,442.8 226.7,441.6 224.0,440.2 221.4,441.3" fill="#fe862a" stroke="#3d200a"/>
<polygon points="229.4,443.2 232.1,442.1 229.4,440.6 226.7,441.6" fill="#ff8f2b" stroke="#3d220a"/>
<polygon points="234.7,443.8 237.4,442.8 234.7,441.2 232.1,442.1" fill="#ff9b2d" stroke="#3d250b"/>
<polygon points="240.1,444.6 242.7,443.7 240.0,442.0 237.4,442.8" fill="#ffaa31" stroke="#3d290c"/>
<polygon points="245.4,445.5 248.0,444.8 245.4,443.0 242.7,443.7" fill="#ffbd35" stroke="#3d2d0d"/>
<polygon points="250.7,446.7 253.3,446.1 250.7,444.1 248.0,444.8" fill="#ffd233" stroke="#3d320c"/>
<polygon points="256.0,448.1 258.6,447.5 256.0,445.5 253.3,446.1" fill="#ffe82f" stroke="#3d380b"/>
<polygon points="189.3,446.2 192.0,444.4 189.3,443.4 186.7,445.3" fill="#ffc035" stroke="#3d2e0d"/>
<polygon points="194.7,445.4 197.3,443.6 194.6,442.6 192.0,444.4" fill="#ffae31" stroke="#3d2a0c"/>
<polygon points="200.0,444.8 202.7,443.1 200.0,442.0 197.3,443.6" fill="#ffa02f" stroke="#3d260b"/>
<polygon points="205.3,444.3 208.0,442.7 205.3,441.5 202.7,443.1" fill="#ff962c" stroke="#3d240b"/>
<polygon points="210.7,444.0 213.4,442.6 210.7,441.3 208.0,442.7" fill="#ff8f2b" stroke="#3d220a"/>
<polygon points="216.0,443.9 218.7,442.6 216.0,441.2 213.4,442.6" fill="#ff8d2b" stroke="#3d220a"/>
<polygon points="221.4,444.1 224.0,442.8 221.4,441.3 218.7,442.6" fill="#ff8e2b" stroke="#3d220a"/>
<polygon points="226.7,444.4 229.4,443.2 226.7,441.6 224.0,442.8" fill="#ff942c" stroke="#3d240b"/>
<polygon points="232.1,444.8 234.7,443.8 232.1,442.1 229.4,443.2" fill="#ff9e2e" stroke="#3d260b"/>
<polygon points="237.4,445.5 240.1,444.6 237.4,442.8 234.7,443.8" fill="#ffab31" stroke="#3d290c"/>
<polygon points="242.7,446.4 245.4,445.5 242.7,443.7 240.1,444.6" fill="#ffbc34" stroke="#3d2d0d"/>
<polygon points="248.0,447.5 250.7,446.7 248.0,444.8 245.4,445.5" fill="#ffcf34" stroke="#3d320c"/>
<polygon points="253.3,448.7 256.0,448.1 253.3,446.1 250.7,446.7" fill="#ffe430" stroke="#3d370b"/>
<polygon points="192.0,447.3 194.7,445.4 192.0,444.4 189.3,446.2" fill="#ffc236" stroke="#3d2e0d"/>
<polygon points="197.4,446.5 200.0,444.8 197.3,443.6 194.7,445.4" fill="#ffb132" stroke="#3d2b0c"/>
<polygon points="208.0,445.6 210.7,444.0 208.0,442.7 205.3,444.3" fill="#ff9d2e" stroke="#3d260b"/>
<polygon points="213.4,445.4 216.0,443.9 213.4,442.6 210.7,444.0" fill="#ff982d" stroke="#3d250b"/>
<polygon points="218.7,445.4 221.4,444.1 218.7,442.6 216.0,443.9" fill="#ff982d" stroke="#3d240b"/>
<polygon points="224.1,445.6 226.7,444.4 224.0,442.8 221.4,444.1" fill="#ff9b2d" stroke="#3d250b"/>
<polygon points="229.4,446.0 232.1,444.8 229.4,443.2 226.7,444.4" fill="#ffa22f" stroke="#3d270b"/>
<polygon points="234.7,446.6 237.4,445.5 234.7,443.8 232.1,444.8" fill="#ffae31" stroke="#3d2a0c"/>
<polygon points="245.4,448.3 248.0,447.5 245.4,445.5 242.7,446.4" fill="#ffce34" stroke="#3d310c"/>
<polygon points="250.7,449.5 253.3,448.7 250.7,446.7 248.0,447.5" fill="#ffe130" stroke="#3d360c"/>
<polygon points="202.7,446.0 205.3,444.3 202.7,443.1 200.0,444.8" fill="#ffa530" stroke="#3d280b"/>
<polygon points="240.1,447.3 242.7,446.4 240.1,444.6 237.4,445.5" fill="#ffbd34" stroke="#3d2d0d"/>
<polygon points="210.7,446.9 213.4,445.4 210.7,444.0 208.0,445.6" fill="#ffa530" stroke="#3d280b"/>
<polygon points="232.1,447.7 234.7,446.6 232.1,444.8 229.4,446.0" fill="#ffb232" stroke="#3d2b0c"/>
<polygon points="194.7,448.4 197.4,446.5 194.7,445.4 192.0,447.3" fill="#ffc436" stroke="#3d2f0d"/>
<polygon points="205.4,447.2 208.0,445.6 205.3,444.3 202.7,446.0" fill="#ffac31" stroke="#3d290c"/>
<polygon points="216.1,446.8 218.7,445.4 216.0,443.9 213.4,445.4" fill="#ffa22f" stroke="#3d270b"/>
<polygon points="221.4,446.9 224.1,445.6 221.4,444.1 218.7,445.4" fill="#ffa42f" stroke="#3d270b"/>
<polygon points="226.7,447.2 229.4,446.0 226.7,444.4 224.1,445.6" fill="#ffa930" stroke="#3d290c"/>
<polygon points="237.4,448.4 240.1,447.3 237.4,445.5 234.7,446.6" fill="#ffbf35" stroke="#3d2e0d"/>
<polygon points="248.0,450.3 250.7,449.5 248.0,447.5 245.4,448.3" fill="#ffdf31" stroke="#3d360c"/>
<polygon points="200.0,447.7 202.7,446.0 200.0,444.8 197.4,446.5" fill="#ffb633" stroke="#3d2c0c"/>
<polygon points="242.7,449.2 245.4,448.3 242.7,446.4 240.1,447.3" fill="#ffce34" stroke="#3d310c"/>
<polygon points="208.1,448.6 210.7,446.9 208.0,445.6 205.4,447.2" fill="#ffb433" stroke="#3d2b0c"/>
<polygon points="234.7,449.5 237.4,448.4 234.7,446.6 232.1,447.7" fill="#ffc336" stroke="#3d2f0d"/>
<polygon points="197.4,449.6 200.0,447.7 197.4,446.5 194.7,448.4" fill="#ffc835" stroke="#3d300d"/>
<polygon points="202.7,449.0 205.4,447.2 202.7,446.0 200.0,447.7" fill="#ffbc34" stroke="#3d2d0d"/>
<polygon points="213.4,448.4 216.1,446.8 213.4,445.4 210.7,446.9" fill="#ffaf32" stroke="#3d2a0c"/>
<polygon points="218.7,448.4 221.4,446.9 218.7,445.4 216.1,446.8" fill="#ffae31" stroke="#3d2a0c"/>
<polygon points="224.1,448.6 226.7,447.2 224.1,445.6 221.4,446.9" fill="#ffb132" stroke="#3d2a0c"/>
<polygon points="229.4,448.9 232.1,447.7 229.4,446.0 226.7,447.2" fill="#ffb834" stroke="#3d2c0c"/>
<polygon points="240.1,450.3 242.7,449.2 240.1,447.3 237.4,448.4" fill="#ffcf34" stroke="#3d320c"/>
<polygon points="245.4,451.2 248.0,450.3 245.4,448.3 242.7,449.2" fill="#ffdf31" stroke="#3d360c"/>
<polygon points="200.1,450.8 202.7,449.0 200.0,447.7 197.4,449.6" fill="#ffcd34" stroke="#3d310d"/>
<polygon points="205.4,450.3 208.1,448.6 205.4,447.2 202.7,449.0" fill="#ffc436" stroke="#3d2f0d"/>
<polygon points="210.7,450.0 213.4,448.4 210.7,446.9 208.1,448.6" fill="#ffbd35" stroke="#3d2d0d"/>
<polygon points="216.1,449.9 218.7,448.4 216.1,446.8 213.4,448.4" fill="#ffba34" stroke="#3d2d0c"/>
<polygon points="221.4,450.0 224.1,448.6 221.4,446.9 218.7,448.4" fill="#ffbb34" stroke="#3d2d0d"/>
<polygon points="226.7,450.3 229.4,448.9 226.7,447.2 224.1,448.6" fill="#ffc035" stroke="#3d2e0d"/>
<polygon points="232.1,450.7 234.7,449.5 232.1,447.7 229.4,448.9" fill="#ffc835" stroke="#3d300d"/>
<polygon points="237.4,451.4 240.1,450.3 237.4,448.4 234.7,449.5" fill="#ffd233" stroke="#3d320c"/>
<polygon points="242.7,452.2 245.4,451.2 242.7,449.2 240.1,450.3" fill="#ffe030" stroke="#3d360c"/>
<polygon points="202.7,452.2 205.4,450.3 202.7,449.0 200.1,450.8" fill="#ffd333" stroke="#3d330c"/>
<polygon points="208.1,451.8 210.7,450.0 208.1,448.6 205.4,450.3" fill="#ffcb35" stroke="#3d310d"/>
<polygon points="213.4,451.5 216.1,449.9 213.4,448.4 210.7,450.0" fill="#ffc735" stroke="#3d300d"/>
<polygon points="218.8,451.5 221.4,450.0 218.7,448.4 216.1,449.9" fill="#ffc636" stroke="#3d300d"/>
<polygon points="224.1,451.7 226.7,450.3 224.1,448.6 221.4,450.0" fill="#ffc835" stroke="#3d300d"/>
<polygon points="229.4,452.0 232.1,450.7 229.4,448.9 226.7,450.3" fill="#ffce34" stroke="#3d310c"/>
<polygon points="234.7,452.6 237.4,451.4 234.7,449.5 232.1,450.7" fill="#ffd732" stroke="#3d340c"/>
<polygon points="240.1,453.4 242.7,452.2 240.1,450.3 237.4,451.4" fill="#ffe330" stroke="#3d360b"/>
<polygon points="205.4,453.6 208.1,451.8 205.4,450.3 202.7,452.2" fill="#ffda32" stroke="#3d340c"/>
<polygon points="210.8,453.3 213.4,451.5 210.7,450.0 208.1,451.8" fill="#ffd433" stroke="#3d330c"/>
<polygon points="216.1,453.1 218.8,451.5 216.1,449.9 213.4,451.5" fill="#ffd133" stroke="#3d320c"/>
<polygon points="221.4,453.2 224.1,451.7 221.4,450.0 218.8,451.5" fill="#ffd233" stroke="#3d320c"/>
<polygon points="226.8,453.5 229.4,452.0 226.7,450.3 224.1,451.7" fill="#ffd632" stroke="#3d330c"/>
<polygon points="232.1,453.9 234.7,452.6 232.1,450.7 229.4,452.0" fill="#ffdd31" stroke="#3d350c"/>
<polygon points="237.4,454.6 240.1,453.4 237.4,451.4 234.7,452.6" fill="#ffe72f" stroke="#3d370b"/>
<polygon points="208.1,455.1 210.8,453.3 208.1,451.8 205.4,453.6" fill="#ffe230" stroke="#3d360c"/>
<polygon points="213.4,454.9 216.1,453.1 213.4,451.5 210.8,453.3" fill="#ffde31" stroke="#3d350c"/>
<polygon points="218.8,454.8 221.4,453.2 218.8,451.5 216.1,453.1" fill="#ffdd31" stroke="#3d350c"/>
<polygon points="224.1,455.0 226.8,453.5 224.1,451.7 221.4,453.2" fill="#ffdf31" stroke="#3d350c"/>
<polygon points="229.4,455.3 232.1,453.9 229.4,452.0 226.8,453.5" fill="#ffe430" stroke="#3d370b"/>
<polygon points="234.8,455.9 237.4,454.6 234.7,452.6 232.1,453.9" fill="#ffec2e" stroke="#3d390b"/>
<polygon points="210.8,456.7 213.4,454.9 210.8,453.3 208.1,455.1" fill="#ffec2e" stroke="#3d390b"/>
<polygon points="216.1,456.5 218.8,454.8 216.1,453.1 213.4,454.9" fill="#ffe92f" stroke="#3d380b"/>
<polygon points="221.4,456.6 224.1,455.0 221.4,453.2 218.8,454.8" fill="#ffe92f" stroke="#3d380b"/>
<polygon points="226.8,456.8 229.4,455.3 226.8,453.5 224.1,455.0" fill="#ffec2e" stroke="#3d390b"/>
<polygon points="232.1,457.3 234.8,455.9 232.1,453.9 229.4,455.3" fill="#ffed2e" stroke="#3d390b"/>
<polygon points="213.5,458.4 216.1,456.5 213.4,454.9 210.8,456.7" fill="#ffee2e" stroke="#3d390b"/>
<polygon points="218.8,458.3 221.4,456.6 218.8,454.8 216.1,456.5" fill="#ffee2e" stroke="#3d390b"/>
<polygon points="224.1,458.4 226.8,456.8 224.1,455.0 221.4,456.6" fill="#ffee2e" stroke="#3d390b"/>
<polygon points="229.4,458.8 232.1,457.3 229.4,455.3 226.8,456.8" fill="#feef2e" stroke="#3d390b"/>
<polygon points="216.1,460.1 218.8,458.3 216.1,456.5 213.5,458.4" fill="#fef02e" stroke="#3d3a0b"/>
<polygon points="221.5,460.2 224.1,458.4 221.4,456.6 218.8,458.3" fill="#fef02e" stroke="#3d3a0b"/>
<polygon points="226.8,460.4 229.4,458.8 226.8,456.8 224.1,458.4" fill="#fef02e" stroke="#3d3a0b"/>
<polygon points="218.8,462.0 221.5,460.2 218.8,458.3 216.1,460.1" fill="#fef22e" stroke="#3d3a0b"/>
<polygon points="224.1,462.1 226.8,460.4 224.1,458.4 221.5,460.2" fill="#fdf22e" stroke="#3d3a0b"/>
<polygon points="221.5,463.9 224.1,462.1 221.5,460.2 218.8,462.0" fill="#fdf42e" stroke="#3d3b0b"/>
</g>
<circle cx="221.3" cy="425.7" r="1.45" fill="#9a1212"/>
<circle cx="221.3" cy="422.1" r="1.45" fill="#9a1212"/>
<text x="152.4" y="503.2" font-size="5.2" text-anchor="end" textLength="6.0" lengthAdjust="spacingAndGlyphs">40</text>
<text x="168.6" y="510.9" font-size="5.2" text-anchor="end" textLength="10.6" lengthAdjust="spacingAndGlyphs">37.5</text>
<text x="184.9" y="518.6" font-size="5.2" text-anchor="end" textLength="6.0" lengthAdjust="spacingAndGlyphs">35</text>
<text x="201.2" y="526.4" font-size="5.2" text-anchor="end" textLength="10.6" lengthAdjust="spacingAndGlyphs">32.5</text>
<text x="217.4" y="534.1" font-size="5.2" text-anchor="end" textLength="6.0" lengthAdjust="spacingAndGlyphs">30</text>
<text x="223.8" y="534.1" font-size="5.2" text-anchor="start" textLength="7.5" lengthAdjust="spacingAndGlyphs">2.5</text>
<text x="240.1" y="526.6" font-size="5.2" text-anchor="start" textLength="10.6" lengthAdjust="spacingAndGlyphs">3.75</text>
<text x="256.3" y="519.0" font-size="5.2" text-anchor="start" textLength="3.0" lengthAdjust="spacingAndGlyphs">5</text>
<text x="272.6" y="511.5" font-size="5.2" text-anchor="start" textLength="10.6" lengthAdjust="spacingAndGlyphs">6.25</text>
<text x="288.8" y="504.0" font-size="5.2" text-anchor="start" textLength="7.5" lengthAdjust="spacingAndGlyphs">7.5</text>
<text x="158.0" y="526.1" font-size="5.2" text-anchor="middle" textLength="52" lengthAdjust="spacingAndGlyphs">C: Temperature (ºC)</text>
<text x="276.7" y="526.1" font-size="5.2" text-anchor="middle" textLength="40.2" lengthAdjust="spacingAndGlyphs">B: Peptone (g/l)</text>
<text transform="translate(129.0,458.1) rotate(-90)" font-size="4.9" text-anchor="middle" textLength="30" lengthAdjust="spacingAndGlyphs">R1 PHB (g/l)</text>
<circle cx="79.5" cy="41.5" r="10.6" fill="#000"/><text x="79.5" y="48.6" font-size="22" style="font-weight:normal;fill:#fff" text-anchor="middle">A</text>
<circle cx="27.2" cy="343.8" r="10.6" fill="#000"/><text x="27.2" y="350.9" font-size="22" style="font-weight:normal;fill:#fff" text-anchor="middle">B</text>
<circle cx="402.1" cy="331.3" r="10.6" fill="#000"/><text x="402.1" y="338.4" font-size="22" style="font-weight:normal;fill:#fff" text-anchor="middle">C</text>
<circle cx="92.2" cy="464.0" r="10.6" fill="#000"/><text x="92.2" y="471.1" font-size="22" style="font-weight:normal;fill:#fff" text-anchor="middle">D</text>
</svg></body></html>
